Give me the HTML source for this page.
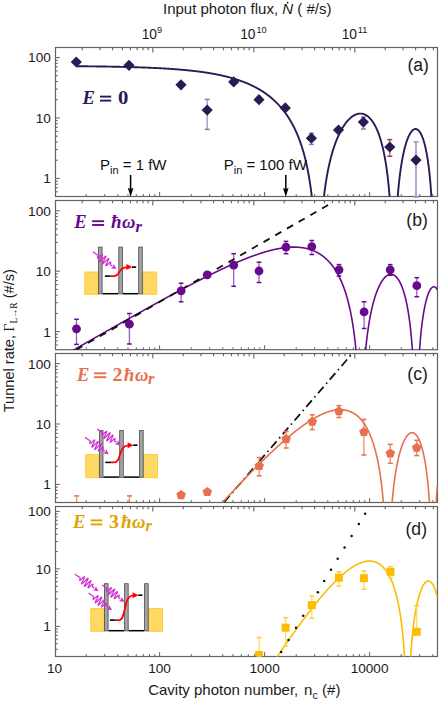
<!DOCTYPE html>
<html><head><meta charset="utf-8"><style>
html,body{margin:0;padding:0;background:#fff;width:443px;height:706px;overflow:hidden}
svg{display:block;font-family:"Liberation Sans",sans-serif}
</style></head><body>
<svg width="443" height="706" viewBox="0 0 443 706">
<defs><clipPath id="clipa"><rect x="55.5" y="47.5" width="382.0" height="149.0"/></clipPath><clipPath id="clipb"><rect x="55.5" y="200.5" width="382.0" height="149.2"/></clipPath><clipPath id="clipc"><rect x="55.5" y="353.5" width="382.0" height="149.0"/></clipPath><clipPath id="clipd"><rect x="55.5" y="506.5" width="382.0" height="150.0"/></clipPath></defs>
<rect x="55.5" y="47.5" width="382.0" height="149.0" fill="none" stroke="#626262" stroke-width="1.2"/>
<line x1="55.5" y1="191.81" x2="57.9" y2="191.81" stroke="#626262" stroke-width="1"/>
<line x1="55.5" y1="187.76" x2="57.9" y2="187.76" stroke="#626262" stroke-width="1"/>
<line x1="55.5" y1="184.26" x2="57.9" y2="184.26" stroke="#626262" stroke-width="1"/>
<line x1="55.5" y1="181.17" x2="57.9" y2="181.17" stroke="#626262" stroke-width="1"/>
<line x1="55.5" y1="178.40" x2="59.9" y2="178.40" stroke="#626262" stroke-width="1"/>
<line x1="55.5" y1="160.20" x2="57.9" y2="160.20" stroke="#626262" stroke-width="1"/>
<line x1="55.5" y1="149.56" x2="57.9" y2="149.56" stroke="#626262" stroke-width="1"/>
<line x1="55.5" y1="142.01" x2="57.9" y2="142.01" stroke="#626262" stroke-width="1"/>
<line x1="55.5" y1="136.15" x2="57.9" y2="136.15" stroke="#626262" stroke-width="1"/>
<line x1="55.5" y1="131.36" x2="57.9" y2="131.36" stroke="#626262" stroke-width="1"/>
<line x1="55.5" y1="127.31" x2="57.9" y2="127.31" stroke="#626262" stroke-width="1"/>
<line x1="55.5" y1="123.81" x2="57.9" y2="123.81" stroke="#626262" stroke-width="1"/>
<line x1="55.5" y1="120.72" x2="57.9" y2="120.72" stroke="#626262" stroke-width="1"/>
<line x1="55.5" y1="117.95" x2="59.9" y2="117.95" stroke="#626262" stroke-width="1"/>
<line x1="55.5" y1="99.75" x2="57.9" y2="99.75" stroke="#626262" stroke-width="1"/>
<line x1="55.5" y1="89.11" x2="57.9" y2="89.11" stroke="#626262" stroke-width="1"/>
<line x1="55.5" y1="81.56" x2="57.9" y2="81.56" stroke="#626262" stroke-width="1"/>
<line x1="55.5" y1="75.70" x2="57.9" y2="75.70" stroke="#626262" stroke-width="1"/>
<line x1="55.5" y1="70.91" x2="57.9" y2="70.91" stroke="#626262" stroke-width="1"/>
<line x1="55.5" y1="66.86" x2="57.9" y2="66.86" stroke="#626262" stroke-width="1"/>
<line x1="55.5" y1="63.36" x2="57.9" y2="63.36" stroke="#626262" stroke-width="1"/>
<line x1="55.5" y1="60.27" x2="57.9" y2="60.27" stroke="#626262" stroke-width="1"/>
<line x1="55.5" y1="57.50" x2="59.9" y2="57.50" stroke="#626262" stroke-width="1"/>
<line x1="86.21" y1="196.5" x2="86.21" y2="194.1" stroke="#626262" stroke-width="1"/>
<line x1="104.70" y1="196.5" x2="104.70" y2="194.1" stroke="#626262" stroke-width="1"/>
<line x1="117.82" y1="196.5" x2="117.82" y2="194.1" stroke="#626262" stroke-width="1"/>
<line x1="127.99" y1="196.5" x2="127.99" y2="194.1" stroke="#626262" stroke-width="1"/>
<line x1="136.31" y1="196.5" x2="136.31" y2="194.1" stroke="#626262" stroke-width="1"/>
<line x1="143.34" y1="196.5" x2="143.34" y2="194.1" stroke="#626262" stroke-width="1"/>
<line x1="149.42" y1="196.5" x2="149.42" y2="194.1" stroke="#626262" stroke-width="1"/>
<line x1="154.80" y1="196.5" x2="154.80" y2="194.1" stroke="#626262" stroke-width="1"/>
<line x1="159.60" y1="196.5" x2="159.60" y2="192.1" stroke="#626262" stroke-width="1"/>
<line x1="191.21" y1="196.5" x2="191.21" y2="194.1" stroke="#626262" stroke-width="1"/>
<line x1="209.70" y1="196.5" x2="209.70" y2="194.1" stroke="#626262" stroke-width="1"/>
<line x1="222.82" y1="196.5" x2="222.82" y2="194.1" stroke="#626262" stroke-width="1"/>
<line x1="232.99" y1="196.5" x2="232.99" y2="194.1" stroke="#626262" stroke-width="1"/>
<line x1="241.31" y1="196.5" x2="241.31" y2="194.1" stroke="#626262" stroke-width="1"/>
<line x1="248.34" y1="196.5" x2="248.34" y2="194.1" stroke="#626262" stroke-width="1"/>
<line x1="254.42" y1="196.5" x2="254.42" y2="194.1" stroke="#626262" stroke-width="1"/>
<line x1="259.80" y1="196.5" x2="259.80" y2="194.1" stroke="#626262" stroke-width="1"/>
<line x1="264.60" y1="196.5" x2="264.60" y2="192.1" stroke="#626262" stroke-width="1"/>
<line x1="296.21" y1="196.5" x2="296.21" y2="194.1" stroke="#626262" stroke-width="1"/>
<line x1="314.70" y1="196.5" x2="314.70" y2="194.1" stroke="#626262" stroke-width="1"/>
<line x1="327.82" y1="196.5" x2="327.82" y2="194.1" stroke="#626262" stroke-width="1"/>
<line x1="337.99" y1="196.5" x2="337.99" y2="194.1" stroke="#626262" stroke-width="1"/>
<line x1="346.31" y1="196.5" x2="346.31" y2="194.1" stroke="#626262" stroke-width="1"/>
<line x1="353.34" y1="196.5" x2="353.34" y2="194.1" stroke="#626262" stroke-width="1"/>
<line x1="359.42" y1="196.5" x2="359.42" y2="194.1" stroke="#626262" stroke-width="1"/>
<line x1="364.80" y1="196.5" x2="364.80" y2="194.1" stroke="#626262" stroke-width="1"/>
<line x1="369.60" y1="196.5" x2="369.60" y2="192.1" stroke="#626262" stroke-width="1"/>
<line x1="401.21" y1="196.5" x2="401.21" y2="194.1" stroke="#626262" stroke-width="1"/>
<line x1="419.70" y1="196.5" x2="419.70" y2="194.1" stroke="#626262" stroke-width="1"/>
<line x1="432.82" y1="196.5" x2="432.82" y2="194.1" stroke="#626262" stroke-width="1"/>
<line x1="82.20" y1="47.5" x2="82.20" y2="50.2" stroke="#626262" stroke-width="1.1"/>
<line x1="99.99" y1="47.5" x2="99.99" y2="50.2" stroke="#626262" stroke-width="1.1"/>
<line x1="112.61" y1="47.5" x2="112.61" y2="50.2" stroke="#626262" stroke-width="1.1"/>
<line x1="122.40" y1="47.5" x2="122.40" y2="50.2" stroke="#626262" stroke-width="1.1"/>
<line x1="130.39" y1="47.5" x2="130.39" y2="50.2" stroke="#626262" stroke-width="1.1"/>
<line x1="137.15" y1="47.5" x2="137.15" y2="50.2" stroke="#626262" stroke-width="1.1"/>
<line x1="143.01" y1="47.5" x2="143.01" y2="50.2" stroke="#626262" stroke-width="1.1"/>
<line x1="148.18" y1="47.5" x2="148.18" y2="50.2" stroke="#626262" stroke-width="1.1"/>
<line x1="152.80" y1="47.5" x2="152.80" y2="52.5" stroke="#626262" stroke-width="1.1"/>
<line x1="183.20" y1="47.5" x2="183.20" y2="50.2" stroke="#626262" stroke-width="1.1"/>
<line x1="200.99" y1="47.5" x2="200.99" y2="50.2" stroke="#626262" stroke-width="1.1"/>
<line x1="213.61" y1="47.5" x2="213.61" y2="50.2" stroke="#626262" stroke-width="1.1"/>
<line x1="223.40" y1="47.5" x2="223.40" y2="50.2" stroke="#626262" stroke-width="1.1"/>
<line x1="231.39" y1="47.5" x2="231.39" y2="50.2" stroke="#626262" stroke-width="1.1"/>
<line x1="238.15" y1="47.5" x2="238.15" y2="50.2" stroke="#626262" stroke-width="1.1"/>
<line x1="244.01" y1="47.5" x2="244.01" y2="50.2" stroke="#626262" stroke-width="1.1"/>
<line x1="249.18" y1="47.5" x2="249.18" y2="50.2" stroke="#626262" stroke-width="1.1"/>
<line x1="253.80" y1="47.5" x2="253.80" y2="52.5" stroke="#626262" stroke-width="1.1"/>
<line x1="284.20" y1="47.5" x2="284.20" y2="50.2" stroke="#626262" stroke-width="1.1"/>
<line x1="301.99" y1="47.5" x2="301.99" y2="50.2" stroke="#626262" stroke-width="1.1"/>
<line x1="314.61" y1="47.5" x2="314.61" y2="50.2" stroke="#626262" stroke-width="1.1"/>
<line x1="324.40" y1="47.5" x2="324.40" y2="50.2" stroke="#626262" stroke-width="1.1"/>
<line x1="332.39" y1="47.5" x2="332.39" y2="50.2" stroke="#626262" stroke-width="1.1"/>
<line x1="339.15" y1="47.5" x2="339.15" y2="50.2" stroke="#626262" stroke-width="1.1"/>
<line x1="345.01" y1="47.5" x2="345.01" y2="50.2" stroke="#626262" stroke-width="1.1"/>
<line x1="350.18" y1="47.5" x2="350.18" y2="50.2" stroke="#626262" stroke-width="1.1"/>
<line x1="354.80" y1="47.5" x2="354.80" y2="52.5" stroke="#626262" stroke-width="1.1"/>
<line x1="385.20" y1="47.5" x2="385.20" y2="50.2" stroke="#626262" stroke-width="1.1"/>
<line x1="402.99" y1="47.5" x2="402.99" y2="50.2" stroke="#626262" stroke-width="1.1"/>
<line x1="415.61" y1="47.5" x2="415.61" y2="50.2" stroke="#626262" stroke-width="1.1"/>
<line x1="425.40" y1="47.5" x2="425.40" y2="50.2" stroke="#626262" stroke-width="1.1"/>
<line x1="433.39" y1="47.5" x2="433.39" y2="50.2" stroke="#626262" stroke-width="1.1"/>
<rect x="55.5" y="200.5" width="382.0" height="149.2" fill="none" stroke="#626262" stroke-width="1.2"/>
<line x1="55.5" y1="345.00" x2="57.9" y2="345.00" stroke="#626262" stroke-width="1"/>
<line x1="55.5" y1="340.96" x2="57.9" y2="340.96" stroke="#626262" stroke-width="1"/>
<line x1="55.5" y1="337.45" x2="57.9" y2="337.45" stroke="#626262" stroke-width="1"/>
<line x1="55.5" y1="334.36" x2="57.9" y2="334.36" stroke="#626262" stroke-width="1"/>
<line x1="55.5" y1="331.60" x2="59.9" y2="331.60" stroke="#626262" stroke-width="1"/>
<line x1="55.5" y1="313.42" x2="57.9" y2="313.42" stroke="#626262" stroke-width="1"/>
<line x1="55.5" y1="302.78" x2="57.9" y2="302.78" stroke="#626262" stroke-width="1"/>
<line x1="55.5" y1="295.24" x2="57.9" y2="295.24" stroke="#626262" stroke-width="1"/>
<line x1="55.5" y1="289.38" x2="57.9" y2="289.38" stroke="#626262" stroke-width="1"/>
<line x1="55.5" y1="284.60" x2="57.9" y2="284.60" stroke="#626262" stroke-width="1"/>
<line x1="55.5" y1="280.56" x2="57.9" y2="280.56" stroke="#626262" stroke-width="1"/>
<line x1="55.5" y1="277.05" x2="57.9" y2="277.05" stroke="#626262" stroke-width="1"/>
<line x1="55.5" y1="273.96" x2="57.9" y2="273.96" stroke="#626262" stroke-width="1"/>
<line x1="55.5" y1="271.20" x2="59.9" y2="271.20" stroke="#626262" stroke-width="1"/>
<line x1="55.5" y1="253.02" x2="57.9" y2="253.02" stroke="#626262" stroke-width="1"/>
<line x1="55.5" y1="242.38" x2="57.9" y2="242.38" stroke="#626262" stroke-width="1"/>
<line x1="55.5" y1="234.84" x2="57.9" y2="234.84" stroke="#626262" stroke-width="1"/>
<line x1="55.5" y1="228.98" x2="57.9" y2="228.98" stroke="#626262" stroke-width="1"/>
<line x1="55.5" y1="224.20" x2="57.9" y2="224.20" stroke="#626262" stroke-width="1"/>
<line x1="55.5" y1="220.16" x2="57.9" y2="220.16" stroke="#626262" stroke-width="1"/>
<line x1="55.5" y1="216.65" x2="57.9" y2="216.65" stroke="#626262" stroke-width="1"/>
<line x1="55.5" y1="213.56" x2="57.9" y2="213.56" stroke="#626262" stroke-width="1"/>
<line x1="55.5" y1="210.80" x2="59.9" y2="210.80" stroke="#626262" stroke-width="1"/>
<line x1="86.21" y1="349.7" x2="86.21" y2="347.3" stroke="#626262" stroke-width="1"/>
<line x1="104.70" y1="349.7" x2="104.70" y2="347.3" stroke="#626262" stroke-width="1"/>
<line x1="117.82" y1="349.7" x2="117.82" y2="347.3" stroke="#626262" stroke-width="1"/>
<line x1="127.99" y1="349.7" x2="127.99" y2="347.3" stroke="#626262" stroke-width="1"/>
<line x1="136.31" y1="349.7" x2="136.31" y2="347.3" stroke="#626262" stroke-width="1"/>
<line x1="143.34" y1="349.7" x2="143.34" y2="347.3" stroke="#626262" stroke-width="1"/>
<line x1="149.42" y1="349.7" x2="149.42" y2="347.3" stroke="#626262" stroke-width="1"/>
<line x1="154.80" y1="349.7" x2="154.80" y2="347.3" stroke="#626262" stroke-width="1"/>
<line x1="159.60" y1="349.7" x2="159.60" y2="345.3" stroke="#626262" stroke-width="1"/>
<line x1="191.21" y1="349.7" x2="191.21" y2="347.3" stroke="#626262" stroke-width="1"/>
<line x1="209.70" y1="349.7" x2="209.70" y2="347.3" stroke="#626262" stroke-width="1"/>
<line x1="222.82" y1="349.7" x2="222.82" y2="347.3" stroke="#626262" stroke-width="1"/>
<line x1="232.99" y1="349.7" x2="232.99" y2="347.3" stroke="#626262" stroke-width="1"/>
<line x1="241.31" y1="349.7" x2="241.31" y2="347.3" stroke="#626262" stroke-width="1"/>
<line x1="248.34" y1="349.7" x2="248.34" y2="347.3" stroke="#626262" stroke-width="1"/>
<line x1="254.42" y1="349.7" x2="254.42" y2="347.3" stroke="#626262" stroke-width="1"/>
<line x1="259.80" y1="349.7" x2="259.80" y2="347.3" stroke="#626262" stroke-width="1"/>
<line x1="264.60" y1="349.7" x2="264.60" y2="345.3" stroke="#626262" stroke-width="1"/>
<line x1="296.21" y1="349.7" x2="296.21" y2="347.3" stroke="#626262" stroke-width="1"/>
<line x1="314.70" y1="349.7" x2="314.70" y2="347.3" stroke="#626262" stroke-width="1"/>
<line x1="327.82" y1="349.7" x2="327.82" y2="347.3" stroke="#626262" stroke-width="1"/>
<line x1="337.99" y1="349.7" x2="337.99" y2="347.3" stroke="#626262" stroke-width="1"/>
<line x1="346.31" y1="349.7" x2="346.31" y2="347.3" stroke="#626262" stroke-width="1"/>
<line x1="353.34" y1="349.7" x2="353.34" y2="347.3" stroke="#626262" stroke-width="1"/>
<line x1="359.42" y1="349.7" x2="359.42" y2="347.3" stroke="#626262" stroke-width="1"/>
<line x1="364.80" y1="349.7" x2="364.80" y2="347.3" stroke="#626262" stroke-width="1"/>
<line x1="369.60" y1="349.7" x2="369.60" y2="345.3" stroke="#626262" stroke-width="1"/>
<line x1="401.21" y1="349.7" x2="401.21" y2="347.3" stroke="#626262" stroke-width="1"/>
<line x1="419.70" y1="349.7" x2="419.70" y2="347.3" stroke="#626262" stroke-width="1"/>
<line x1="432.82" y1="349.7" x2="432.82" y2="347.3" stroke="#626262" stroke-width="1"/>
<line x1="82.20" y1="200.5" x2="82.20" y2="203.2" stroke="#626262" stroke-width="1.1"/>
<line x1="99.99" y1="200.5" x2="99.99" y2="203.2" stroke="#626262" stroke-width="1.1"/>
<line x1="112.61" y1="200.5" x2="112.61" y2="203.2" stroke="#626262" stroke-width="1.1"/>
<line x1="122.40" y1="200.5" x2="122.40" y2="203.2" stroke="#626262" stroke-width="1.1"/>
<line x1="130.39" y1="200.5" x2="130.39" y2="203.2" stroke="#626262" stroke-width="1.1"/>
<line x1="137.15" y1="200.5" x2="137.15" y2="203.2" stroke="#626262" stroke-width="1.1"/>
<line x1="143.01" y1="200.5" x2="143.01" y2="203.2" stroke="#626262" stroke-width="1.1"/>
<line x1="148.18" y1="200.5" x2="148.18" y2="203.2" stroke="#626262" stroke-width="1.1"/>
<line x1="152.80" y1="200.5" x2="152.80" y2="205.5" stroke="#626262" stroke-width="1.1"/>
<line x1="183.20" y1="200.5" x2="183.20" y2="203.2" stroke="#626262" stroke-width="1.1"/>
<line x1="200.99" y1="200.5" x2="200.99" y2="203.2" stroke="#626262" stroke-width="1.1"/>
<line x1="213.61" y1="200.5" x2="213.61" y2="203.2" stroke="#626262" stroke-width="1.1"/>
<line x1="223.40" y1="200.5" x2="223.40" y2="203.2" stroke="#626262" stroke-width="1.1"/>
<line x1="231.39" y1="200.5" x2="231.39" y2="203.2" stroke="#626262" stroke-width="1.1"/>
<line x1="238.15" y1="200.5" x2="238.15" y2="203.2" stroke="#626262" stroke-width="1.1"/>
<line x1="244.01" y1="200.5" x2="244.01" y2="203.2" stroke="#626262" stroke-width="1.1"/>
<line x1="249.18" y1="200.5" x2="249.18" y2="203.2" stroke="#626262" stroke-width="1.1"/>
<line x1="253.80" y1="200.5" x2="253.80" y2="205.5" stroke="#626262" stroke-width="1.1"/>
<line x1="284.20" y1="200.5" x2="284.20" y2="203.2" stroke="#626262" stroke-width="1.1"/>
<line x1="301.99" y1="200.5" x2="301.99" y2="203.2" stroke="#626262" stroke-width="1.1"/>
<line x1="314.61" y1="200.5" x2="314.61" y2="203.2" stroke="#626262" stroke-width="1.1"/>
<line x1="324.40" y1="200.5" x2="324.40" y2="203.2" stroke="#626262" stroke-width="1.1"/>
<line x1="332.39" y1="200.5" x2="332.39" y2="203.2" stroke="#626262" stroke-width="1.1"/>
<line x1="339.15" y1="200.5" x2="339.15" y2="203.2" stroke="#626262" stroke-width="1.1"/>
<line x1="345.01" y1="200.5" x2="345.01" y2="203.2" stroke="#626262" stroke-width="1.1"/>
<line x1="350.18" y1="200.5" x2="350.18" y2="203.2" stroke="#626262" stroke-width="1.1"/>
<line x1="354.80" y1="200.5" x2="354.80" y2="205.5" stroke="#626262" stroke-width="1.1"/>
<line x1="385.20" y1="200.5" x2="385.20" y2="203.2" stroke="#626262" stroke-width="1.1"/>
<line x1="402.99" y1="200.5" x2="402.99" y2="203.2" stroke="#626262" stroke-width="1.1"/>
<line x1="415.61" y1="200.5" x2="415.61" y2="203.2" stroke="#626262" stroke-width="1.1"/>
<line x1="425.40" y1="200.5" x2="425.40" y2="203.2" stroke="#626262" stroke-width="1.1"/>
<line x1="433.39" y1="200.5" x2="433.39" y2="203.2" stroke="#626262" stroke-width="1.1"/>
<rect x="55.5" y="353.5" width="382.0" height="149.0" fill="none" stroke="#626262" stroke-width="1.2"/>
<line x1="55.5" y1="497.80" x2="57.9" y2="497.80" stroke="#626262" stroke-width="1"/>
<line x1="55.5" y1="493.76" x2="57.9" y2="493.76" stroke="#626262" stroke-width="1"/>
<line x1="55.5" y1="490.25" x2="57.9" y2="490.25" stroke="#626262" stroke-width="1"/>
<line x1="55.5" y1="487.16" x2="57.9" y2="487.16" stroke="#626262" stroke-width="1"/>
<line x1="55.5" y1="484.40" x2="59.9" y2="484.40" stroke="#626262" stroke-width="1"/>
<line x1="55.5" y1="466.22" x2="57.9" y2="466.22" stroke="#626262" stroke-width="1"/>
<line x1="55.5" y1="455.58" x2="57.9" y2="455.58" stroke="#626262" stroke-width="1"/>
<line x1="55.5" y1="448.04" x2="57.9" y2="448.04" stroke="#626262" stroke-width="1"/>
<line x1="55.5" y1="442.18" x2="57.9" y2="442.18" stroke="#626262" stroke-width="1"/>
<line x1="55.5" y1="437.40" x2="57.9" y2="437.40" stroke="#626262" stroke-width="1"/>
<line x1="55.5" y1="433.36" x2="57.9" y2="433.36" stroke="#626262" stroke-width="1"/>
<line x1="55.5" y1="429.85" x2="57.9" y2="429.85" stroke="#626262" stroke-width="1"/>
<line x1="55.5" y1="426.76" x2="57.9" y2="426.76" stroke="#626262" stroke-width="1"/>
<line x1="55.5" y1="424.00" x2="59.9" y2="424.00" stroke="#626262" stroke-width="1"/>
<line x1="55.5" y1="405.82" x2="57.9" y2="405.82" stroke="#626262" stroke-width="1"/>
<line x1="55.5" y1="395.18" x2="57.9" y2="395.18" stroke="#626262" stroke-width="1"/>
<line x1="55.5" y1="387.64" x2="57.9" y2="387.64" stroke="#626262" stroke-width="1"/>
<line x1="55.5" y1="381.78" x2="57.9" y2="381.78" stroke="#626262" stroke-width="1"/>
<line x1="55.5" y1="377.00" x2="57.9" y2="377.00" stroke="#626262" stroke-width="1"/>
<line x1="55.5" y1="372.96" x2="57.9" y2="372.96" stroke="#626262" stroke-width="1"/>
<line x1="55.5" y1="369.45" x2="57.9" y2="369.45" stroke="#626262" stroke-width="1"/>
<line x1="55.5" y1="366.36" x2="57.9" y2="366.36" stroke="#626262" stroke-width="1"/>
<line x1="55.5" y1="363.60" x2="59.9" y2="363.60" stroke="#626262" stroke-width="1"/>
<line x1="86.21" y1="502.5" x2="86.21" y2="500.1" stroke="#626262" stroke-width="1"/>
<line x1="104.70" y1="502.5" x2="104.70" y2="500.1" stroke="#626262" stroke-width="1"/>
<line x1="117.82" y1="502.5" x2="117.82" y2="500.1" stroke="#626262" stroke-width="1"/>
<line x1="127.99" y1="502.5" x2="127.99" y2="500.1" stroke="#626262" stroke-width="1"/>
<line x1="136.31" y1="502.5" x2="136.31" y2="500.1" stroke="#626262" stroke-width="1"/>
<line x1="143.34" y1="502.5" x2="143.34" y2="500.1" stroke="#626262" stroke-width="1"/>
<line x1="149.42" y1="502.5" x2="149.42" y2="500.1" stroke="#626262" stroke-width="1"/>
<line x1="154.80" y1="502.5" x2="154.80" y2="500.1" stroke="#626262" stroke-width="1"/>
<line x1="159.60" y1="502.5" x2="159.60" y2="498.1" stroke="#626262" stroke-width="1"/>
<line x1="191.21" y1="502.5" x2="191.21" y2="500.1" stroke="#626262" stroke-width="1"/>
<line x1="209.70" y1="502.5" x2="209.70" y2="500.1" stroke="#626262" stroke-width="1"/>
<line x1="222.82" y1="502.5" x2="222.82" y2="500.1" stroke="#626262" stroke-width="1"/>
<line x1="232.99" y1="502.5" x2="232.99" y2="500.1" stroke="#626262" stroke-width="1"/>
<line x1="241.31" y1="502.5" x2="241.31" y2="500.1" stroke="#626262" stroke-width="1"/>
<line x1="248.34" y1="502.5" x2="248.34" y2="500.1" stroke="#626262" stroke-width="1"/>
<line x1="254.42" y1="502.5" x2="254.42" y2="500.1" stroke="#626262" stroke-width="1"/>
<line x1="259.80" y1="502.5" x2="259.80" y2="500.1" stroke="#626262" stroke-width="1"/>
<line x1="264.60" y1="502.5" x2="264.60" y2="498.1" stroke="#626262" stroke-width="1"/>
<line x1="296.21" y1="502.5" x2="296.21" y2="500.1" stroke="#626262" stroke-width="1"/>
<line x1="314.70" y1="502.5" x2="314.70" y2="500.1" stroke="#626262" stroke-width="1"/>
<line x1="327.82" y1="502.5" x2="327.82" y2="500.1" stroke="#626262" stroke-width="1"/>
<line x1="337.99" y1="502.5" x2="337.99" y2="500.1" stroke="#626262" stroke-width="1"/>
<line x1="346.31" y1="502.5" x2="346.31" y2="500.1" stroke="#626262" stroke-width="1"/>
<line x1="353.34" y1="502.5" x2="353.34" y2="500.1" stroke="#626262" stroke-width="1"/>
<line x1="359.42" y1="502.5" x2="359.42" y2="500.1" stroke="#626262" stroke-width="1"/>
<line x1="364.80" y1="502.5" x2="364.80" y2="500.1" stroke="#626262" stroke-width="1"/>
<line x1="369.60" y1="502.5" x2="369.60" y2="498.1" stroke="#626262" stroke-width="1"/>
<line x1="401.21" y1="502.5" x2="401.21" y2="500.1" stroke="#626262" stroke-width="1"/>
<line x1="419.70" y1="502.5" x2="419.70" y2="500.1" stroke="#626262" stroke-width="1"/>
<line x1="432.82" y1="502.5" x2="432.82" y2="500.1" stroke="#626262" stroke-width="1"/>
<line x1="82.20" y1="353.5" x2="82.20" y2="356.2" stroke="#626262" stroke-width="1.1"/>
<line x1="99.99" y1="353.5" x2="99.99" y2="356.2" stroke="#626262" stroke-width="1.1"/>
<line x1="112.61" y1="353.5" x2="112.61" y2="356.2" stroke="#626262" stroke-width="1.1"/>
<line x1="122.40" y1="353.5" x2="122.40" y2="356.2" stroke="#626262" stroke-width="1.1"/>
<line x1="130.39" y1="353.5" x2="130.39" y2="356.2" stroke="#626262" stroke-width="1.1"/>
<line x1="137.15" y1="353.5" x2="137.15" y2="356.2" stroke="#626262" stroke-width="1.1"/>
<line x1="143.01" y1="353.5" x2="143.01" y2="356.2" stroke="#626262" stroke-width="1.1"/>
<line x1="148.18" y1="353.5" x2="148.18" y2="356.2" stroke="#626262" stroke-width="1.1"/>
<line x1="152.80" y1="353.5" x2="152.80" y2="358.5" stroke="#626262" stroke-width="1.1"/>
<line x1="183.20" y1="353.5" x2="183.20" y2="356.2" stroke="#626262" stroke-width="1.1"/>
<line x1="200.99" y1="353.5" x2="200.99" y2="356.2" stroke="#626262" stroke-width="1.1"/>
<line x1="213.61" y1="353.5" x2="213.61" y2="356.2" stroke="#626262" stroke-width="1.1"/>
<line x1="223.40" y1="353.5" x2="223.40" y2="356.2" stroke="#626262" stroke-width="1.1"/>
<line x1="231.39" y1="353.5" x2="231.39" y2="356.2" stroke="#626262" stroke-width="1.1"/>
<line x1="238.15" y1="353.5" x2="238.15" y2="356.2" stroke="#626262" stroke-width="1.1"/>
<line x1="244.01" y1="353.5" x2="244.01" y2="356.2" stroke="#626262" stroke-width="1.1"/>
<line x1="249.18" y1="353.5" x2="249.18" y2="356.2" stroke="#626262" stroke-width="1.1"/>
<line x1="253.80" y1="353.5" x2="253.80" y2="358.5" stroke="#626262" stroke-width="1.1"/>
<line x1="284.20" y1="353.5" x2="284.20" y2="356.2" stroke="#626262" stroke-width="1.1"/>
<line x1="301.99" y1="353.5" x2="301.99" y2="356.2" stroke="#626262" stroke-width="1.1"/>
<line x1="314.61" y1="353.5" x2="314.61" y2="356.2" stroke="#626262" stroke-width="1.1"/>
<line x1="324.40" y1="353.5" x2="324.40" y2="356.2" stroke="#626262" stroke-width="1.1"/>
<line x1="332.39" y1="353.5" x2="332.39" y2="356.2" stroke="#626262" stroke-width="1.1"/>
<line x1="339.15" y1="353.5" x2="339.15" y2="356.2" stroke="#626262" stroke-width="1.1"/>
<line x1="345.01" y1="353.5" x2="345.01" y2="356.2" stroke="#626262" stroke-width="1.1"/>
<line x1="350.18" y1="353.5" x2="350.18" y2="356.2" stroke="#626262" stroke-width="1.1"/>
<line x1="354.80" y1="353.5" x2="354.80" y2="358.5" stroke="#626262" stroke-width="1.1"/>
<line x1="385.20" y1="353.5" x2="385.20" y2="356.2" stroke="#626262" stroke-width="1.1"/>
<line x1="402.99" y1="353.5" x2="402.99" y2="356.2" stroke="#626262" stroke-width="1.1"/>
<line x1="415.61" y1="353.5" x2="415.61" y2="356.2" stroke="#626262" stroke-width="1.1"/>
<line x1="425.40" y1="353.5" x2="425.40" y2="356.2" stroke="#626262" stroke-width="1.1"/>
<line x1="433.39" y1="353.5" x2="433.39" y2="356.2" stroke="#626262" stroke-width="1.1"/>
<rect x="55.5" y="506.5" width="382.0" height="150.0" fill="none" stroke="#626262" stroke-width="1.2"/>
<line x1="55.5" y1="649.28" x2="57.9" y2="649.28" stroke="#626262" stroke-width="1"/>
<line x1="55.5" y1="643.71" x2="57.9" y2="643.71" stroke="#626262" stroke-width="1"/>
<line x1="55.5" y1="639.16" x2="57.9" y2="639.16" stroke="#626262" stroke-width="1"/>
<line x1="55.5" y1="635.31" x2="57.9" y2="635.31" stroke="#626262" stroke-width="1"/>
<line x1="55.5" y1="631.97" x2="57.9" y2="631.97" stroke="#626262" stroke-width="1"/>
<line x1="55.5" y1="629.03" x2="57.9" y2="629.03" stroke="#626262" stroke-width="1"/>
<line x1="55.5" y1="626.40" x2="59.9" y2="626.40" stroke="#626262" stroke-width="1"/>
<line x1="55.5" y1="609.09" x2="57.9" y2="609.09" stroke="#626262" stroke-width="1"/>
<line x1="55.5" y1="598.97" x2="57.9" y2="598.97" stroke="#626262" stroke-width="1"/>
<line x1="55.5" y1="591.78" x2="57.9" y2="591.78" stroke="#626262" stroke-width="1"/>
<line x1="55.5" y1="586.21" x2="57.9" y2="586.21" stroke="#626262" stroke-width="1"/>
<line x1="55.5" y1="581.66" x2="57.9" y2="581.66" stroke="#626262" stroke-width="1"/>
<line x1="55.5" y1="577.81" x2="57.9" y2="577.81" stroke="#626262" stroke-width="1"/>
<line x1="55.5" y1="574.47" x2="57.9" y2="574.47" stroke="#626262" stroke-width="1"/>
<line x1="55.5" y1="571.53" x2="57.9" y2="571.53" stroke="#626262" stroke-width="1"/>
<line x1="55.5" y1="568.90" x2="59.9" y2="568.90" stroke="#626262" stroke-width="1"/>
<line x1="55.5" y1="551.59" x2="57.9" y2="551.59" stroke="#626262" stroke-width="1"/>
<line x1="55.5" y1="541.47" x2="57.9" y2="541.47" stroke="#626262" stroke-width="1"/>
<line x1="55.5" y1="534.28" x2="57.9" y2="534.28" stroke="#626262" stroke-width="1"/>
<line x1="55.5" y1="528.71" x2="57.9" y2="528.71" stroke="#626262" stroke-width="1"/>
<line x1="55.5" y1="524.16" x2="57.9" y2="524.16" stroke="#626262" stroke-width="1"/>
<line x1="55.5" y1="520.31" x2="57.9" y2="520.31" stroke="#626262" stroke-width="1"/>
<line x1="55.5" y1="516.97" x2="57.9" y2="516.97" stroke="#626262" stroke-width="1"/>
<line x1="55.5" y1="514.03" x2="57.9" y2="514.03" stroke="#626262" stroke-width="1"/>
<line x1="55.5" y1="511.40" x2="59.9" y2="511.40" stroke="#626262" stroke-width="1"/>
<line x1="86.21" y1="656.5" x2="86.21" y2="654.1" stroke="#626262" stroke-width="1"/>
<line x1="104.70" y1="656.5" x2="104.70" y2="654.1" stroke="#626262" stroke-width="1"/>
<line x1="117.82" y1="656.5" x2="117.82" y2="654.1" stroke="#626262" stroke-width="1"/>
<line x1="127.99" y1="656.5" x2="127.99" y2="654.1" stroke="#626262" stroke-width="1"/>
<line x1="136.31" y1="656.5" x2="136.31" y2="654.1" stroke="#626262" stroke-width="1"/>
<line x1="143.34" y1="656.5" x2="143.34" y2="654.1" stroke="#626262" stroke-width="1"/>
<line x1="149.42" y1="656.5" x2="149.42" y2="654.1" stroke="#626262" stroke-width="1"/>
<line x1="154.80" y1="656.5" x2="154.80" y2="654.1" stroke="#626262" stroke-width="1"/>
<line x1="159.60" y1="656.5" x2="159.60" y2="652.1" stroke="#626262" stroke-width="1"/>
<line x1="191.21" y1="656.5" x2="191.21" y2="654.1" stroke="#626262" stroke-width="1"/>
<line x1="209.70" y1="656.5" x2="209.70" y2="654.1" stroke="#626262" stroke-width="1"/>
<line x1="222.82" y1="656.5" x2="222.82" y2="654.1" stroke="#626262" stroke-width="1"/>
<line x1="232.99" y1="656.5" x2="232.99" y2="654.1" stroke="#626262" stroke-width="1"/>
<line x1="241.31" y1="656.5" x2="241.31" y2="654.1" stroke="#626262" stroke-width="1"/>
<line x1="248.34" y1="656.5" x2="248.34" y2="654.1" stroke="#626262" stroke-width="1"/>
<line x1="254.42" y1="656.5" x2="254.42" y2="654.1" stroke="#626262" stroke-width="1"/>
<line x1="259.80" y1="656.5" x2="259.80" y2="654.1" stroke="#626262" stroke-width="1"/>
<line x1="264.60" y1="656.5" x2="264.60" y2="652.1" stroke="#626262" stroke-width="1"/>
<line x1="296.21" y1="656.5" x2="296.21" y2="654.1" stroke="#626262" stroke-width="1"/>
<line x1="314.70" y1="656.5" x2="314.70" y2="654.1" stroke="#626262" stroke-width="1"/>
<line x1="327.82" y1="656.5" x2="327.82" y2="654.1" stroke="#626262" stroke-width="1"/>
<line x1="337.99" y1="656.5" x2="337.99" y2="654.1" stroke="#626262" stroke-width="1"/>
<line x1="346.31" y1="656.5" x2="346.31" y2="654.1" stroke="#626262" stroke-width="1"/>
<line x1="353.34" y1="656.5" x2="353.34" y2="654.1" stroke="#626262" stroke-width="1"/>
<line x1="359.42" y1="656.5" x2="359.42" y2="654.1" stroke="#626262" stroke-width="1"/>
<line x1="364.80" y1="656.5" x2="364.80" y2="654.1" stroke="#626262" stroke-width="1"/>
<line x1="369.60" y1="656.5" x2="369.60" y2="652.1" stroke="#626262" stroke-width="1"/>
<line x1="401.21" y1="656.5" x2="401.21" y2="654.1" stroke="#626262" stroke-width="1"/>
<line x1="419.70" y1="656.5" x2="419.70" y2="654.1" stroke="#626262" stroke-width="1"/>
<line x1="432.82" y1="656.5" x2="432.82" y2="654.1" stroke="#626262" stroke-width="1"/>
<line x1="82.20" y1="506.5" x2="82.20" y2="509.2" stroke="#626262" stroke-width="1.1"/>
<line x1="99.99" y1="506.5" x2="99.99" y2="509.2" stroke="#626262" stroke-width="1.1"/>
<line x1="112.61" y1="506.5" x2="112.61" y2="509.2" stroke="#626262" stroke-width="1.1"/>
<line x1="122.40" y1="506.5" x2="122.40" y2="509.2" stroke="#626262" stroke-width="1.1"/>
<line x1="130.39" y1="506.5" x2="130.39" y2="509.2" stroke="#626262" stroke-width="1.1"/>
<line x1="137.15" y1="506.5" x2="137.15" y2="509.2" stroke="#626262" stroke-width="1.1"/>
<line x1="143.01" y1="506.5" x2="143.01" y2="509.2" stroke="#626262" stroke-width="1.1"/>
<line x1="148.18" y1="506.5" x2="148.18" y2="509.2" stroke="#626262" stroke-width="1.1"/>
<line x1="152.80" y1="506.5" x2="152.80" y2="511.5" stroke="#626262" stroke-width="1.1"/>
<line x1="183.20" y1="506.5" x2="183.20" y2="509.2" stroke="#626262" stroke-width="1.1"/>
<line x1="200.99" y1="506.5" x2="200.99" y2="509.2" stroke="#626262" stroke-width="1.1"/>
<line x1="213.61" y1="506.5" x2="213.61" y2="509.2" stroke="#626262" stroke-width="1.1"/>
<line x1="223.40" y1="506.5" x2="223.40" y2="509.2" stroke="#626262" stroke-width="1.1"/>
<line x1="231.39" y1="506.5" x2="231.39" y2="509.2" stroke="#626262" stroke-width="1.1"/>
<line x1="238.15" y1="506.5" x2="238.15" y2="509.2" stroke="#626262" stroke-width="1.1"/>
<line x1="244.01" y1="506.5" x2="244.01" y2="509.2" stroke="#626262" stroke-width="1.1"/>
<line x1="249.18" y1="506.5" x2="249.18" y2="509.2" stroke="#626262" stroke-width="1.1"/>
<line x1="253.80" y1="506.5" x2="253.80" y2="511.5" stroke="#626262" stroke-width="1.1"/>
<line x1="284.20" y1="506.5" x2="284.20" y2="509.2" stroke="#626262" stroke-width="1.1"/>
<line x1="301.99" y1="506.5" x2="301.99" y2="509.2" stroke="#626262" stroke-width="1.1"/>
<line x1="314.61" y1="506.5" x2="314.61" y2="509.2" stroke="#626262" stroke-width="1.1"/>
<line x1="324.40" y1="506.5" x2="324.40" y2="509.2" stroke="#626262" stroke-width="1.1"/>
<line x1="332.39" y1="506.5" x2="332.39" y2="509.2" stroke="#626262" stroke-width="1.1"/>
<line x1="339.15" y1="506.5" x2="339.15" y2="509.2" stroke="#626262" stroke-width="1.1"/>
<line x1="345.01" y1="506.5" x2="345.01" y2="509.2" stroke="#626262" stroke-width="1.1"/>
<line x1="350.18" y1="506.5" x2="350.18" y2="509.2" stroke="#626262" stroke-width="1.1"/>
<line x1="354.80" y1="506.5" x2="354.80" y2="511.5" stroke="#626262" stroke-width="1.1"/>
<line x1="385.20" y1="506.5" x2="385.20" y2="509.2" stroke="#626262" stroke-width="1.1"/>
<line x1="402.99" y1="506.5" x2="402.99" y2="509.2" stroke="#626262" stroke-width="1.1"/>
<line x1="415.61" y1="506.5" x2="415.61" y2="509.2" stroke="#626262" stroke-width="1.1"/>
<line x1="425.40" y1="506.5" x2="425.40" y2="509.2" stroke="#626262" stroke-width="1.1"/>
<line x1="433.39" y1="506.5" x2="433.39" y2="509.2" stroke="#626262" stroke-width="1.1"/>
<text x="163" y="14.4" font-size="15" fill="#1a1a1a">Input photon flux, <tspan font-style="italic">N</tspan> ( #/s)</text>
<circle cx="287.6" cy="2.6" r="0.9" fill="#1a1a1a"/>
<text transform="translate(141.7,38.6) scale(0.933,1)" font-size="14.8" fill="#1a1a1a">10</text>
<text x="157.1" y="32.7" font-size="9.2" fill="#1a1a1a">9</text>
<text transform="translate(240.2,38.6) scale(0.933,1)" font-size="14.8" fill="#1a1a1a">10</text>
<text x="256.40000000000003" y="32.7" font-size="9.2" fill="#1a1a1a">10</text>
<text transform="translate(341.70000000000005,38.6) scale(0.933,1)" font-size="14.8" fill="#1a1a1a">10</text>
<text x="357.8" y="32.7" font-size="9.2" fill="#1a1a1a">11</text>
<text x="50.8" y="62.40" font-size="13.6" fill="#1a1a1a" text-anchor="end">100</text>
<text x="50.8" y="122.85" font-size="13.6" fill="#1a1a1a" text-anchor="end">10</text>
<text x="50.8" y="183.30" font-size="13.6" fill="#1a1a1a" text-anchor="end">1</text>
<text x="50.8" y="215.70" font-size="13.6" fill="#1a1a1a" text-anchor="end">100</text>
<text x="50.8" y="276.10" font-size="13.6" fill="#1a1a1a" text-anchor="end">10</text>
<text x="50.8" y="336.50" font-size="13.6" fill="#1a1a1a" text-anchor="end">1</text>
<text x="50.8" y="368.50" font-size="13.6" fill="#1a1a1a" text-anchor="end">100</text>
<text x="50.8" y="428.90" font-size="13.6" fill="#1a1a1a" text-anchor="end">10</text>
<text x="50.8" y="489.30" font-size="13.6" fill="#1a1a1a" text-anchor="end">1</text>
<text x="50.8" y="516.30" font-size="13.6" fill="#1a1a1a" text-anchor="end">100</text>
<text x="50.8" y="573.80" font-size="13.6" fill="#1a1a1a" text-anchor="end">10</text>
<text x="50.8" y="631.30" font-size="13.6" fill="#1a1a1a" text-anchor="end">1</text>
<text x="54.60" y="672.9" font-size="13.6" fill="#1a1a1a" text-anchor="middle">10</text>
<text x="159.60" y="672.9" font-size="13.6" fill="#1a1a1a" text-anchor="middle">100</text>
<text x="264.60" y="672.9" font-size="13.6" fill="#1a1a1a" text-anchor="middle">1000</text>
<text x="369.60" y="672.9" font-size="13.6" fill="#1a1a1a" text-anchor="middle">10000</text>
<text x="148.2" y="695.2" font-size="15" fill="#1a1a1a">Cavity photon number,<tspan dx="1.6"> n</tspan><tspan font-size="10.5" dy="4.2">c</tspan><tspan dy="-4.2" dx="0.3"> (#)</tspan></text>
<text transform="translate(13.8,412.3) rotate(-90)" x="0" y="0" font-size="14.6" fill="#1a1a1a">Tunnel rate, <tspan font-family="Liberation Serif" font-size="13.6" dx="-0.5">&#915;</tspan><tspan font-family="Liberation Serif" font-size="9.5" dy="3.2">L<tspan font-size="9">&#8594;</tspan>R</tspan><tspan dy="-3.2" dx="0"> (#/s)</tspan></text>
<text x="428.9" y="70.8" font-size="17.6" fill="#1a1a1a" text-anchor="end">(a)</text>
<text x="427.79999999999995" y="226.2" font-size="17.6" fill="#1a1a1a" text-anchor="end">(b)</text>
<text x="427.79999999999995" y="380.2" font-size="17.6" fill="#1a1a1a" text-anchor="end">(c)</text>
<text x="427.0" y="534.9" font-size="17.6" fill="#1a1a1a" text-anchor="end">(d)</text>
<path d="M76.20,66.21 L76.43,66.22 L76.65,66.22 L76.88,66.22 L77.10,66.22 L77.33,66.22 L77.56,66.23 L77.78,66.23 L78.01,66.23 L78.23,66.23 L78.46,66.23 L78.69,66.24 L78.91,66.24 L79.14,66.24 L79.36,66.24 L79.59,66.24 L79.82,66.25 L80.04,66.25 L80.27,66.25 L80.49,66.25 L80.72,66.25 L80.95,66.26 L81.17,66.26 L81.40,66.26 L81.62,66.26 L81.85,66.26 L82.07,66.27 L82.30,66.27 L82.53,66.27 L82.75,66.27 L82.98,66.27 L83.20,66.28 L83.43,66.28 L83.66,66.28 L83.88,66.28 L84.11,66.29 L84.33,66.29 L84.56,66.29 L84.79,66.29 L85.01,66.29 L85.24,66.30 L85.46,66.30 L85.69,66.30 L85.92,66.30 L86.14,66.31 L86.37,66.31 L86.59,66.31 L86.82,66.31 L87.05,66.32 L87.27,66.32 L87.50,66.32 L87.72,66.32 L87.95,66.33 L88.18,66.33 L88.40,66.33 L88.63,66.33 L88.85,66.34 L89.08,66.34 L89.31,66.34 L89.53,66.34 L89.76,66.35 L89.98,66.35 L90.21,66.35 L90.44,66.35 L90.66,66.36 L90.89,66.36 L91.11,66.36 L91.34,66.36 L91.56,66.37 L91.79,66.37 L92.02,66.37 L92.24,66.37 L92.47,66.38 L92.69,66.38 L92.92,66.38 L93.15,66.39 L93.37,66.39 L93.60,66.39 L93.82,66.39 L94.05,66.40 L94.28,66.40 L94.50,66.40 L94.73,66.40 L94.95,66.41 L95.18,66.41 L95.41,66.41 L95.63,66.42 L95.86,66.42 L96.08,66.42 L96.31,66.42 L96.54,66.43 L96.76,66.43 L96.99,66.43 L97.21,66.44 L97.44,66.44 L97.67,66.44 L97.89,66.45 L98.12,66.45 L98.34,66.45 L98.57,66.45 L98.80,66.46 L99.02,66.46 L99.25,66.46 L99.47,66.47 L99.70,66.47 L99.93,66.47 L100.15,66.48 L100.38,66.48 L100.60,66.48 L100.83,66.49 L101.05,66.49 L101.28,66.49 L101.51,66.50 L101.73,66.50 L101.96,66.50 L102.18,66.51 L102.41,66.51 L102.64,66.51 L102.86,66.52 L103.09,66.52 L103.31,66.52 L103.54,66.53 L103.77,66.53 L103.99,66.53 L104.22,66.54 L104.44,66.54 L104.67,66.54 L104.90,66.55 L105.12,66.55 L105.35,66.55 L105.57,66.56 L105.80,66.56 L106.03,66.57 L106.25,66.57 L106.48,66.57 L106.70,66.58 L106.93,66.58 L107.16,66.58 L107.38,66.59 L107.61,66.59 L107.83,66.60 L108.06,66.60 L108.29,66.60 L108.51,66.61 L108.74,66.61 L108.96,66.61 L109.19,66.62 L109.42,66.62 L109.64,66.63 L109.87,66.63 L110.09,66.63 L110.32,66.64 L110.54,66.64 L110.77,66.65 L111.00,66.65 L111.22,66.65 L111.45,66.66 L111.67,66.66 L111.90,66.67 L112.13,66.67 L112.35,66.67 L112.58,66.68 L112.80,66.68 L113.03,66.69 L113.26,66.69 L113.48,66.70 L113.71,66.70 L113.93,66.70 L114.16,66.71 L114.39,66.71 L114.61,66.72 L114.84,66.72 L115.06,66.73 L115.29,66.73 L115.52,66.74 L115.74,66.74 L115.97,66.74 L116.19,66.75 L116.42,66.75 L116.65,66.76 L116.87,66.76 L117.10,66.77 L117.32,66.77 L117.55,66.78 L117.78,66.78 L118.00,66.79 L118.23,66.79 L118.45,66.80 L118.68,66.80 L118.91,66.81 L119.13,66.81 L119.36,66.82 L119.58,66.82 L119.81,66.82 L120.04,66.83 L120.26,66.83 L120.49,66.84 L120.71,66.84 L120.94,66.85 L121.16,66.85 L121.39,66.86 L121.62,66.87 L121.84,66.87 L122.07,66.88 L122.29,66.88 L122.52,66.89 L122.75,66.89 L122.97,66.90 L123.20,66.90 L123.42,66.91 L123.65,66.91 L123.88,66.92 L124.10,66.92 L124.33,66.93 L124.55,66.93 L124.78,66.94 L125.01,66.95 L125.23,66.95 L125.46,66.96 L125.68,66.96 L125.91,66.97 L126.14,66.97 L126.36,66.98 L126.59,66.98 L126.81,66.99 L127.04,67.00 L127.27,67.00 L127.49,67.01 L127.72,67.01 L127.94,67.02 L128.17,67.03 L128.40,67.03 L128.62,67.04 L128.85,67.04 L129.07,67.05 L129.30,67.06 L129.53,67.06 L129.75,67.07 L129.98,67.07 L130.20,67.08 L130.43,67.09 L130.65,67.09 L130.88,67.10 L131.11,67.11 L131.33,67.11 L131.56,67.12 L131.78,67.12 L132.01,67.13 L132.24,67.14 L132.46,67.14 L132.69,67.15 L132.91,67.16 L133.14,67.16 L133.37,67.17 L133.59,67.18 L133.82,67.18 L134.04,67.19 L134.27,67.20 L134.50,67.20 L134.72,67.21 L134.95,67.22 L135.17,67.22 L135.40,67.23 L135.63,67.24 L135.85,67.25 L136.08,67.25 L136.30,67.26 L136.53,67.27 L136.76,67.27 L136.98,67.28 L137.21,67.29 L137.43,67.30 L137.66,67.30 L137.89,67.31 L138.11,67.32 L138.34,67.33 L138.56,67.33 L138.79,67.34 L139.02,67.35 L139.24,67.36 L139.47,67.36 L139.69,67.37 L139.92,67.38 L140.14,67.39 L140.37,67.39 L140.60,67.40 L140.82,67.41 L141.05,67.42 L141.27,67.43 L141.50,67.43 L141.73,67.44 L141.95,67.45 L142.18,67.46 L142.40,67.47 L142.63,67.47 L142.86,67.48 L143.08,67.49 L143.31,67.50 L143.53,67.51 L143.76,67.51 L143.99,67.52 L144.21,67.53 L144.44,67.54 L144.66,67.55 L144.89,67.56 L145.12,67.57 L145.34,67.57 L145.57,67.58 L145.79,67.59 L146.02,67.60 L146.25,67.61 L146.47,67.62 L146.70,67.63 L146.92,67.64 L147.15,67.65 L147.38,67.65 L147.60,67.66 L147.83,67.67 L148.05,67.68 L148.28,67.69 L148.51,67.70 L148.73,67.71 L148.96,67.72 L149.18,67.73 L149.41,67.74 L149.63,67.75 L149.86,67.76 L150.09,67.77 L150.31,67.78 L150.54,67.79 L150.76,67.80 L150.99,67.81 L151.22,67.82 L151.44,67.83 L151.67,67.84 L151.89,67.85 L152.12,67.86 L152.35,67.87 L152.57,67.88 L152.80,67.89 L153.02,67.90 L153.25,67.91 L153.48,67.92 L153.70,67.93 L153.93,67.94 L154.15,67.95 L154.38,67.96 L154.61,67.97 L154.83,67.98 L155.06,67.99 L155.28,68.00 L155.51,68.01 L155.74,68.03 L155.96,68.04 L156.19,68.05 L156.41,68.06 L156.64,68.07 L156.87,68.08 L157.09,68.09 L157.32,68.10 L157.54,68.11 L157.77,68.13 L158.00,68.14 L158.22,68.15 L158.45,68.16 L158.67,68.17 L158.90,68.18 L159.13,68.20 L159.35,68.21 L159.58,68.22 L159.80,68.23 L160.03,68.24 L160.25,68.26 L160.48,68.27 L160.71,68.28 L160.93,68.29 L161.16,68.31 L161.38,68.32 L161.61,68.33 L161.84,68.34 L162.06,68.36 L162.29,68.37 L162.51,68.38 L162.74,68.39 L162.97,68.41 L163.19,68.42 L163.42,68.43 L163.64,68.45 L163.87,68.46 L164.10,68.47 L164.32,68.48 L164.55,68.50 L164.77,68.51 L165.00,68.53 L165.23,68.54 L165.45,68.55 L165.68,68.57 L165.90,68.58 L166.13,68.59 L166.36,68.61 L166.58,68.62 L166.81,68.64 L167.03,68.65 L167.26,68.66 L167.49,68.68 L167.71,68.69 L167.94,68.71 L168.16,68.72 L168.39,68.74 L168.62,68.75 L168.84,68.76 L169.07,68.78 L169.29,68.79 L169.52,68.81 L169.74,68.82 L169.97,68.84 L170.20,68.85 L170.42,68.87 L170.65,68.89 L170.87,68.90 L171.10,68.92 L171.33,68.93 L171.55,68.95 L171.78,68.96 L172.00,68.98 L172.23,68.99 L172.46,69.01 L172.68,69.03 L172.91,69.04 L173.13,69.06 L173.36,69.08 L173.59,69.09 L173.81,69.11 L174.04,69.12 L174.26,69.14 L174.49,69.16 L174.72,69.17 L174.94,69.19 L175.17,69.21 L175.39,69.23 L175.62,69.24 L175.85,69.26 L176.07,69.28 L176.30,69.29 L176.52,69.31 L176.75,69.33 L176.98,69.35 L177.20,69.36 L177.43,69.38 L177.65,69.40 L177.88,69.42 L178.11,69.44 L178.33,69.45 L178.56,69.47 L178.78,69.49 L179.01,69.51 L179.23,69.53 L179.46,69.55 L179.69,69.57 L179.91,69.59 L180.14,69.60 L180.36,69.62 L180.59,69.64 L180.82,69.66 L181.04,69.68 L181.27,69.70 L181.49,69.72 L181.72,69.74 L181.95,69.76 L182.17,69.78 L182.40,69.80 L182.62,69.82 L182.85,69.84 L183.08,69.86 L183.30,69.88 L183.53,69.90 L183.75,69.92 L183.98,69.94 L184.21,69.96 L184.43,69.98 L184.66,70.00 L184.88,70.03 L185.11,70.05 L185.34,70.07 L185.56,70.09 L185.79,70.11 L186.01,70.13 L186.24,70.16 L186.47,70.18 L186.69,70.20 L186.92,70.22 L187.14,70.24 L187.37,70.27 L187.60,70.29 L187.82,70.31 L188.05,70.33 L188.27,70.36 L188.50,70.38 L188.72,70.40 L188.95,70.43 L189.18,70.45 L189.40,70.47 L189.63,70.50 L189.85,70.52 L190.08,70.54 L190.31,70.57 L190.53,70.59 L190.76,70.62 L190.98,70.64 L191.21,70.66 L191.44,70.69 L191.66,70.71 L191.89,70.74 L192.11,70.76 L192.34,70.79 L192.57,70.81 L192.79,70.84 L193.02,70.86 L193.24,70.89 L193.47,70.92 L193.70,70.94 L193.92,70.97 L194.15,70.99 L194.37,71.02 L194.60,71.05 L194.83,71.07 L195.05,71.10 L195.28,71.13 L195.50,71.15 L195.73,71.18 L195.96,71.21 L196.18,71.24 L196.41,71.26 L196.63,71.29 L196.86,71.32 L197.09,71.35 L197.31,71.38 L197.54,71.40 L197.76,71.43 L197.99,71.46 L198.22,71.49 L198.44,71.52 L198.67,71.55 L198.89,71.58 L199.12,71.61 L199.34,71.63 L199.57,71.66 L199.80,71.69 L200.02,71.72 L200.25,71.75 L200.47,71.78 L200.70,71.82 L200.93,71.85 L201.15,71.88 L201.38,71.91 L201.60,71.94 L201.83,71.97 L202.06,72.00 L202.28,72.03 L202.51,72.06 L202.73,72.10 L202.96,72.13 L203.19,72.16 L203.41,72.19 L203.64,72.23 L203.86,72.26 L204.09,72.29 L204.32,72.32 L204.54,72.36 L204.77,72.39 L204.99,72.43 L205.22,72.46 L205.45,72.49 L205.67,72.53 L205.90,72.56 L206.12,72.60 L206.35,72.63 L206.58,72.67 L206.80,72.70 L207.03,72.74 L207.25,72.77 L207.48,72.81 L207.71,72.84 L207.93,72.88 L208.16,72.92 L208.38,72.95 L208.61,72.99 L208.83,73.03 L209.06,73.06 L209.29,73.10 L209.51,73.14 L209.74,73.17 L209.96,73.21 L210.19,73.25 L210.42,73.29 L210.64,73.33 L210.87,73.37 L211.09,73.40 L211.32,73.44 L211.55,73.48 L211.77,73.52 L212.00,73.56 L212.22,73.60 L212.45,73.64 L212.68,73.68 L212.90,73.72 L213.13,73.76 L213.35,73.80 L213.58,73.85 L213.81,73.89 L214.03,73.93 L214.26,73.97 L214.48,74.01 L214.71,74.06 L214.94,74.10 L215.16,74.14 L215.39,74.18 L215.61,74.23 L215.84,74.27 L216.07,74.31 L216.29,74.36 L216.52,74.40 L216.74,74.45 L216.97,74.49 L217.20,74.54 L217.42,74.58 L217.65,74.63 L217.87,74.67 L218.10,74.72 L218.32,74.76 L218.55,74.81 L218.78,74.86 L219.00,74.90 L219.23,74.95 L219.45,75.00 L219.68,75.05 L219.91,75.09 L220.13,75.14 L220.36,75.19 L220.58,75.24 L220.81,75.29 L221.04,75.34 L221.26,75.39 L221.49,75.44 L221.71,75.49 L221.94,75.54 L222.17,75.59 L222.39,75.64 L222.62,75.69 L222.84,75.74 L223.07,75.79 L223.30,75.85 L223.52,75.90 L223.75,75.95 L223.97,76.00 L224.20,76.06 L224.43,76.11 L224.65,76.16 L224.88,76.22 L225.10,76.27 L225.33,76.33 L225.56,76.38 L225.78,76.44 L226.01,76.49 L226.23,76.55 L226.46,76.60 L226.69,76.66 L226.91,76.72 L227.14,76.77 L227.36,76.83 L227.59,76.89 L227.81,76.95 L228.04,77.01 L228.27,77.07 L228.49,77.12 L228.72,77.18 L228.94,77.24 L229.17,77.30 L229.40,77.36 L229.62,77.42 L229.85,77.49 L230.07,77.55 L230.30,77.61 L230.53,77.67 L230.75,77.73 L230.98,77.80 L231.20,77.86 L231.43,77.92 L231.66,77.99 L231.88,78.05 L232.11,78.12 L232.33,78.18 L232.56,78.25 L232.79,78.31 L233.01,78.38 L233.24,78.44 L233.46,78.51 L233.69,78.58 L233.92,78.65 L234.14,78.71 L234.37,78.78 L234.59,78.85 L234.82,78.92 L235.05,78.99 L235.27,79.06 L235.50,79.13 L235.72,79.20 L235.95,79.27 L236.18,79.34 L236.40,79.41 L236.63,79.49 L236.85,79.56 L237.08,79.63 L237.31,79.71 L237.53,79.78 L237.76,79.85 L237.98,79.93 L238.21,80.00 L238.43,80.08 L238.66,80.16 L238.89,80.23 L239.11,80.31 L239.34,80.39 L239.56,80.47 L239.79,80.54 L240.02,80.62 L240.24,80.70 L240.47,80.78 L240.69,80.86 L240.92,80.94 L241.15,81.02 L241.37,81.10 L241.60,81.19 L241.82,81.27 L242.05,81.35 L242.28,81.44 L242.50,81.52 L242.73,81.60 L242.95,81.69 L243.18,81.78 L243.41,81.86 L243.63,81.95 L243.86,82.03 L244.08,82.12 L244.31,82.21 L244.54,82.30 L244.76,82.39 L244.99,82.48 L245.21,82.57 L245.44,82.66 L245.67,82.75 L245.89,82.84 L246.12,82.93 L246.34,83.03 L246.57,83.12 L246.80,83.21 L247.02,83.31 L247.25,83.40 L247.47,83.50 L247.70,83.60 L247.92,83.69 L248.15,83.79 L248.38,83.89 L248.60,83.99 L248.83,84.09 L249.05,84.19 L249.28,84.29 L249.51,84.39 L249.73,84.49 L249.96,84.59 L250.18,84.69 L250.41,84.80 L250.64,84.90 L250.86,85.01 L251.09,85.11 L251.31,85.22 L251.54,85.32 L251.77,85.43 L251.99,85.54 L252.22,85.65 L252.44,85.76 L252.67,85.87 L252.90,85.98 L253.12,86.09 L253.35,86.20 L253.57,86.31 L253.80,86.43 L254.03,86.54 L254.25,86.66 L254.48,86.77 L254.70,86.89 L254.93,87.00 L255.16,87.12 L255.38,87.24 L255.61,87.36 L255.83,87.48 L256.06,87.60 L256.29,87.72 L256.51,87.84 L256.74,87.97 L256.96,88.09 L257.19,88.22 L257.41,88.34 L257.64,88.47 L257.87,88.59 L258.09,88.72 L258.32,88.85 L258.54,88.98 L258.77,89.11 L259.00,89.24 L259.22,89.37 L259.45,89.51 L259.67,89.64 L259.90,89.77 L260.13,89.91 L260.35,90.04 L260.58,90.18 L260.80,90.32 L261.03,90.46 L261.26,90.60 L261.48,90.74 L261.71,90.88 L261.93,91.02 L262.16,91.17 L262.39,91.31 L262.61,91.46 L262.84,91.60 L263.06,91.75 L263.29,91.90 L263.52,92.05 L263.74,92.20 L263.97,92.35 L264.19,92.50 L264.42,92.65 L264.65,92.81 L264.87,92.96 L265.10,93.12 L265.32,93.28 L265.55,93.44 L265.78,93.60 L266.00,93.76 L266.23,93.92 L266.45,94.08 L266.68,94.25 L266.90,94.41 L267.13,94.58 L267.36,94.74 L267.58,94.91 L267.81,95.08 L268.03,95.25 L268.26,95.43 L268.49,95.60 L268.71,95.77 L268.94,95.95 L269.16,96.13 L269.39,96.30 L269.62,96.48 L269.84,96.66 L270.07,96.85 L270.29,97.03 L270.52,97.21 L270.75,97.40 L270.97,97.59 L271.20,97.77 L271.42,97.96 L271.65,98.16 L271.88,98.35 L272.10,98.54 L272.33,98.74 L272.55,98.93 L272.78,99.13 L273.01,99.33 L273.23,99.53 L273.46,99.74 L273.68,99.94 L273.91,100.15 L274.14,100.35 L274.36,100.56 L274.59,100.77 L274.81,100.98 L275.04,101.20 L275.27,101.41 L275.49,101.63 L275.72,101.85 L275.94,102.07 L276.17,102.29 L276.39,102.51 L276.62,102.74 L276.85,102.96 L277.07,103.19 L277.30,103.42 L277.52,103.65 L277.75,103.89 L277.98,104.12 L278.20,104.36 L278.43,104.60 L278.65,104.84 L278.88,105.08 L279.11,105.33 L279.33,105.58 L279.56,105.82 L279.78,106.08 L280.01,106.33 L280.24,106.58 L280.46,106.84 L280.69,107.10 L280.91,107.36 L281.14,107.62 L281.37,107.89 L281.59,108.16 L281.82,108.43 L282.04,108.70 L282.27,108.97 L282.50,109.25 L282.72,109.53 L282.95,109.81 L283.17,110.10 L283.40,110.38 L283.63,110.67 L283.85,110.96 L284.08,111.25 L284.30,111.55 L284.53,111.85 L284.76,112.15 L284.98,112.46 L285.21,112.76 L285.43,113.07 L285.66,113.38 L285.89,113.70 L286.11,114.02 L286.34,114.34 L286.56,114.66 L286.79,114.99 L287.01,115.32 L287.24,115.65 L287.47,115.99 L287.69,116.32 L287.92,116.67 L288.14,117.01 L288.37,117.36 L288.60,117.71 L288.82,118.07 L289.05,118.43 L289.27,118.79 L289.50,119.15 L289.73,119.52 L289.95,119.90 L290.18,120.27 L290.40,120.65 L290.63,121.04 L290.86,121.42 L291.08,121.82 L291.31,122.21 L291.53,122.61 L291.76,123.01 L291.99,123.42 L292.21,123.84 L292.44,124.25 L292.66,124.67 L292.89,125.10 L293.12,125.53 L293.34,125.96 L293.57,126.40 L293.79,126.85 L294.02,127.30 L294.25,127.75 L294.47,128.21 L294.70,128.67 L294.92,129.14 L295.15,129.62 L295.38,130.10 L295.60,130.59 L295.83,131.08 L296.05,131.58 L296.28,132.08 L296.50,132.59 L296.73,133.11 L296.96,133.63 L297.18,134.16 L297.41,134.69 L297.63,135.23 L297.86,135.78 L298.09,136.34 L298.31,136.90 L298.54,137.47 L298.76,138.05 L298.99,138.63 L299.22,139.23 L299.44,139.83 L299.67,140.44 L299.89,141.06 L300.12,141.68 L300.35,142.32 L300.57,142.96 L300.80,143.62 L301.02,144.28 L301.25,144.95 L301.48,145.64 L301.70,146.33 L301.93,147.03 L302.15,147.75 L302.38,148.48 L302.61,149.21 L302.83,149.96 L303.06,150.72 L303.28,151.50 L303.51,152.29 L303.74,153.09 L303.96,153.90 L304.19,154.73 L304.41,155.57 L304.64,156.43 L304.87,157.31 L305.09,158.20 L305.32,159.10 L305.54,160.03 L305.77,160.97 L305.99,161.93 L306.22,162.91 L306.45,163.92 L306.67,164.94 L306.90,165.98 L307.12,167.05 L307.35,168.14 L307.58,169.25 L307.80,170.39 L308.03,171.56 L308.25,172.76 L308.48,173.98 L308.71,175.24 L308.93,176.52 L309.16,177.85 L309.38,179.20 L309.61,180.60 L309.84,182.03 L310.06,183.51 L310.29,185.03 L310.51,186.60 L310.74,188.22 L310.97,189.89 L311.19,191.62 L311.42,193.40 L311.64,195.26 L311.87,197.18 L312.10,199.18 L312.32,201.25 L312.55,203.42 L312.77,205.68 L313.00,208.04 L313.23,210.52 L313.45,213.12 L313.68,215.86 L313.90,218.75 L314.13,221.81 L314.36,225.06 L314.58,228.53 L314.81,232.25 L315.03,236.25 L315.26,236.50 L315.48,236.50 L315.71,236.50 L315.94,236.50 L316.16,236.50 L316.39,236.50 L316.61,236.50 L316.84,236.50 L317.07,236.50 L317.29,236.50 L317.52,236.50 L317.74,236.50 L317.97,236.50 L318.20,236.50 L318.42,236.50 L318.65,236.50 L318.87,236.50 L319.10,236.50 L319.33,236.50 L319.55,236.50 L319.78,236.50 L320.00,236.50 L320.23,236.50 L320.46,236.50 L320.68,236.50 L320.91,233.05 L321.13,229.28 L321.36,225.76 L321.59,222.47 L321.81,219.37 L322.04,216.45 L322.26,213.68 L322.49,211.05 L322.72,208.56 L322.94,206.17 L323.17,203.89 L323.39,201.71 L323.62,199.62 L323.85,197.61 L324.07,195.68 L324.30,193.81 L324.52,192.02 L324.75,190.28 L324.98,188.60 L325.20,186.98 L325.43,185.41 L325.65,183.88 L325.88,182.40 L326.10,180.96 L326.33,179.57 L326.56,178.21 L326.78,176.89 L327.01,175.60 L327.23,174.35 L327.46,173.12 L327.69,171.93 L327.91,170.77 L328.14,169.63 L328.36,168.52 L328.59,167.44 L328.82,166.38 L329.04,165.34 L329.27,164.32 L329.49,163.33 L329.72,162.36 L329.95,161.41 L330.17,160.47 L330.40,159.56 L330.62,158.66 L330.85,157.78 L331.08,156.92 L331.30,156.08 L331.53,155.25 L331.75,154.43 L331.98,153.63 L332.21,152.85 L332.43,152.08 L332.66,151.32 L332.88,150.58 L333.11,149.85 L333.34,149.13 L333.56,148.42 L333.79,147.73 L334.01,147.05 L334.24,146.37 L334.47,145.71 L334.69,145.07 L334.92,144.43 L335.14,143.80 L335.37,143.18 L335.59,142.57 L335.82,141.97 L336.05,141.39 L336.27,140.81 L336.50,140.24 L336.72,139.67 L336.95,139.12 L337.18,138.58 L337.40,138.04 L337.63,137.51 L337.85,136.99 L338.08,136.48 L338.31,135.98 L338.53,135.48 L338.76,134.99 L338.98,134.51 L339.21,134.04 L339.44,133.57 L339.66,133.11 L339.89,132.66 L340.11,132.21 L340.34,131.77 L340.57,131.34 L340.79,130.92 L341.02,130.50 L341.24,130.08 L341.47,129.68 L341.70,129.28 L341.92,128.88 L342.15,128.49 L342.37,128.11 L342.60,127.74 L342.83,127.37 L343.05,127.00 L343.28,126.64 L343.50,126.29 L343.73,125.94 L343.96,125.60 L344.18,125.26 L344.41,124.93 L344.63,124.61 L344.86,124.29 L345.08,123.97 L345.31,123.66 L345.54,123.36 L345.76,123.06 L345.99,122.76 L346.21,122.47 L346.44,122.19 L346.67,121.91 L346.89,121.64 L347.12,121.37 L347.34,121.10 L347.57,120.84 L347.80,120.59 L348.02,120.34 L348.25,120.09 L348.47,119.85 L348.70,119.62 L348.93,119.39 L349.15,119.16 L349.38,118.94 L349.60,118.72 L349.83,118.51 L350.06,118.30 L350.28,118.10 L350.51,117.90 L350.73,117.70 L350.96,117.51 L351.19,117.33 L351.41,117.15 L351.64,116.97 L351.86,116.80 L352.09,116.63 L352.32,116.47 L352.54,116.31 L352.77,116.16 L352.99,116.01 L353.22,115.86 L353.45,115.72 L353.67,115.59 L353.90,115.46 L354.12,115.33 L354.35,115.21 L354.57,115.09 L354.80,114.97 L355.03,114.87 L355.25,114.76 L355.48,114.66 L355.70,114.56 L355.93,114.47 L356.16,114.38 L356.38,114.30 L356.61,114.22 L356.83,114.15 L357.06,114.08 L357.29,114.01 L357.51,113.95 L357.74,113.90 L357.96,113.85 L358.19,113.80 L358.42,113.76 L358.64,113.72 L358.87,113.69 L359.09,113.66 L359.32,113.63 L359.55,113.62 L359.77,113.60 L360.00,113.59 L360.22,113.59 L360.45,113.58 L360.68,113.59 L360.90,113.60 L361.13,113.61 L361.35,113.63 L361.58,113.65 L361.81,113.68 L362.03,113.71 L362.26,113.75 L362.48,113.80 L362.71,113.84 L362.94,113.90 L363.16,113.95 L363.39,114.02 L363.61,114.09 L363.84,114.16 L364.07,114.24 L364.29,114.32 L364.52,114.41 L364.74,114.51 L364.97,114.61 L365.19,114.71 L365.42,114.82 L365.65,114.94 L365.87,115.06 L366.10,115.19 L366.32,115.32 L366.55,115.46 L366.78,115.61 L367.00,115.76 L367.23,115.91 L367.45,116.08 L367.68,116.25 L367.91,116.42 L368.13,116.60 L368.36,116.79 L368.58,116.98 L368.81,117.18 L369.04,117.39 L369.26,117.60 L369.49,117.82 L369.71,118.05 L369.94,118.28 L370.17,118.52 L370.39,118.77 L370.62,119.02 L370.84,119.29 L371.07,119.55 L371.30,119.83 L371.52,120.11 L371.75,120.41 L371.97,120.70 L372.20,121.01 L372.43,121.33 L372.65,121.65 L372.88,121.98 L373.10,122.32 L373.33,122.67 L373.56,123.02 L373.78,123.39 L374.01,123.76 L374.23,124.15 L374.46,124.54 L374.68,124.94 L374.91,125.36 L375.14,125.78 L375.36,126.21 L375.59,126.65 L375.81,127.10 L376.04,127.57 L376.27,128.04 L376.49,128.53 L376.72,129.02 L376.94,129.53 L377.17,130.05 L377.40,130.58 L377.62,131.13 L377.85,131.68 L378.07,132.25 L378.30,132.84 L378.53,133.43 L378.75,134.04 L378.98,134.67 L379.20,135.31 L379.43,135.96 L379.66,136.63 L379.88,137.32 L380.11,138.02 L380.33,138.74 L380.56,139.48 L380.79,140.24 L381.01,141.01 L381.24,141.80 L381.46,142.62 L381.69,143.45 L381.92,144.30 L382.14,145.18 L382.37,146.08 L382.59,147.00 L382.82,147.95 L383.05,148.92 L383.27,149.92 L383.50,150.94 L383.72,152.00 L383.95,153.08 L384.17,154.20 L384.40,155.34 L384.63,156.52 L384.85,157.74 L385.08,158.99 L385.30,160.29 L385.53,161.62 L385.76,163.00 L385.98,164.42 L386.21,165.89 L386.43,167.41 L386.66,168.98 L386.89,170.62 L387.11,172.31 L387.34,174.07 L387.56,175.90 L387.79,177.80 L388.02,179.78 L388.24,181.85 L388.47,184.02 L388.69,186.29 L388.92,188.67 L389.15,191.17 L389.37,193.80 L389.60,196.59 L389.82,199.54 L390.05,202.67 L390.28,206.02 L390.50,209.60 L390.73,213.45 L390.95,217.62 L391.18,222.16 L391.41,227.14 L391.63,232.65 L391.86,236.50 L392.08,236.50 L392.31,236.50 L392.54,236.50 L392.76,236.50 L392.99,236.50 L393.21,236.50 L393.44,236.50 L393.66,236.50 L393.89,236.50 L394.12,236.50 L394.34,236.50 L394.57,236.50 L394.79,236.50 L395.02,236.50 L395.25,236.50 L395.47,236.50 L395.70,232.48 L395.92,226.99 L396.15,222.03 L396.38,217.51 L396.60,213.35 L396.83,209.51 L397.05,205.94 L397.28,202.61 L397.51,199.49 L397.73,196.55 L397.96,193.78 L398.18,191.16 L398.41,188.67 L398.64,186.31 L398.86,184.05 L399.09,181.91 L399.31,179.85 L399.54,177.89 L399.77,176.00 L399.99,174.20 L400.22,172.46 L400.44,170.79 L400.67,169.18 L400.90,167.63 L401.12,166.14 L401.35,164.70 L401.57,163.31 L401.80,161.97 L402.03,160.67 L402.25,159.41 L402.48,158.20 L402.70,157.02 L402.93,155.88 L403.16,154.78 L403.38,153.71 L403.61,152.68 L403.83,151.68 L404.06,150.70 L404.28,149.76 L404.51,148.85 L404.74,147.96 L404.96,147.11 L405.19,146.27 L405.41,145.47 L405.64,144.68 L405.87,143.93 L406.09,143.19 L406.32,142.48 L406.54,141.79 L406.77,141.12 L407.00,140.48 L407.22,139.85 L407.45,139.25 L407.67,138.66 L407.90,138.10 L408.13,137.55 L408.35,137.02 L408.58,136.52 L408.80,136.03 L409.03,135.55 L409.26,135.10 L409.48,134.66 L409.71,134.24 L409.93,133.84 L410.16,133.46 L410.39,133.09 L410.61,132.74 L410.84,132.40 L411.06,132.09 L411.29,131.78 L411.52,131.50 L411.74,131.23 L411.97,130.97 L412.19,130.73 L412.42,130.51 L412.65,130.30 L412.87,130.11 L413.10,129.94 L413.32,129.78 L413.55,129.63 L413.77,129.50 L414.00,129.39 L414.23,129.29 L414.45,129.21 L414.68,129.14 L414.90,129.09 L415.13,129.05 L415.36,129.03 L415.58,129.03 L415.81,129.04 L416.03,129.07 L416.26,129.11 L416.49,129.17 L416.71,129.25 L416.94,129.34 L417.16,129.45 L417.39,129.58 L417.62,129.72 L417.84,129.88 L418.07,130.06 L418.29,130.25 L418.52,130.47 L418.75,130.70 L418.97,130.94 L419.20,131.21 L419.42,131.50 L419.65,131.80 L419.88,132.12 L420.10,132.47 L420.33,132.83 L420.55,133.21 L420.78,133.62 L421.01,134.04 L421.23,134.49 L421.46,134.96 L421.68,135.45 L421.91,135.96 L422.14,136.50 L422.36,137.06 L422.59,137.65 L422.81,138.26 L423.04,138.89 L423.26,139.56 L423.49,140.25 L423.72,140.97 L423.94,141.72 L424.17,142.50 L424.39,143.31 L424.62,144.15 L424.85,145.03 L425.07,145.94 L425.30,146.89 L425.52,147.87 L425.75,148.90 L425.98,149.96 L426.20,151.07 L426.43,152.22 L426.65,153.42 L426.88,154.66 L427.11,155.96 L427.33,157.31 L427.56,158.72 L427.78,160.19 L428.01,161.72 L428.24,163.32 L428.46,164.99 L428.69,166.74 L428.91,168.57 L429.14,170.48 L429.37,172.50 L429.59,174.61 L429.82,176.84 L430.04,179.19 L430.27,181.67 L430.50,184.29 L430.72,187.08 L430.95,190.05 L431.17,193.22 L431.40,196.62 L431.63,200.27 L431.85,204.23 L432.08,208.53 L432.30,213.24 L432.53,218.44 L432.75,224.24 L432.98,230.78 L433.21,236.50 L433.43,236.50 L433.66,236.50 L433.88,236.50 L434.11,236.50 L434.34,236.50 L434.56,236.50 L434.79,236.50 L435.01,236.50 L435.24,236.50 L435.47,236.50 L435.69,236.50 L435.92,236.50 L436.14,236.50 L436.37,230.19 L436.60,223.72 L436.82,217.99 L437.05,212.84 L437.27,208.17 L437.50,203.91" fill="none" stroke="#2c1a55" stroke-width="1.9" clip-path="url(#clipa)"/>
<line x1="207.2" y1="99.4" x2="207.2" y2="129.4" stroke="#8a7ca8" stroke-width="1.3" stroke-opacity="0.8"/>
<line x1="204.7" y1="99.4" x2="209.7" y2="99.4" stroke="#8a7ca8" stroke-width="1.5"/>
<line x1="204.7" y1="129.4" x2="209.7" y2="129.4" stroke="#8a7ca8" stroke-width="1.5"/>
<line x1="311.4" y1="133.3" x2="311.4" y2="144.4" stroke="#8a7ca8" stroke-width="1.3" stroke-opacity="0.8"/>
<line x1="308.9" y1="133.3" x2="313.9" y2="133.3" stroke="#8a7ca8" stroke-width="1.5"/>
<line x1="308.9" y1="144.4" x2="313.9" y2="144.4" stroke="#8a7ca8" stroke-width="1.5"/>
<line x1="363.4" y1="117.0" x2="363.4" y2="129.0" stroke="#8a7ca8" stroke-width="1.3" stroke-opacity="0.8"/>
<line x1="360.9" y1="117.0" x2="365.9" y2="117.0" stroke="#8a7ca8" stroke-width="1.5"/>
<line x1="360.9" y1="129.0" x2="365.9" y2="129.0" stroke="#8a7ca8" stroke-width="1.5"/>
<line x1="389.8" y1="139.6" x2="389.8" y2="156.3" stroke="#a33a3a" stroke-width="1.3" stroke-opacity="0.8"/>
<line x1="387.3" y1="139.6" x2="392.3" y2="139.6" stroke="#a33a3a" stroke-width="1.5"/>
<line x1="387.3" y1="156.3" x2="392.3" y2="156.3" stroke="#a33a3a" stroke-width="1.5"/>
<line x1="416.0" y1="141.9" x2="416.0" y2="197.0" stroke="#ad8cc2" stroke-width="1.6" stroke-opacity="1.0"/>
<line x1="413.5" y1="141.9" x2="418.5" y2="141.9" stroke="#ad8cc2" stroke-width="1.5"/>
<line x1="413.5" y1="197.0" x2="418.5" y2="197.0" stroke="#ad8cc2" stroke-width="1.5"/>
<path d="M76.3,56.4 L81.89999999999999,62.0 L76.3,67.6 L70.7,62.0 Z" fill="#2c1a55"/>
<path d="M129.0,59.699999999999996 L134.6,65.3 L129.0,70.89999999999999 L123.4,65.3 Z" fill="#2c1a55"/>
<path d="M181.0,79.2 L186.6,84.8 L181.0,90.39999999999999 L175.4,84.8 Z" fill="#2c1a55"/>
<path d="M207.2,104.5 L212.79999999999998,110.1 L207.2,115.69999999999999 L201.6,110.1 Z" fill="#2c1a55"/>
<path d="M233.7,76.30000000000001 L239.29999999999998,81.9 L233.7,87.5 L228.1,81.9 Z" fill="#2c1a55"/>
<path d="M259.0,94.10000000000001 L264.6,99.7 L259.0,105.3 L253.4,99.7 Z" fill="#2c1a55"/>
<path d="M285.3,102.30000000000001 L290.90000000000003,107.9 L285.3,113.5 L279.7,107.9 Z" fill="#2c1a55"/>
<path d="M311.4,132.6 L317.0,138.2 L311.4,143.79999999999998 L305.79999999999995,138.2 Z" fill="#2c1a55"/>
<path d="M338.5,124.4 L344.1,130.0 L338.5,135.6 L332.9,130.0 Z" fill="#2c1a55"/>
<path d="M363.4,116.5 L369.0,122.1 L363.4,127.69999999999999 L357.79999999999995,122.1 Z" fill="#2c1a55"/>
<path d="M389.8,141.4 L395.40000000000003,147.0 L389.8,152.6 L384.2,147.0 Z" fill="#2c1a55"/>
<path d="M416.0,154.5 L421.6,160.1 L416.0,165.7 L410.4,160.1 Z" fill="#2c1a55"/>
<path d="M55.50,360.33 L55.74,360.19 L55.98,360.05 L56.22,359.92 L56.46,359.78 L56.69,359.64 L56.93,359.51 L57.17,359.37 L57.41,359.23 L57.65,359.10 L57.89,358.96 L58.13,358.82 L58.37,358.69 L58.61,358.55 L58.84,358.41 L59.08,358.27 L59.32,358.14 L59.56,358.00 L59.80,357.86 L60.04,357.73 L60.28,357.59 L60.52,357.45 L60.76,357.32 L60.99,357.18 L61.23,357.04 L61.47,356.91 L61.71,356.77 L61.95,356.63 L62.19,356.50 L62.43,356.36 L62.67,356.22 L62.91,356.09 L63.14,355.95 L63.38,355.81 L63.62,355.68 L63.86,355.54 L64.10,355.40 L64.34,355.27 L64.58,355.13 L64.82,354.99 L65.06,354.86 L65.29,354.72 L65.53,354.58 L65.77,354.45 L66.01,354.31 L66.25,354.17 L66.49,354.04 L66.73,353.90 L66.97,353.76 L67.21,353.63 L67.44,353.49 L67.68,353.35 L67.92,353.22 L68.16,353.08 L68.40,352.94 L68.64,352.81 L68.88,352.67 L69.12,352.53 L69.36,352.40 L69.60,352.26 L69.83,352.13 L70.07,351.99 L70.31,351.85 L70.55,351.72 L70.79,351.58 L71.03,351.44 L71.27,351.31 L71.51,351.17 L71.75,351.03 L71.98,350.90 L72.22,350.76 L72.46,350.62 L72.70,350.49 L72.94,350.35 L73.18,350.21 L73.42,350.08 L73.66,349.94 L73.90,349.80 L74.13,349.67 L74.37,349.53 L74.61,349.39 L74.85,349.26 L75.09,349.12 L75.33,348.99 L75.57,348.85 L75.81,348.71 L76.05,348.58 L76.28,348.44 L76.52,348.30 L76.76,348.17 L77.00,348.03 L77.24,347.89 L77.48,347.76 L77.72,347.62 L77.96,347.48 L78.20,347.35 L78.43,347.21 L78.67,347.08 L78.91,346.94 L79.15,346.80 L79.39,346.67 L79.63,346.53 L79.87,346.39 L80.11,346.26 L80.35,346.12 L80.58,345.98 L80.82,345.85 L81.06,345.71 L81.30,345.58 L81.54,345.44 L81.78,345.30 L82.02,345.17 L82.26,345.03 L82.50,344.89 L82.73,344.76 L82.97,344.62 L83.21,344.49 L83.45,344.35 L83.69,344.21 L83.93,344.08 L84.17,343.94 L84.41,343.80 L84.65,343.67 L84.88,343.53 L85.12,343.40 L85.36,343.26 L85.60,343.12 L85.84,342.99 L86.08,342.85 L86.32,342.71 L86.56,342.58 L86.80,342.44 L87.03,342.31 L87.27,342.17 L87.51,342.03 L87.75,341.90 L87.99,341.76 L88.23,341.62 L88.47,341.49 L88.71,341.35 L88.95,341.22 L89.18,341.08 L89.42,340.94 L89.66,340.81 L89.90,340.67 L90.14,340.54 L90.38,340.40 L90.62,340.26 L90.86,340.13 L91.10,339.99 L91.33,339.86 L91.57,339.72 L91.81,339.58 L92.05,339.45 L92.29,339.31 L92.53,339.18 L92.77,339.04 L93.01,338.90 L93.25,338.77 L93.48,338.63 L93.72,338.50 L93.96,338.36 L94.20,338.22 L94.44,338.09 L94.68,337.95 L94.92,337.82 L95.16,337.68 L95.40,337.54 L95.64,337.41 L95.87,337.27 L96.11,337.14 L96.35,337.00 L96.59,336.86 L96.83,336.73 L97.07,336.59 L97.31,336.46 L97.55,336.32 L97.79,336.18 L98.02,336.05 L98.26,335.91 L98.50,335.78 L98.74,335.64 L98.98,335.51 L99.22,335.37 L99.46,335.23 L99.70,335.10 L99.94,334.96 L100.17,334.83 L100.41,334.69 L100.65,334.56 L100.89,334.42 L101.13,334.28 L101.37,334.15 L101.61,334.01 L101.85,333.88 L102.09,333.74 L102.32,333.61 L102.56,333.47 L102.80,333.33 L103.04,333.20 L103.28,333.06 L103.52,332.93 L103.76,332.79 L104.00,332.66 L104.24,332.52 L104.47,332.38 L104.71,332.25 L104.95,332.11 L105.19,331.98 L105.43,331.84 L105.67,331.71 L105.91,331.57 L106.15,331.44 L106.39,331.30 L106.62,331.16 L106.86,331.03 L107.10,330.89 L107.34,330.76 L107.58,330.62 L107.82,330.49 L108.06,330.35 L108.30,330.22 L108.54,330.08 L108.77,329.95 L109.01,329.81 L109.25,329.67 L109.49,329.54 L109.73,329.40 L109.97,329.27 L110.21,329.13 L110.45,329.00 L110.69,328.86 L110.92,328.73 L111.16,328.59 L111.40,328.46 L111.64,328.32 L111.88,328.19 L112.12,328.05 L112.36,327.92 L112.60,327.78 L112.84,327.64 L113.07,327.51 L113.31,327.37 L113.55,327.24 L113.79,327.10 L114.03,326.97 L114.27,326.83 L114.51,326.70 L114.75,326.56 L114.99,326.43 L115.22,326.29 L115.46,326.16 L115.70,326.02 L115.94,325.89 L116.18,325.75 L116.42,325.62 L116.66,325.48 L116.90,325.35 L117.14,325.21 L117.37,325.08 L117.61,324.94 L117.85,324.81 L118.09,324.67 L118.33,324.54 L118.57,324.40 L118.81,324.27 L119.05,324.13 L119.29,324.00 L119.53,323.86 L119.76,323.73 L120.00,323.59 L120.24,323.46 L120.48,323.32 L120.72,323.19 L120.96,323.05 L121.20,322.92 L121.44,322.78 L121.68,322.65 L121.91,322.52 L122.15,322.38 L122.39,322.25 L122.63,322.11 L122.87,321.98 L123.11,321.84 L123.35,321.71 L123.59,321.57 L123.83,321.44 L124.06,321.30 L124.30,321.17 L124.54,321.03 L124.78,320.90 L125.02,320.77 L125.26,320.63 L125.50,320.50 L125.74,320.36 L125.98,320.23 L126.21,320.09 L126.45,319.96 L126.69,319.82 L126.93,319.69 L127.17,319.55 L127.41,319.42 L127.65,319.29 L127.89,319.15 L128.13,319.02 L128.36,318.88 L128.60,318.75 L128.84,318.61 L129.08,318.48 L129.32,318.35 L129.56,318.21 L129.80,318.08 L130.04,317.94 L130.28,317.81 L130.51,317.67 L130.75,317.54 L130.99,317.41 L131.23,317.27 L131.47,317.14 L131.71,317.00 L131.95,316.87 L132.19,316.74 L132.43,316.60 L132.66,316.47 L132.90,316.33 L133.14,316.20 L133.38,316.07 L133.62,315.93 L133.86,315.80 L134.10,315.66 L134.34,315.53 L134.58,315.40 L134.81,315.26 L135.05,315.13 L135.29,314.99 L135.53,314.86 L135.77,314.73 L136.01,314.59 L136.25,314.46 L136.49,314.33 L136.73,314.19 L136.96,314.06 L137.20,313.92 L137.44,313.79 L137.68,313.66 L137.92,313.52 L138.16,313.39 L138.40,313.26 L138.64,313.12 L138.88,312.99 L139.11,312.86 L139.35,312.72 L139.59,312.59 L139.83,312.46 L140.07,312.32 L140.31,312.19 L140.55,312.06 L140.79,311.92 L141.03,311.79 L141.26,311.66 L141.50,311.52 L141.74,311.39 L141.98,311.26 L142.22,311.12 L142.46,310.99 L142.70,310.86 L142.94,310.72 L143.18,310.59 L143.41,310.46 L143.65,310.32 L143.89,310.19 L144.13,310.06 L144.37,309.92 L144.61,309.79 L144.85,309.66 L145.09,309.53 L145.33,309.39 L145.57,309.26 L145.80,309.13 L146.04,308.99 L146.28,308.86 L146.52,308.73 L146.76,308.60 L147.00,308.46 L147.24,308.33 L147.48,308.20 L147.72,308.06 L147.95,307.93 L148.19,307.80 L148.43,307.67 L148.67,307.53 L148.91,307.40 L149.15,307.27 L149.39,307.14 L149.63,307.00 L149.87,306.87 L150.10,306.74 L150.34,306.61 L150.58,306.47 L150.82,306.34 L151.06,306.21 L151.30,306.08 L151.54,305.94 L151.78,305.81 L152.02,305.68 L152.25,305.55 L152.49,305.42 L152.73,305.28 L152.97,305.15 L153.21,305.02 L153.45,304.89 L153.69,304.76 L153.93,304.62 L154.17,304.49 L154.40,304.36 L154.64,304.23 L154.88,304.10 L155.12,303.96 L155.36,303.83 L155.60,303.70 L155.84,303.57 L156.08,303.44 L156.32,303.30 L156.55,303.17 L156.79,303.04 L157.03,302.91 L157.27,302.78 L157.51,302.65 L157.75,302.52 L157.99,302.38 L158.23,302.25 L158.47,302.12 L158.70,301.99 L158.94,301.86 L159.18,301.73 L159.42,301.60 L159.66,301.46 L159.90,301.33 L160.14,301.20 L160.38,301.07 L160.62,300.94 L160.85,300.81 L161.09,300.68 L161.33,300.55 L161.57,300.42 L161.81,300.28 L162.05,300.15 L162.29,300.02 L162.53,299.89 L162.77,299.76 L163.00,299.63 L163.24,299.50 L163.48,299.37 L163.72,299.24 L163.96,299.11 L164.20,298.98 L164.44,298.85 L164.68,298.72 L164.92,298.58 L165.15,298.45 L165.39,298.32 L165.63,298.19 L165.87,298.06 L166.11,297.93 L166.35,297.80 L166.59,297.67 L166.83,297.54 L167.07,297.41 L167.30,297.28 L167.54,297.15 L167.78,297.02 L168.02,296.89 L168.26,296.76 L168.50,296.63 L168.74,296.50 L168.98,296.37 L169.22,296.24 L169.45,296.11 L169.69,295.98 L169.93,295.85 L170.17,295.72 L170.41,295.59 L170.65,295.46 L170.89,295.33 L171.13,295.21 L171.37,295.08 L171.61,294.95 L171.84,294.82 L172.08,294.69 L172.32,294.56 L172.56,294.43 L172.80,294.30 L173.04,294.17 L173.28,294.04 L173.52,293.91 L173.76,293.78 L173.99,293.65 L174.23,293.53 L174.47,293.40 L174.71,293.27 L174.95,293.14 L175.19,293.01 L175.43,292.88 L175.67,292.75 L175.91,292.62 L176.14,292.50 L176.38,292.37 L176.62,292.24 L176.86,292.11 L177.10,291.98 L177.34,291.85 L177.58,291.73 L177.82,291.60 L178.06,291.47 L178.29,291.34 L178.53,291.21 L178.77,291.08 L179.01,290.96 L179.25,290.83 L179.49,290.70 L179.73,290.57 L179.97,290.45 L180.21,290.32 L180.44,290.19 L180.68,290.06 L180.92,289.93 L181.16,289.81 L181.40,289.68 L181.64,289.55 L181.88,289.43 L182.12,289.30 L182.36,289.17 L182.59,289.04 L182.83,288.92 L183.07,288.79 L183.31,288.66 L183.55,288.54 L183.79,288.41 L184.03,288.28 L184.27,288.15 L184.51,288.03 L184.74,287.90 L184.98,287.77 L185.22,287.65 L185.46,287.52 L185.70,287.40 L185.94,287.27 L186.18,287.14 L186.42,287.02 L186.66,286.89 L186.89,286.76 L187.13,286.64 L187.37,286.51 L187.61,286.39 L187.85,286.26 L188.09,286.13 L188.33,286.01 L188.57,285.88 L188.81,285.76 L189.04,285.63 L189.28,285.51 L189.52,285.38 L189.76,285.25 L190.00,285.13 L190.24,285.00 L190.48,284.88 L190.72,284.75 L190.96,284.63 L191.19,284.50 L191.43,284.38 L191.67,284.25 L191.91,284.13 L192.15,284.00 L192.39,283.88 L192.63,283.75 L192.87,283.63 L193.11,283.51 L193.34,283.38 L193.58,283.26 L193.82,283.13 L194.06,283.01 L194.30,282.88 L194.54,282.76 L194.78,282.64 L195.02,282.51 L195.26,282.39 L195.49,282.26 L195.73,282.14 L195.97,282.02 L196.21,281.89 L196.45,281.77 L196.69,281.65 L196.93,281.52 L197.17,281.40 L197.41,281.28 L197.65,281.15 L197.88,281.03 L198.12,280.91 L198.36,280.78 L198.60,280.66 L198.84,280.54 L199.08,280.42 L199.32,280.29 L199.56,280.17 L199.80,280.05 L200.03,279.93 L200.27,279.80 L200.51,279.68 L200.75,279.56 L200.99,279.44 L201.23,279.32 L201.47,279.19 L201.71,279.07 L201.95,278.95 L202.18,278.83 L202.42,278.71 L202.66,278.59 L202.90,278.46 L203.14,278.34 L203.38,278.22 L203.62,278.10 L203.86,277.98 L204.10,277.86 L204.33,277.74 L204.57,277.62 L204.81,277.50 L205.05,277.38 L205.29,277.26 L205.53,277.14 L205.77,277.02 L206.01,276.90 L206.25,276.78 L206.48,276.66 L206.72,276.54 L206.96,276.42 L207.20,276.30 L207.44,276.18 L207.68,276.06 L207.92,275.94 L208.16,275.82 L208.40,275.70 L208.63,275.58 L208.87,275.46 L209.11,275.34 L209.35,275.22 L209.59,275.10 L209.83,274.99 L210.07,274.87 L210.31,274.75 L210.55,274.63 L210.78,274.51 L211.02,274.39 L211.26,274.28 L211.50,274.16 L211.74,274.04 L211.98,273.92 L212.22,273.80 L212.46,273.69 L212.70,273.57 L212.93,273.45 L213.17,273.34 L213.41,273.22 L213.65,273.10 L213.89,272.98 L214.13,272.87 L214.37,272.75 L214.61,272.63 L214.85,272.52 L215.08,272.40 L215.32,272.29 L215.56,272.17 L215.80,272.05 L216.04,271.94 L216.28,271.82 L216.52,271.71 L216.76,271.59 L217.00,271.48 L217.23,271.36 L217.47,271.25 L217.71,271.13 L217.95,271.02 L218.19,270.90 L218.43,270.79 L218.67,270.67 L218.91,270.56 L219.15,270.44 L219.38,270.33 L219.62,270.21 L219.86,270.10 L220.10,269.99 L220.34,269.87 L220.58,269.76 L220.82,269.65 L221.06,269.53 L221.30,269.42 L221.54,269.31 L221.77,269.19 L222.01,269.08 L222.25,268.97 L222.49,268.86 L222.73,268.74 L222.97,268.63 L223.21,268.52 L223.45,268.41 L223.69,268.30 L223.92,268.18 L224.16,268.07 L224.40,267.96 L224.64,267.85 L224.88,267.74 L225.12,267.63 L225.36,267.52 L225.60,267.41 L225.84,267.30 L226.07,267.19 L226.31,267.08 L226.55,266.97 L226.79,266.86 L227.03,266.75 L227.27,266.64 L227.51,266.53 L227.75,266.42 L227.99,266.31 L228.22,266.20 L228.46,266.09 L228.70,265.98 L228.94,265.87 L229.18,265.77 L229.42,265.66 L229.66,265.55 L229.90,265.44 L230.14,265.33 L230.37,265.23 L230.61,265.12 L230.85,265.01 L231.09,264.90 L231.33,264.80 L231.57,264.69 L231.81,264.58 L232.05,264.48 L232.29,264.37 L232.52,264.27 L232.76,264.16 L233.00,264.05 L233.24,263.95 L233.48,263.84 L233.72,263.74 L233.96,263.63 L234.20,263.53 L234.44,263.42 L234.67,263.32 L234.91,263.22 L235.15,263.11 L235.39,263.01 L235.63,262.90 L235.87,262.80 L236.11,262.70 L236.35,262.59 L236.59,262.49 L236.82,262.39 L237.06,262.28 L237.30,262.18 L237.54,262.08 L237.78,261.98 L238.02,261.88 L238.26,261.77 L238.50,261.67 L238.74,261.57 L238.97,261.47 L239.21,261.37 L239.45,261.27 L239.69,261.17 L239.93,261.07 L240.17,260.97 L240.41,260.87 L240.65,260.77 L240.89,260.67 L241.12,260.57 L241.36,260.47 L241.60,260.37 L241.84,260.27 L242.08,260.18 L242.32,260.08 L242.56,259.98 L242.80,259.88 L243.04,259.78 L243.27,259.69 L243.51,259.59 L243.75,259.49 L243.99,259.40 L244.23,259.30 L244.47,259.20 L244.71,259.11 L244.95,259.01 L245.19,258.92 L245.42,258.82 L245.66,258.73 L245.90,258.63 L246.14,258.54 L246.38,258.44 L246.62,258.35 L246.86,258.25 L247.10,258.16 L247.34,258.07 L247.58,257.97 L247.81,257.88 L248.05,257.79 L248.29,257.70 L248.53,257.60 L248.77,257.51 L249.01,257.42 L249.25,257.33 L249.49,257.24 L249.73,257.15 L249.96,257.06 L250.20,256.97 L250.44,256.88 L250.68,256.79 L250.92,256.70 L251.16,256.61 L251.40,256.52 L251.64,256.43 L251.88,256.34 L252.11,256.25 L252.35,256.17 L252.59,256.08 L252.83,255.99 L253.07,255.90 L253.31,255.82 L253.55,255.73 L253.79,255.65 L254.03,255.56 L254.26,255.47 L254.50,255.39 L254.74,255.30 L254.98,255.22 L255.22,255.13 L255.46,255.05 L255.70,254.97 L255.94,254.88 L256.18,254.80 L256.41,254.72 L256.65,254.63 L256.89,254.55 L257.13,254.47 L257.37,254.39 L257.61,254.31 L257.85,254.22 L258.09,254.14 L258.33,254.06 L258.56,253.98 L258.80,253.90 L259.04,253.82 L259.28,253.75 L259.52,253.67 L259.76,253.59 L260.00,253.51 L260.24,253.43 L260.48,253.35 L260.71,253.28 L260.95,253.20 L261.19,253.12 L261.43,253.05 L261.67,252.97 L261.91,252.90 L262.15,252.82 L262.39,252.75 L262.63,252.67 L262.86,252.60 L263.10,252.53 L263.34,252.45 L263.58,252.38 L263.82,252.31 L264.06,252.23 L264.30,252.16 L264.54,252.09 L264.78,252.02 L265.01,251.95 L265.25,251.88 L265.49,251.81 L265.73,251.74 L265.97,251.67 L266.21,251.60 L266.45,251.53 L266.69,251.47 L266.93,251.40 L267.16,251.33 L267.40,251.26 L267.64,251.20 L267.88,251.13 L268.12,251.07 L268.36,251.00 L268.60,250.94 L268.84,250.87 L269.08,250.81 L269.31,250.75 L269.55,250.68 L269.79,250.62 L270.03,250.56 L270.27,250.50 L270.51,250.43 L270.75,250.37 L270.99,250.31 L271.23,250.25 L271.46,250.19 L271.70,250.13 L271.94,250.08 L272.18,250.02 L272.42,249.96 L272.66,249.90 L272.90,249.85 L273.14,249.79 L273.38,249.73 L273.62,249.68 L273.85,249.62 L274.09,249.57 L274.33,249.52 L274.57,249.46 L274.81,249.41 L275.05,249.36 L275.29,249.31 L275.53,249.25 L275.77,249.20 L276.00,249.15 L276.24,249.10 L276.48,249.05 L276.72,249.01 L276.96,248.96 L277.20,248.91 L277.44,248.86 L277.68,248.82 L277.92,248.77 L278.15,248.72 L278.39,248.68 L278.63,248.63 L278.87,248.59 L279.11,248.55 L279.35,248.50 L279.59,248.46 L279.83,248.42 L280.07,248.38 L280.30,248.34 L280.54,248.30 L280.78,248.26 L281.02,248.22 L281.26,248.18 L281.50,248.14 L281.74,248.11 L281.98,248.07 L282.22,248.03 L282.45,248.00 L282.69,247.96 L282.93,247.93 L283.17,247.90 L283.41,247.86 L283.65,247.83 L283.89,247.80 L284.13,247.77 L284.37,247.74 L284.60,247.71 L284.84,247.68 L285.08,247.65 L285.32,247.62 L285.56,247.60 L285.80,247.57 L286.04,247.54 L286.28,247.52 L286.52,247.50 L286.75,247.47 L286.99,247.45 L287.23,247.43 L287.47,247.40 L287.71,247.38 L287.95,247.36 L288.19,247.34 L288.43,247.33 L288.67,247.31 L288.90,247.29 L289.14,247.27 L289.38,247.26 L289.62,247.24 L289.86,247.23 L290.10,247.22 L290.34,247.20 L290.58,247.19 L290.82,247.18 L291.05,247.17 L291.29,247.16 L291.53,247.15 L291.77,247.14 L292.01,247.14 L292.25,247.13 L292.49,247.12 L292.73,247.12 L292.97,247.12 L293.20,247.11 L293.44,247.11 L293.68,247.11 L293.92,247.11 L294.16,247.11 L294.40,247.11 L294.64,247.11 L294.88,247.11 L295.12,247.12 L295.35,247.12 L295.59,247.13 L295.83,247.13 L296.07,247.14 L296.31,247.15 L296.55,247.16 L296.79,247.17 L297.03,247.18 L297.27,247.19 L297.51,247.21 L297.74,247.22 L297.98,247.24 L298.22,247.25 L298.46,247.27 L298.70,247.29 L298.94,247.31 L299.18,247.33 L299.42,247.35 L299.66,247.37 L299.89,247.39 L300.13,247.42 L300.37,247.44 L300.61,247.47 L300.85,247.49 L301.09,247.52 L301.33,247.55 L301.57,247.58 L301.81,247.61 L302.04,247.65 L302.28,247.68 L302.52,247.71 L302.76,247.75 L303.00,247.79 L303.24,247.83 L303.48,247.87 L303.72,247.91 L303.96,247.95 L304.19,247.99 L304.43,248.04 L304.67,248.08 L304.91,248.13 L305.15,248.18 L305.39,248.23 L305.63,248.28 L305.87,248.33 L306.11,248.38 L306.34,248.43 L306.58,248.49 L306.82,248.55 L307.06,248.61 L307.30,248.67 L307.54,248.73 L307.78,248.79 L308.02,248.85 L308.26,248.92 L308.49,248.98 L308.73,249.05 L308.97,249.12 L309.21,249.19 L309.45,249.26 L309.69,249.34 L309.93,249.41 L310.17,249.49 L310.41,249.57 L310.64,249.65 L310.88,249.73 L311.12,249.81 L311.36,249.89 L311.60,249.98 L311.84,250.07 L312.08,250.16 L312.32,250.25 L312.56,250.34 L312.79,250.43 L313.03,250.53 L313.27,250.62 L313.51,250.72 L313.75,250.82 L313.99,250.93 L314.23,251.03 L314.47,251.13 L314.71,251.24 L314.94,251.35 L315.18,251.46 L315.42,251.58 L315.66,251.69 L315.90,251.81 L316.14,251.92 L316.38,252.05 L316.62,252.17 L316.86,252.29 L317.09,252.42 L317.33,252.55 L317.57,252.68 L317.81,252.81 L318.05,252.94 L318.29,253.08 L318.53,253.22 L318.77,253.36 L319.01,253.50 L319.24,253.64 L319.48,253.79 L319.72,253.94 L319.96,254.09 L320.20,254.24 L320.44,254.40 L320.68,254.56 L320.92,254.72 L321.16,254.88 L321.39,255.05 L321.63,255.21 L321.87,255.38 L322.11,255.56 L322.35,255.73 L322.59,255.91 L322.83,256.09 L323.07,256.27 L323.31,256.46 L323.55,256.64 L323.78,256.83 L324.02,257.03 L324.26,257.22 L324.50,257.42 L324.74,257.62 L324.98,257.83 L325.22,258.03 L325.46,258.24 L325.70,258.45 L325.93,258.67 L326.17,258.89 L326.41,259.11 L326.65,259.34 L326.89,259.56 L327.13,259.79 L327.37,260.03 L327.61,260.27 L327.85,260.51 L328.08,260.75 L328.32,261.00 L328.56,261.25 L328.80,261.50 L329.04,261.76 L329.28,262.02 L329.52,262.29 L329.76,262.56 L330.00,262.83 L330.23,263.11 L330.47,263.39 L330.71,263.67 L330.95,263.96 L331.19,264.25 L331.43,264.54 L331.67,264.84 L331.91,265.15 L332.15,265.46 L332.38,265.77 L332.62,266.09 L332.86,266.41 L333.10,266.73 L333.34,267.06 L333.58,267.40 L333.82,267.74 L334.06,268.08 L334.30,268.43 L334.53,268.79 L334.77,269.15 L335.01,269.51 L335.25,269.88 L335.49,270.26 L335.73,270.64 L335.97,271.02 L336.21,271.41 L336.45,271.81 L336.68,272.22 L336.92,272.62 L337.16,273.04 L337.40,273.46 L337.64,273.89 L337.88,274.32 L338.12,274.76 L338.36,275.21 L338.60,275.66 L338.83,276.12 L339.07,276.59 L339.31,277.06 L339.55,277.55 L339.79,278.04 L340.03,278.53 L340.27,279.04 L340.51,279.55 L340.75,280.07 L340.98,280.60 L341.22,281.14 L341.46,281.68 L341.70,282.24 L341.94,282.80 L342.18,283.38 L342.42,283.96 L342.66,284.55 L342.90,285.15 L343.13,285.77 L343.37,286.39 L343.61,287.03 L343.85,287.67 L344.09,288.33 L344.33,289.00 L344.57,289.68 L344.81,290.37 L345.05,291.07 L345.28,291.79 L345.52,292.52 L345.76,293.27 L346.00,294.03 L346.24,294.80 L346.48,295.59 L346.72,296.40 L346.96,297.22 L347.20,298.06 L347.43,298.92 L347.67,299.79 L347.91,300.68 L348.15,301.59 L348.39,302.52 L348.63,303.47 L348.87,304.45 L349.11,305.44 L349.35,306.46 L349.59,307.50 L349.82,308.57 L350.06,309.66 L350.30,310.78 L350.54,311.93 L350.78,313.10 L351.02,314.31 L351.26,315.55 L351.50,316.83 L351.74,318.14 L351.97,319.49 L352.21,320.88 L352.45,322.31 L352.69,323.78 L352.93,325.30 L353.17,326.87 L353.41,328.50 L353.65,330.18 L353.89,331.92 L354.12,333.72 L354.36,335.59 L354.60,337.54 L354.84,339.57 L355.08,341.68 L355.32,343.88 L355.56,346.19 L355.80,348.60 L356.04,351.14 L356.27,353.81 L356.51,356.63 L356.75,359.62 L356.99,362.78 L357.23,366.16 L357.47,369.78 L357.71,373.66 L357.95,377.87 L358.19,382.44 L358.42,387.46 L358.66,389.70 L358.90,389.70 L359.14,389.70 L359.38,389.70 L359.62,389.70 L359.86,389.70 L360.10,389.70 L360.34,389.70 L360.57,389.70 L360.81,389.70 L361.05,389.70 L361.29,389.70 L361.53,389.70 L361.77,389.70 L362.01,389.70 L362.25,389.70 L362.49,389.70 L362.72,389.70 L362.96,389.70 L363.20,386.74 L363.44,381.79 L363.68,377.27 L363.92,373.12 L364.16,369.27 L364.40,365.70 L364.64,362.35 L364.87,359.21 L365.11,356.26 L365.35,353.47 L365.59,350.82 L365.83,348.31 L366.07,345.91 L366.31,343.63 L366.55,341.44 L366.79,339.35 L367.02,337.35 L367.26,335.42 L367.50,333.57 L367.74,331.79 L367.98,330.07 L368.22,328.41 L368.46,326.81 L368.70,325.26 L368.94,323.76 L369.17,322.31 L369.41,320.90 L369.65,319.54 L369.89,318.21 L370.13,316.93 L370.37,315.68 L370.61,314.47 L370.85,313.29 L371.09,312.14 L371.32,311.02 L371.56,309.93 L371.80,308.88 L372.04,307.84 L372.28,306.84 L372.52,305.86 L372.76,304.90 L373.00,303.97 L373.24,303.06 L373.47,302.17 L373.71,301.30 L373.95,300.46 L374.19,299.63 L374.43,298.82 L374.67,298.04 L374.91,297.27 L375.15,296.51 L375.39,295.78 L375.63,295.06 L375.86,294.36 L376.10,293.68 L376.34,293.01 L376.58,292.36 L376.82,291.72 L377.06,291.09 L377.30,290.49 L377.54,289.89 L377.78,289.31 L378.01,288.74 L378.25,288.19 L378.49,287.65 L378.73,287.12 L378.97,286.60 L379.21,286.10 L379.45,285.61 L379.69,285.13 L379.93,284.66 L380.16,284.21 L380.40,283.76 L380.64,283.33 L380.88,282.91 L381.12,282.50 L381.36,282.10 L381.60,281.71 L381.84,281.34 L382.08,280.97 L382.31,280.62 L382.55,280.27 L382.79,279.94 L383.03,279.61 L383.27,279.30 L383.51,278.99 L383.75,278.70 L383.99,278.41 L384.23,278.14 L384.46,277.87 L384.70,277.62 L384.94,277.37 L385.18,277.14 L385.42,276.91 L385.66,276.70 L385.90,276.49 L386.14,276.29 L386.38,276.11 L386.61,275.93 L386.85,275.76 L387.09,275.60 L387.33,275.45 L387.57,275.31 L387.81,275.18 L388.05,275.06 L388.29,274.95 L388.53,274.85 L388.76,274.76 L389.00,274.67 L389.24,274.60 L389.48,274.54 L389.72,274.48 L389.96,274.44 L390.20,274.40 L390.44,274.38 L390.68,274.36 L390.91,274.36 L391.15,274.36 L391.39,274.38 L391.63,274.40 L391.87,274.44 L392.11,274.48 L392.35,274.54 L392.59,274.60 L392.83,274.68 L393.06,274.76 L393.30,274.86 L393.54,274.97 L393.78,275.09 L394.02,275.21 L394.26,275.35 L394.50,275.50 L394.74,275.67 L394.98,275.84 L395.21,276.02 L395.45,276.22 L395.69,276.43 L395.93,276.65 L396.17,276.88 L396.41,277.12 L396.65,277.38 L396.89,277.65 L397.13,277.93 L397.36,278.22 L397.60,278.53 L397.84,278.85 L398.08,279.19 L398.32,279.54 L398.56,279.90 L398.80,280.28 L399.04,280.67 L399.28,281.07 L399.52,281.50 L399.75,281.93 L399.99,282.39 L400.23,282.85 L400.47,283.34 L400.71,283.84 L400.95,284.36 L401.19,284.90 L401.43,285.46 L401.67,286.03 L401.90,286.62 L402.14,287.24 L402.38,287.87 L402.62,288.52 L402.86,289.20 L403.10,289.90 L403.34,290.62 L403.58,291.36 L403.82,292.13 L404.05,292.92 L404.29,293.74 L404.53,294.58 L404.77,295.45 L405.01,296.35 L405.25,297.28 L405.49,298.24 L405.73,299.23 L405.97,300.26 L406.20,301.32 L406.44,302.41 L406.68,303.55 L406.92,304.72 L407.16,305.93 L407.40,307.19 L407.64,308.49 L407.88,309.84 L408.12,311.25 L408.35,312.70 L408.59,314.21 L408.83,315.78 L409.07,317.42 L409.31,319.12 L409.55,320.90 L409.79,322.75 L410.03,324.69 L410.27,326.72 L410.50,328.84 L410.74,331.07 L410.98,333.42 L411.22,335.89 L411.46,338.50 L411.70,341.27 L411.94,344.20 L412.18,347.33 L412.42,350.67 L412.65,354.25 L412.89,358.12 L413.13,362.31 L413.37,366.88 L413.61,371.90 L413.85,377.48 L414.09,383.74 L414.33,389.70 L414.57,389.70 L414.80,389.70 L415.04,389.70 L415.28,389.70 L415.52,389.70 L415.76,389.70 L416.00,389.70 L416.24,389.70 L416.48,389.70 L416.72,389.70 L416.95,389.70 L417.19,389.70 L417.43,389.70 L417.67,388.30 L417.91,381.50 L418.15,375.50 L418.39,370.13 L418.63,365.27 L418.87,360.85 L419.10,356.78 L419.34,353.03 L419.58,349.54 L419.82,346.29 L420.06,343.25 L420.30,340.39 L420.54,337.69 L420.78,335.15 L421.02,332.74 L421.25,330.46 L421.49,328.29 L421.73,326.23 L421.97,324.26 L422.21,322.39 L422.45,320.59 L422.69,318.88 L422.93,317.24 L423.17,315.67 L423.40,314.16 L423.64,312.72 L423.88,311.34 L424.12,310.01 L424.36,308.73 L424.60,307.51 L424.84,306.33 L425.08,305.20 L425.32,304.12 L425.56,303.07 L425.79,302.07 L426.03,301.11 L426.27,300.19 L426.51,299.30 L426.75,298.46 L426.99,297.64 L427.23,296.86 L427.47,296.12 L427.71,295.41 L427.94,294.72 L428.18,294.07 L428.42,293.46 L428.66,292.87 L428.90,292.31 L429.14,291.77 L429.38,291.27 L429.62,290.80 L429.86,290.35 L430.09,289.93 L430.33,289.54 L430.57,289.17 L430.81,288.83 L431.05,288.51 L431.29,288.23 L431.53,287.96 L431.77,287.73 L432.01,287.52 L432.24,287.33 L432.48,287.17 L432.72,287.04 L432.96,286.93 L433.20,286.85 L433.44,286.79 L433.68,286.76 L433.92,286.75 L434.16,286.77 L434.39,286.82 L434.63,286.89 L434.87,286.99 L435.11,287.12 L435.35,287.27 L435.59,287.45 L435.83,287.66 L436.07,287.89 L436.31,288.16 L436.54,288.45 L436.78,288.77 L437.02,289.12 L437.26,289.50 L437.50,289.92" fill="none" stroke="#680a8c" stroke-width="1.6" clip-path="url(#clipb)"/>
<line x1="76.3" y1="349.8" x2="329.0" y2="204.44" stroke="#111" stroke-width="1.8" stroke-dasharray="7,6.5" clip-path="url(#clipb)"/>
<line x1="76.5" y1="319.3" x2="76.5" y2="344.4" stroke="#680a8c" stroke-width="1.3" stroke-opacity="0.65"/>
<line x1="74.15" y1="319.3" x2="78.85" y2="319.3" stroke="#680a8c" stroke-width="1.5"/>
<line x1="74.15" y1="344.4" x2="78.85" y2="344.4" stroke="#680a8c" stroke-width="1.5"/>
<line x1="129.4" y1="313.5" x2="129.4" y2="344.0" stroke="#680a8c" stroke-width="1.3" stroke-opacity="0.65"/>
<line x1="127.05000000000001" y1="313.5" x2="131.75" y2="313.5" stroke="#680a8c" stroke-width="1.5"/>
<line x1="127.05000000000001" y1="344.0" x2="131.75" y2="344.0" stroke="#680a8c" stroke-width="1.5"/>
<line x1="181.1" y1="283.2" x2="181.1" y2="301.8" stroke="#680a8c" stroke-width="1.3" stroke-opacity="0.65"/>
<line x1="178.75" y1="283.2" x2="183.45" y2="283.2" stroke="#680a8c" stroke-width="1.5"/>
<line x1="178.75" y1="301.8" x2="183.45" y2="301.8" stroke="#680a8c" stroke-width="1.5"/>
<line x1="233.7" y1="253.7" x2="233.7" y2="286.3" stroke="#680a8c" stroke-width="1.3" stroke-opacity="0.65"/>
<line x1="231.35" y1="253.7" x2="236.04999999999998" y2="253.7" stroke="#680a8c" stroke-width="1.5"/>
<line x1="231.35" y1="286.3" x2="236.04999999999998" y2="286.3" stroke="#680a8c" stroke-width="1.5"/>
<line x1="259.0" y1="262.2" x2="259.0" y2="282.5" stroke="#680a8c" stroke-width="1.3" stroke-opacity="0.65"/>
<line x1="256.65" y1="262.2" x2="261.35" y2="262.2" stroke="#680a8c" stroke-width="1.5"/>
<line x1="256.65" y1="282.5" x2="261.35" y2="282.5" stroke="#680a8c" stroke-width="1.5"/>
<line x1="286.0" y1="241.4" x2="286.0" y2="253.7" stroke="#680a8c" stroke-width="1.3" stroke-opacity="0.65"/>
<line x1="283.65" y1="241.4" x2="288.35" y2="241.4" stroke="#680a8c" stroke-width="1.5"/>
<line x1="283.65" y1="253.7" x2="288.35" y2="253.7" stroke="#680a8c" stroke-width="1.5"/>
<line x1="311.8" y1="240.5" x2="311.8" y2="254.5" stroke="#680a8c" stroke-width="1.3" stroke-opacity="0.65"/>
<line x1="309.45" y1="240.5" x2="314.15000000000003" y2="240.5" stroke="#680a8c" stroke-width="1.5"/>
<line x1="309.45" y1="254.5" x2="314.15000000000003" y2="254.5" stroke="#680a8c" stroke-width="1.5"/>
<line x1="339.0" y1="264.6" x2="339.0" y2="276.0" stroke="#680a8c" stroke-width="1.3" stroke-opacity="0.65"/>
<line x1="336.65" y1="264.6" x2="341.35" y2="264.6" stroke="#680a8c" stroke-width="1.5"/>
<line x1="336.65" y1="276.0" x2="341.35" y2="276.0" stroke="#680a8c" stroke-width="1.5"/>
<line x1="364.1" y1="301.8" x2="364.1" y2="328.5" stroke="#680a8c" stroke-width="1.3" stroke-opacity="0.65"/>
<line x1="361.75" y1="301.8" x2="366.45000000000005" y2="301.8" stroke="#680a8c" stroke-width="1.5"/>
<line x1="361.75" y1="328.5" x2="366.45000000000005" y2="328.5" stroke="#680a8c" stroke-width="1.5"/>
<line x1="390.2" y1="264.6" x2="390.2" y2="275.3" stroke="#680a8c" stroke-width="1.3" stroke-opacity="0.65"/>
<line x1="387.84999999999997" y1="264.6" x2="392.55" y2="264.6" stroke="#680a8c" stroke-width="1.5"/>
<line x1="387.84999999999997" y1="275.3" x2="392.55" y2="275.3" stroke="#680a8c" stroke-width="1.5"/>
<line x1="416.8" y1="277.7" x2="416.8" y2="296.7" stroke="#680a8c" stroke-width="1.3" stroke-opacity="0.65"/>
<line x1="414.45" y1="277.7" x2="419.15000000000003" y2="277.7" stroke="#680a8c" stroke-width="1.5"/>
<line x1="414.45" y1="296.7" x2="419.15000000000003" y2="296.7" stroke="#680a8c" stroke-width="1.5"/>
<circle cx="76.5" cy="328.8" r="4.4" fill="#680a8c"/>
<circle cx="129.4" cy="324.2" r="4.4" fill="#680a8c"/>
<circle cx="181.1" cy="290.9" r="4.4" fill="#680a8c"/>
<circle cx="207.2" cy="274.8" r="4.4" fill="#680a8c"/>
<circle cx="233.7" cy="265.2" r="4.4" fill="#680a8c"/>
<circle cx="259.0" cy="271.0" r="4.4" fill="#680a8c"/>
<circle cx="286.0" cy="247.2" r="4.4" fill="#680a8c"/>
<circle cx="311.8" cy="246.7" r="4.4" fill="#680a8c"/>
<circle cx="339.0" cy="269.8" r="4.4" fill="#680a8c"/>
<circle cx="364.1" cy="311.9" r="4.4" fill="#680a8c"/>
<circle cx="390.2" cy="269.8" r="4.4" fill="#680a8c"/>
<circle cx="416.8" cy="285.7" r="4.4" fill="#680a8c"/>
<line x1="224.0" y1="502.3" x2="351.2" y2="354.75" stroke="#111" stroke-width="1.8" stroke-dasharray="8.5,4,1.5,4" clip-path="url(#clipc)"/>
<path d="M55.50,542.50 L55.74,542.50 L55.98,542.50 L56.22,542.50 L56.46,542.50 L56.69,542.50 L56.93,542.50 L57.17,542.50 L57.41,542.50 L57.65,542.50 L57.89,542.50 L58.13,542.50 L58.37,542.50 L58.61,542.50 L58.84,542.50 L59.08,542.50 L59.32,542.50 L59.56,542.50 L59.80,542.50 L60.04,542.50 L60.28,542.50 L60.52,542.50 L60.76,542.50 L60.99,542.50 L61.23,542.50 L61.47,542.50 L61.71,542.50 L61.95,542.50 L62.19,542.50 L62.43,542.50 L62.67,542.50 L62.91,542.50 L63.14,542.50 L63.38,542.50 L63.62,542.50 L63.86,542.50 L64.10,542.50 L64.34,542.50 L64.58,542.50 L64.82,542.50 L65.06,542.50 L65.29,542.50 L65.53,542.50 L65.77,542.50 L66.01,542.50 L66.25,542.50 L66.49,542.50 L66.73,542.50 L66.97,542.50 L67.21,542.50 L67.44,542.50 L67.68,542.50 L67.92,542.50 L68.16,542.50 L68.40,542.50 L68.64,542.50 L68.88,542.50 L69.12,542.50 L69.36,542.50 L69.60,542.50 L69.83,542.50 L70.07,542.50 L70.31,542.50 L70.55,542.50 L70.79,542.50 L71.03,542.50 L71.27,542.50 L71.51,542.50 L71.75,542.50 L71.98,542.50 L72.22,542.50 L72.46,542.50 L72.70,542.50 L72.94,542.50 L73.18,542.50 L73.42,542.50 L73.66,542.50 L73.90,542.50 L74.13,542.50 L74.37,542.50 L74.61,542.50 L74.85,542.50 L75.09,542.50 L75.33,542.50 L75.57,542.50 L75.81,542.50 L76.05,542.50 L76.28,542.50 L76.52,542.50 L76.76,542.50 L77.00,542.50 L77.24,542.50 L77.48,542.50 L77.72,542.50 L77.96,542.50 L78.20,542.50 L78.43,542.50 L78.67,542.50 L78.91,542.50 L79.15,542.50 L79.39,542.50 L79.63,542.50 L79.87,542.50 L80.11,542.50 L80.35,542.50 L80.58,542.50 L80.82,542.50 L81.06,542.50 L81.30,542.50 L81.54,542.50 L81.78,542.50 L82.02,542.50 L82.26,542.50 L82.50,542.50 L82.73,542.50 L82.97,542.50 L83.21,542.50 L83.45,542.50 L83.69,542.50 L83.93,542.50 L84.17,542.50 L84.41,542.50 L84.65,542.50 L84.88,542.50 L85.12,542.50 L85.36,542.50 L85.60,542.50 L85.84,542.50 L86.08,542.50 L86.32,542.50 L86.56,542.50 L86.80,542.50 L87.03,542.50 L87.27,542.50 L87.51,542.50 L87.75,542.50 L87.99,542.50 L88.23,542.50 L88.47,542.50 L88.71,542.50 L88.95,542.50 L89.18,542.50 L89.42,542.50 L89.66,542.50 L89.90,542.50 L90.14,542.50 L90.38,542.50 L90.62,542.50 L90.86,542.50 L91.10,542.50 L91.33,542.50 L91.57,542.50 L91.81,542.50 L92.05,542.50 L92.29,542.50 L92.53,542.50 L92.77,542.50 L93.01,542.50 L93.25,542.50 L93.48,542.50 L93.72,542.50 L93.96,542.50 L94.20,542.50 L94.44,542.50 L94.68,542.50 L94.92,542.50 L95.16,542.50 L95.40,542.50 L95.64,542.50 L95.87,542.50 L96.11,542.50 L96.35,542.50 L96.59,542.50 L96.83,542.50 L97.07,542.50 L97.31,542.50 L97.55,542.50 L97.79,542.50 L98.02,542.50 L98.26,542.50 L98.50,542.50 L98.74,542.50 L98.98,542.50 L99.22,542.50 L99.46,542.50 L99.70,542.50 L99.94,542.50 L100.17,542.50 L100.41,542.50 L100.65,542.50 L100.89,542.50 L101.13,542.50 L101.37,542.50 L101.61,542.50 L101.85,542.50 L102.09,542.50 L102.32,542.50 L102.56,542.50 L102.80,542.50 L103.04,542.50 L103.28,542.50 L103.52,542.50 L103.76,542.50 L104.00,542.50 L104.24,542.50 L104.47,542.50 L104.71,542.50 L104.95,542.50 L105.19,542.50 L105.43,542.50 L105.67,542.50 L105.91,542.50 L106.15,542.50 L106.39,542.50 L106.62,542.50 L106.86,542.50 L107.10,542.50 L107.34,542.50 L107.58,542.50 L107.82,542.50 L108.06,542.50 L108.30,542.50 L108.54,542.50 L108.77,542.50 L109.01,542.50 L109.25,542.50 L109.49,542.50 L109.73,542.50 L109.97,542.50 L110.21,542.50 L110.45,542.50 L110.69,542.50 L110.92,542.50 L111.16,542.50 L111.40,542.50 L111.64,542.50 L111.88,542.50 L112.12,542.50 L112.36,542.50 L112.60,542.50 L112.84,542.50 L113.07,542.50 L113.31,542.50 L113.55,542.50 L113.79,542.50 L114.03,542.50 L114.27,542.50 L114.51,542.50 L114.75,542.50 L114.99,542.50 L115.22,542.50 L115.46,542.50 L115.70,542.50 L115.94,542.50 L116.18,542.50 L116.42,542.50 L116.66,542.50 L116.90,542.50 L117.14,542.50 L117.37,542.50 L117.61,542.50 L117.85,542.50 L118.09,542.50 L118.33,542.50 L118.57,542.50 L118.81,542.50 L119.05,542.50 L119.29,542.50 L119.53,542.50 L119.76,542.50 L120.00,542.50 L120.24,542.50 L120.48,542.50 L120.72,542.50 L120.96,542.50 L121.20,542.50 L121.44,542.50 L121.68,542.50 L121.91,542.50 L122.15,542.50 L122.39,542.50 L122.63,542.50 L122.87,542.50 L123.11,542.50 L123.35,542.50 L123.59,542.50 L123.83,542.50 L124.06,542.50 L124.30,542.50 L124.54,542.50 L124.78,542.50 L125.02,542.50 L125.26,542.50 L125.50,542.50 L125.74,542.50 L125.98,542.50 L126.21,542.50 L126.45,542.50 L126.69,542.50 L126.93,542.50 L127.17,542.50 L127.41,542.50 L127.65,542.50 L127.89,542.50 L128.13,542.50 L128.36,542.50 L128.60,542.50 L128.84,542.50 L129.08,542.50 L129.32,542.50 L129.56,542.50 L129.80,542.50 L130.04,542.50 L130.28,542.50 L130.51,542.50 L130.75,542.50 L130.99,542.50 L131.23,542.50 L131.47,542.50 L131.71,542.50 L131.95,542.50 L132.19,542.50 L132.43,542.50 L132.66,542.50 L132.90,542.50 L133.14,542.50 L133.38,542.50 L133.62,542.50 L133.86,542.50 L134.10,542.50 L134.34,542.50 L134.58,542.50 L134.81,542.50 L135.05,542.50 L135.29,542.50 L135.53,542.50 L135.77,542.50 L136.01,542.50 L136.25,542.50 L136.49,542.50 L136.73,542.50 L136.96,542.50 L137.20,542.50 L137.44,542.50 L137.68,542.50 L137.92,542.50 L138.16,542.50 L138.40,542.50 L138.64,542.50 L138.88,542.50 L139.11,542.50 L139.35,542.50 L139.59,542.50 L139.83,542.50 L140.07,542.50 L140.31,542.50 L140.55,542.50 L140.79,542.50 L141.03,542.50 L141.26,542.50 L141.50,542.50 L141.74,542.50 L141.98,542.50 L142.22,542.50 L142.46,542.50 L142.70,542.50 L142.94,542.50 L143.18,542.50 L143.41,542.50 L143.65,542.50 L143.89,542.50 L144.13,542.50 L144.37,542.50 L144.61,542.50 L144.85,542.50 L145.09,542.50 L145.33,542.50 L145.57,542.50 L145.80,542.50 L146.04,542.50 L146.28,542.50 L146.52,542.50 L146.76,542.50 L147.00,542.50 L147.24,542.50 L147.48,542.50 L147.72,542.50 L147.95,542.50 L148.19,542.50 L148.43,542.50 L148.67,542.50 L148.91,542.50 L149.15,542.50 L149.39,542.50 L149.63,542.50 L149.87,542.50 L150.10,542.50 L150.34,542.50 L150.58,542.50 L150.82,542.50 L151.06,542.50 L151.30,542.50 L151.54,542.50 L151.78,542.50 L152.02,542.50 L152.25,542.50 L152.49,542.50 L152.73,542.50 L152.97,542.50 L153.21,542.50 L153.45,542.50 L153.69,542.50 L153.93,542.50 L154.17,542.50 L154.40,542.50 L154.64,542.50 L154.88,542.50 L155.12,542.50 L155.36,542.50 L155.60,542.50 L155.84,542.50 L156.08,542.50 L156.32,542.50 L156.55,542.50 L156.79,542.50 L157.03,542.50 L157.27,542.50 L157.51,542.50 L157.75,542.50 L157.99,542.50 L158.23,542.50 L158.47,542.50 L158.70,542.50 L158.94,542.50 L159.18,542.50 L159.42,542.50 L159.66,542.50 L159.90,542.50 L160.14,542.50 L160.38,542.50 L160.62,542.50 L160.85,542.50 L161.09,542.50 L161.33,542.50 L161.57,542.50 L161.81,542.50 L162.05,542.50 L162.29,542.50 L162.53,542.50 L162.77,542.50 L163.00,542.50 L163.24,542.50 L163.48,542.50 L163.72,542.50 L163.96,542.50 L164.20,542.50 L164.44,542.50 L164.68,542.50 L164.92,542.50 L165.15,542.50 L165.39,542.50 L165.63,542.50 L165.87,542.50 L166.11,542.50 L166.35,542.50 L166.59,542.50 L166.83,542.50 L167.07,542.50 L167.30,542.50 L167.54,542.50 L167.78,542.50 L168.02,542.50 L168.26,542.50 L168.50,542.50 L168.74,542.50 L168.98,542.50 L169.22,542.50 L169.45,542.50 L169.69,542.50 L169.93,542.50 L170.17,542.50 L170.41,542.50 L170.65,542.50 L170.89,542.50 L171.13,542.50 L171.37,542.50 L171.61,542.50 L171.84,542.50 L172.08,542.50 L172.32,542.50 L172.56,542.50 L172.80,542.50 L173.04,542.50 L173.28,542.50 L173.52,542.50 L173.76,542.50 L173.99,542.50 L174.23,542.50 L174.47,542.50 L174.71,542.50 L174.95,542.50 L175.19,542.50 L175.43,542.50 L175.67,542.50 L175.91,542.50 L176.14,542.50 L176.38,542.50 L176.62,542.50 L176.86,542.50 L177.10,542.50 L177.34,542.50 L177.58,542.50 L177.82,542.50 L178.06,542.50 L178.29,542.50 L178.53,542.50 L178.77,542.50 L179.01,542.50 L179.25,542.50 L179.49,542.50 L179.73,542.50 L179.97,542.50 L180.21,542.50 L180.44,542.50 L180.68,542.50 L180.92,542.50 L181.16,542.50 L181.40,542.50 L181.64,542.50 L181.88,542.50 L182.12,542.50 L182.36,542.50 L182.59,542.50 L182.83,542.50 L183.07,542.50 L183.31,542.50 L183.55,542.50 L183.79,542.50 L184.03,542.50 L184.27,542.50 L184.51,542.50 L184.74,542.50 L184.98,542.50 L185.22,542.50 L185.46,542.50 L185.70,542.50 L185.94,542.50 L186.18,542.50 L186.42,542.27 L186.66,542.00 L186.89,541.73 L187.13,541.47 L187.37,541.20 L187.61,540.93 L187.85,540.67 L188.09,540.40 L188.33,540.13 L188.57,539.86 L188.81,539.60 L189.04,539.33 L189.28,539.06 L189.52,538.80 L189.76,538.53 L190.00,538.26 L190.24,538.00 L190.48,537.73 L190.72,537.46 L190.96,537.19 L191.19,536.93 L191.43,536.66 L191.67,536.39 L191.91,536.13 L192.15,535.86 L192.39,535.60 L192.63,535.33 L192.87,535.06 L193.11,534.80 L193.34,534.53 L193.58,534.26 L193.82,534.00 L194.06,533.73 L194.30,533.47 L194.54,533.20 L194.78,532.93 L195.02,532.67 L195.26,532.40 L195.49,532.14 L195.73,531.87 L195.97,531.60 L196.21,531.34 L196.45,531.07 L196.69,530.81 L196.93,530.54 L197.17,530.28 L197.41,530.01 L197.65,529.74 L197.88,529.48 L198.12,529.21 L198.36,528.95 L198.60,528.68 L198.84,528.42 L199.08,528.15 L199.32,527.89 L199.56,527.62 L199.80,527.36 L200.03,527.09 L200.27,526.83 L200.51,526.56 L200.75,526.30 L200.99,526.03 L201.23,525.77 L201.47,525.50 L201.71,525.24 L201.95,524.98 L202.18,524.71 L202.42,524.45 L202.66,524.18 L202.90,523.92 L203.14,523.65 L203.38,523.39 L203.62,523.13 L203.86,522.86 L204.10,522.60 L204.33,522.33 L204.57,522.07 L204.81,521.81 L205.05,521.54 L205.29,521.28 L205.53,521.01 L205.77,520.75 L206.01,520.49 L206.25,520.22 L206.48,519.96 L206.72,519.70 L206.96,519.43 L207.20,519.17 L207.44,518.91 L207.68,518.64 L207.92,518.38 L208.16,518.12 L208.40,517.86 L208.63,517.59 L208.87,517.33 L209.11,517.07 L209.35,516.80 L209.59,516.54 L209.83,516.28 L210.07,516.02 L210.31,515.75 L210.55,515.49 L210.78,515.23 L211.02,514.97 L211.26,514.71 L211.50,514.44 L211.74,514.18 L211.98,513.92 L212.22,513.66 L212.46,513.40 L212.70,513.13 L212.93,512.87 L213.17,512.61 L213.41,512.35 L213.65,512.09 L213.89,511.83 L214.13,511.57 L214.37,511.30 L214.61,511.04 L214.85,510.78 L215.08,510.52 L215.32,510.26 L215.56,510.00 L215.80,509.74 L216.04,509.48 L216.28,509.22 L216.52,508.96 L216.76,508.70 L217.00,508.44 L217.23,508.18 L217.47,507.91 L217.71,507.65 L217.95,507.39 L218.19,507.13 L218.43,506.87 L218.67,506.61 L218.91,506.36 L219.15,506.10 L219.38,505.84 L219.62,505.58 L219.86,505.32 L220.10,505.06 L220.34,504.80 L220.58,504.54 L220.82,504.28 L221.06,504.02 L221.30,503.76 L221.54,503.50 L221.77,503.24 L222.01,502.99 L222.25,502.73 L222.49,502.47 L222.73,502.21 L222.97,501.95 L223.21,501.69 L223.45,501.44 L223.69,501.18 L223.92,500.92 L224.16,500.66 L224.40,500.40 L224.64,500.15 L224.88,499.89 L225.12,499.63 L225.36,499.37 L225.60,499.12 L225.84,498.86 L226.07,498.60 L226.31,498.34 L226.55,498.09 L226.79,497.83 L227.03,497.57 L227.27,497.32 L227.51,497.06 L227.75,496.80 L227.99,496.55 L228.22,496.29 L228.46,496.03 L228.70,495.78 L228.94,495.52 L229.18,495.27 L229.42,495.01 L229.66,494.76 L229.90,494.50 L230.14,494.24 L230.37,493.99 L230.61,493.73 L230.85,493.48 L231.09,493.22 L231.33,492.97 L231.57,492.71 L231.81,492.46 L232.05,492.20 L232.29,491.95 L232.52,491.69 L232.76,491.44 L233.00,491.19 L233.24,490.93 L233.48,490.68 L233.72,490.42 L233.96,490.17 L234.20,489.92 L234.44,489.66 L234.67,489.41 L234.91,489.16 L235.15,488.90 L235.39,488.65 L235.63,488.40 L235.87,488.14 L236.11,487.89 L236.35,487.64 L236.59,487.39 L236.82,487.13 L237.06,486.88 L237.30,486.63 L237.54,486.38 L237.78,486.13 L238.02,485.87 L238.26,485.62 L238.50,485.37 L238.74,485.12 L238.97,484.87 L239.21,484.62 L239.45,484.37 L239.69,484.12 L239.93,483.86 L240.17,483.61 L240.41,483.36 L240.65,483.11 L240.89,482.86 L241.12,482.61 L241.36,482.36 L241.60,482.11 L241.84,481.86 L242.08,481.61 L242.32,481.36 L242.56,481.12 L242.80,480.87 L243.04,480.62 L243.27,480.37 L243.51,480.12 L243.75,479.87 L243.99,479.62 L244.23,479.37 L244.47,479.13 L244.71,478.88 L244.95,478.63 L245.19,478.38 L245.42,478.13 L245.66,477.89 L245.90,477.64 L246.14,477.39 L246.38,477.15 L246.62,476.90 L246.86,476.65 L247.10,476.41 L247.34,476.16 L247.58,475.91 L247.81,475.67 L248.05,475.42 L248.29,475.18 L248.53,474.93 L248.77,474.68 L249.01,474.44 L249.25,474.19 L249.49,473.95 L249.73,473.70 L249.96,473.46 L250.20,473.21 L250.44,472.97 L250.68,472.73 L250.92,472.48 L251.16,472.24 L251.40,471.99 L251.64,471.75 L251.88,471.51 L252.11,471.26 L252.35,471.02 L252.59,470.78 L252.83,470.54 L253.07,470.29 L253.31,470.05 L253.55,469.81 L253.79,469.57 L254.03,469.33 L254.26,469.08 L254.50,468.84 L254.74,468.60 L254.98,468.36 L255.22,468.12 L255.46,467.88 L255.70,467.64 L255.94,467.40 L256.18,467.16 L256.41,466.92 L256.65,466.68 L256.89,466.44 L257.13,466.20 L257.37,465.96 L257.61,465.72 L257.85,465.48 L258.09,465.24 L258.33,465.01 L258.56,464.77 L258.80,464.53 L259.04,464.29 L259.28,464.05 L259.52,463.82 L259.76,463.58 L260.00,463.34 L260.24,463.11 L260.48,462.87 L260.71,462.63 L260.95,462.40 L261.19,462.16 L261.43,461.93 L261.67,461.69 L261.91,461.45 L262.15,461.22 L262.39,460.98 L262.63,460.75 L262.86,460.52 L263.10,460.28 L263.34,460.05 L263.58,459.81 L263.82,459.58 L264.06,459.35 L264.30,459.11 L264.54,458.88 L264.78,458.65 L265.01,458.42 L265.25,458.18 L265.49,457.95 L265.73,457.72 L265.97,457.49 L266.21,457.26 L266.45,457.03 L266.69,456.80 L266.93,456.57 L267.16,456.34 L267.40,456.11 L267.64,455.88 L267.88,455.65 L268.12,455.42 L268.36,455.19 L268.60,454.96 L268.84,454.73 L269.08,454.50 L269.31,454.27 L269.55,454.05 L269.79,453.82 L270.03,453.59 L270.27,453.37 L270.51,453.14 L270.75,452.91 L270.99,452.69 L271.23,452.46 L271.46,452.23 L271.70,452.01 L271.94,451.78 L272.18,451.56 L272.42,451.33 L272.66,451.11 L272.90,450.89 L273.14,450.66 L273.38,450.44 L273.62,450.22 L273.85,449.99 L274.09,449.77 L274.33,449.55 L274.57,449.33 L274.81,449.10 L275.05,448.88 L275.29,448.66 L275.53,448.44 L275.77,448.22 L276.00,448.00 L276.24,447.78 L276.48,447.56 L276.72,447.34 L276.96,447.12 L277.20,446.90 L277.44,446.69 L277.68,446.47 L277.92,446.25 L278.15,446.03 L278.39,445.82 L278.63,445.60 L278.87,445.38 L279.11,445.17 L279.35,444.95 L279.59,444.74 L279.83,444.52 L280.07,444.31 L280.30,444.09 L280.54,443.88 L280.78,443.66 L281.02,443.45 L281.26,443.24 L281.50,443.02 L281.74,442.81 L281.98,442.60 L282.22,442.39 L282.45,442.18 L282.69,441.97 L282.93,441.75 L283.17,441.54 L283.41,441.33 L283.65,441.12 L283.89,440.92 L284.13,440.71 L284.37,440.50 L284.60,440.29 L284.84,440.08 L285.08,439.87 L285.32,439.67 L285.56,439.46 L285.80,439.26 L286.04,439.05 L286.28,438.84 L286.52,438.64 L286.75,438.43 L286.99,438.23 L287.23,438.03 L287.47,437.82 L287.71,437.62 L287.95,437.42 L288.19,437.21 L288.43,437.01 L288.67,436.81 L288.90,436.61 L289.14,436.41 L289.38,436.21 L289.62,436.01 L289.86,435.81 L290.10,435.61 L290.34,435.41 L290.58,435.21 L290.82,435.02 L291.05,434.82 L291.29,434.62 L291.53,434.43 L291.77,434.23 L292.01,434.04 L292.25,433.84 L292.49,433.65 L292.73,433.45 L292.97,433.26 L293.20,433.06 L293.44,432.87 L293.68,432.68 L293.92,432.49 L294.16,432.30 L294.40,432.11 L294.64,431.92 L294.88,431.73 L295.12,431.54 L295.35,431.35 L295.59,431.16 L295.83,430.97 L296.07,430.78 L296.31,430.60 L296.55,430.41 L296.79,430.23 L297.03,430.04 L297.27,429.85 L297.51,429.67 L297.74,429.49 L297.98,429.30 L298.22,429.12 L298.46,428.94 L298.70,428.76 L298.94,428.58 L299.18,428.39 L299.42,428.21 L299.66,428.04 L299.89,427.86 L300.13,427.68 L300.37,427.50 L300.61,427.32 L300.85,427.15 L301.09,426.97 L301.33,426.79 L301.57,426.62 L301.81,426.44 L302.04,426.27 L302.28,426.10 L302.52,425.92 L302.76,425.75 L303.00,425.58 L303.24,425.41 L303.48,425.24 L303.72,425.07 L303.96,424.90 L304.19,424.73 L304.43,424.56 L304.67,424.40 L304.91,424.23 L305.15,424.06 L305.39,423.90 L305.63,423.73 L305.87,423.57 L306.11,423.41 L306.34,423.24 L306.58,423.08 L306.82,422.92 L307.06,422.76 L307.30,422.60 L307.54,422.44 L307.78,422.28 L308.02,422.12 L308.26,421.97 L308.49,421.81 L308.73,421.65 L308.97,421.50 L309.21,421.34 L309.45,421.19 L309.69,421.04 L309.93,420.88 L310.17,420.73 L310.41,420.58 L310.64,420.43 L310.88,420.28 L311.12,420.13 L311.36,419.98 L311.60,419.84 L311.84,419.69 L312.08,419.54 L312.32,419.40 L312.56,419.26 L312.79,419.11 L313.03,418.97 L313.27,418.83 L313.51,418.69 L313.75,418.55 L313.99,418.41 L314.23,418.27 L314.47,418.13 L314.71,417.99 L314.94,417.86 L315.18,417.72 L315.42,417.59 L315.66,417.45 L315.90,417.32 L316.14,417.19 L316.38,417.06 L316.62,416.93 L316.86,416.80 L317.09,416.67 L317.33,416.54 L317.57,416.42 L317.81,416.29 L318.05,416.17 L318.29,416.04 L318.53,415.92 L318.77,415.80 L319.01,415.68 L319.24,415.56 L319.48,415.44 L319.72,415.32 L319.96,415.20 L320.20,415.08 L320.44,414.97 L320.68,414.85 L320.92,414.74 L321.16,414.63 L321.39,414.52 L321.63,414.41 L321.87,414.30 L322.11,414.19 L322.35,414.08 L322.59,413.98 L322.83,413.87 L323.07,413.77 L323.31,413.66 L323.55,413.56 L323.78,413.46 L324.02,413.36 L324.26,413.26 L324.50,413.16 L324.74,413.07 L324.98,412.97 L325.22,412.88 L325.46,412.78 L325.70,412.69 L325.93,412.60 L326.17,412.51 L326.41,412.42 L326.65,412.34 L326.89,412.25 L327.13,412.16 L327.37,412.08 L327.61,412.00 L327.85,411.92 L328.08,411.84 L328.32,411.76 L328.56,411.68 L328.80,411.60 L329.04,411.53 L329.28,411.46 L329.52,411.38 L329.76,411.31 L330.00,411.24 L330.23,411.17 L330.47,411.11 L330.71,411.04 L330.95,410.98 L331.19,410.91 L331.43,410.85 L331.67,410.79 L331.91,410.73 L332.15,410.68 L332.38,410.62 L332.62,410.56 L332.86,410.51 L333.10,410.46 L333.34,410.41 L333.58,410.36 L333.82,410.31 L334.06,410.27 L334.30,410.22 L334.53,410.18 L334.77,410.14 L335.01,410.10 L335.25,410.06 L335.49,410.03 L335.73,409.99 L335.97,409.96 L336.21,409.93 L336.45,409.90 L336.68,409.87 L336.92,409.84 L337.16,409.82 L337.40,409.79 L337.64,409.77 L337.88,409.75 L338.12,409.74 L338.36,409.72 L338.60,409.71 L338.83,409.69 L339.07,409.68 L339.31,409.67 L339.55,409.67 L339.79,409.66 L340.03,409.66 L340.27,409.66 L340.51,409.66 L340.75,409.66 L340.98,409.66 L341.22,409.67 L341.46,409.68 L341.70,409.69 L341.94,409.70 L342.18,409.71 L342.42,409.73 L342.66,409.75 L342.90,409.77 L343.13,409.79 L343.37,409.82 L343.61,409.84 L343.85,409.87 L344.09,409.91 L344.33,409.94 L344.57,409.98 L344.81,410.01 L345.05,410.05 L345.28,410.10 L345.52,410.14 L345.76,410.19 L346.00,410.24 L346.24,410.29 L346.48,410.35 L346.72,410.40 L346.96,410.46 L347.20,410.52 L347.43,410.59 L347.67,410.66 L347.91,410.73 L348.15,410.80 L348.39,410.87 L348.63,410.95 L348.87,411.03 L349.11,411.12 L349.35,411.20 L349.59,411.29 L349.82,411.38 L350.06,411.48 L350.30,411.57 L350.54,411.68 L350.78,411.78 L351.02,411.88 L351.26,411.99 L351.50,412.11 L351.74,412.22 L351.97,412.34 L352.21,412.46 L352.45,412.59 L352.69,412.72 L352.93,412.85 L353.17,412.98 L353.41,413.12 L353.65,413.26 L353.89,413.41 L354.12,413.56 L354.36,413.71 L354.60,413.86 L354.84,414.02 L355.08,414.19 L355.32,414.35 L355.56,414.52 L355.80,414.70 L356.04,414.88 L356.27,415.06 L356.51,415.24 L356.75,415.43 L356.99,415.63 L357.23,415.83 L357.47,416.03 L357.71,416.24 L357.95,416.45 L358.19,416.66 L358.42,416.88 L358.66,417.11 L358.90,417.33 L359.14,417.57 L359.38,417.81 L359.62,418.05 L359.86,418.30 L360.10,418.55 L360.34,418.81 L360.57,419.07 L360.81,419.34 L361.05,419.61 L361.29,419.89 L361.53,420.17 L361.77,420.46 L362.01,420.76 L362.25,421.06 L362.49,421.36 L362.72,421.68 L362.96,421.99 L363.20,422.32 L363.44,422.65 L363.68,422.98 L363.92,423.33 L364.16,423.68 L364.40,424.03 L364.64,424.39 L364.87,424.76 L365.11,425.14 L365.35,425.52 L365.59,425.91 L365.83,426.31 L366.07,426.72 L366.31,427.13 L366.55,427.55 L366.79,427.98 L367.02,428.42 L367.26,428.86 L367.50,429.32 L367.74,429.78 L367.98,430.25 L368.22,430.73 L368.46,431.22 L368.70,431.72 L368.94,432.23 L369.17,432.75 L369.41,433.28 L369.65,433.82 L369.89,434.37 L370.13,434.93 L370.37,435.50 L370.61,436.08 L370.85,436.68 L371.09,437.28 L371.32,437.90 L371.56,438.53 L371.80,439.18 L372.04,439.84 L372.28,440.51 L372.52,441.19 L372.76,441.89 L373.00,442.61 L373.24,443.34 L373.47,444.09 L373.71,444.85 L373.95,445.63 L374.19,446.43 L374.43,447.24 L374.67,448.08 L374.91,448.93 L375.15,449.80 L375.39,450.70 L375.63,451.61 L375.86,452.55 L376.10,453.51 L376.34,454.49 L376.58,455.50 L376.82,456.54 L377.06,457.60 L377.30,458.69 L377.54,459.81 L377.78,460.96 L378.01,462.14 L378.25,463.36 L378.49,464.61 L378.73,465.90 L378.97,467.22 L379.21,468.59 L379.45,470.00 L379.69,471.46 L379.93,472.97 L380.16,474.52 L380.40,476.14 L380.64,477.81 L380.88,479.54 L381.12,481.33 L381.36,483.20 L381.60,485.15 L381.84,487.17 L382.08,489.29 L382.31,491.50 L382.55,493.81 L382.79,496.24 L383.03,498.80 L383.27,501.49 L383.51,504.33 L383.75,507.35 L383.99,510.56 L384.23,513.99 L384.46,517.66 L384.70,521.62 L384.94,525.91 L385.18,530.59 L385.42,535.74 L385.66,541.45 L385.90,542.50 L386.14,542.50 L386.38,542.50 L386.61,542.50 L386.85,542.50 L387.09,542.50 L387.33,542.50 L387.57,542.50 L387.81,542.50 L388.05,542.50 L388.29,542.50 L388.53,542.50 L388.76,542.50 L389.00,542.50 L389.24,542.50 L389.48,542.50 L389.72,542.50 L389.96,537.39 L390.20,532.09 L390.44,527.28 L390.68,522.88 L390.91,518.84 L391.15,515.09 L391.39,511.59 L391.63,508.33 L391.87,505.26 L392.11,502.38 L392.35,499.65 L392.59,497.06 L392.83,494.61 L393.06,492.27 L393.30,490.04 L393.54,487.92 L393.78,485.88 L394.02,483.93 L394.26,482.06 L394.50,480.26 L394.74,478.53 L394.98,476.86 L395.21,475.26 L395.45,473.71 L395.69,472.22 L395.93,470.78 L396.17,469.38 L396.41,468.04 L396.65,466.73 L396.89,465.47 L397.13,464.24 L397.36,463.06 L397.60,461.91 L397.84,460.79 L398.08,459.71 L398.32,458.66 L398.56,457.65 L398.80,456.66 L399.04,455.70 L399.28,454.77 L399.52,453.86 L399.75,452.98 L399.99,452.13 L400.23,451.30 L400.47,450.49 L400.71,449.71 L400.95,448.95 L401.19,448.21 L401.43,447.50 L401.67,446.80 L401.90,446.13 L402.14,445.47 L402.38,444.83 L402.62,444.22 L402.86,443.62 L403.10,443.04 L403.34,442.48 L403.58,441.94 L403.82,441.41 L404.05,440.90 L404.29,440.41 L404.53,439.93 L404.77,439.47 L405.01,439.03 L405.25,438.60 L405.49,438.19 L405.73,437.80 L405.97,437.42 L406.20,437.05 L406.44,436.70 L406.68,436.37 L406.92,436.05 L407.16,435.75 L407.40,435.46 L407.64,435.18 L407.88,434.92 L408.12,434.68 L408.35,434.45 L408.59,434.23 L408.83,434.03 L409.07,433.84 L409.31,433.67 L409.55,433.51 L409.79,433.36 L410.03,433.23 L410.27,433.12 L410.50,433.01 L410.74,432.93 L410.98,432.85 L411.22,432.80 L411.46,432.75 L411.70,432.72 L411.94,432.71 L412.18,432.71 L412.42,432.72 L412.65,432.75 L412.89,432.80 L413.13,432.85 L413.37,432.93 L413.61,433.02 L413.85,433.13 L414.09,433.25 L414.33,433.38 L414.57,433.54 L414.80,433.71 L415.04,433.89 L415.28,434.09 L415.52,434.31 L415.76,434.55 L416.00,434.80 L416.24,435.07 L416.48,435.36 L416.72,435.67 L416.95,435.99 L417.19,436.34 L417.43,436.70 L417.67,437.08 L417.91,437.48 L418.15,437.91 L418.39,438.35 L418.63,438.81 L418.87,439.30 L419.10,439.81 L419.34,440.34 L419.58,440.89 L419.82,441.47 L420.06,442.07 L420.30,442.69 L420.54,443.35 L420.78,444.02 L421.02,444.73 L421.25,445.46 L421.49,446.23 L421.73,447.02 L421.97,447.84 L422.21,448.70 L422.45,449.59 L422.69,450.51 L422.93,451.48 L423.17,452.47 L423.40,453.51 L423.64,454.59 L423.88,455.71 L424.12,456.87 L424.36,458.08 L424.60,459.34 L424.84,460.65 L425.08,462.01 L425.32,463.44 L425.56,464.92 L425.79,466.46 L426.03,468.08 L426.27,469.76 L426.51,471.53 L426.75,473.37 L426.99,475.31 L427.23,477.34 L427.47,479.48 L427.71,481.73 L427.94,484.10 L428.18,486.60 L428.42,489.26 L428.66,492.08 L428.90,495.08 L429.14,498.29 L429.38,501.73 L429.62,505.44 L429.86,509.45 L430.09,513.82 L430.33,518.61 L430.57,523.91 L430.81,529.83 L431.05,536.53 L431.29,542.50 L431.53,542.50 L431.77,542.50 L432.01,542.50 L432.24,542.50 L432.48,542.50 L432.72,542.50 L432.96,542.50 L433.20,542.50 L433.44,542.50 L433.68,542.50 L433.92,542.50 L434.16,542.50 L434.39,540.56 L434.63,533.35 L434.87,527.04 L435.11,521.42 L435.35,516.38 L435.59,511.80 L435.83,507.61 L436.07,503.75 L436.31,500.19 L436.54,496.87 L436.78,493.78 L437.02,490.88 L437.26,488.17 L437.50,485.61" fill="none" stroke="#e8704e" stroke-width="1.6" clip-path="url(#clipc)"/>
<line x1="76.6" y1="495.9" x2="76.6" y2="502" stroke="#e8704e" stroke-width="1.3" stroke-opacity="0.8"/>
<line x1="74.1" y1="495.9" x2="79.1" y2="495.9" stroke="#e8704e" stroke-width="1.5"/>
<line x1="129.5" y1="495.9" x2="129.5" y2="502" stroke="#e8704e" stroke-width="1.3" stroke-opacity="0.8"/>
<line x1="127.0" y1="495.9" x2="132.0" y2="495.9" stroke="#e8704e" stroke-width="1.5"/>
<line x1="259.2" y1="457.5" x2="259.2" y2="475.8" stroke="#e8704e" stroke-width="1.3" stroke-opacity="0.8"/>
<line x1="256.7" y1="457.5" x2="261.7" y2="457.5" stroke="#e8704e" stroke-width="1.5"/>
<line x1="256.7" y1="475.8" x2="261.7" y2="475.8" stroke="#e8704e" stroke-width="1.5"/>
<line x1="286.1" y1="431.5" x2="286.1" y2="448.0" stroke="#e8704e" stroke-width="1.3" stroke-opacity="0.8"/>
<line x1="283.6" y1="431.5" x2="288.6" y2="431.5" stroke="#e8704e" stroke-width="1.5"/>
<line x1="283.6" y1="448.0" x2="288.6" y2="448.0" stroke="#e8704e" stroke-width="1.5"/>
<line x1="312.3" y1="414.8" x2="312.3" y2="429.6" stroke="#e8704e" stroke-width="1.3" stroke-opacity="0.8"/>
<line x1="309.8" y1="414.8" x2="314.8" y2="414.8" stroke="#e8704e" stroke-width="1.5"/>
<line x1="309.8" y1="429.6" x2="314.8" y2="429.6" stroke="#e8704e" stroke-width="1.5"/>
<line x1="338.9" y1="405.6" x2="338.9" y2="417.5" stroke="#e8704e" stroke-width="1.3" stroke-opacity="0.8"/>
<line x1="336.4" y1="405.6" x2="341.4" y2="405.6" stroke="#e8704e" stroke-width="1.5"/>
<line x1="336.4" y1="417.5" x2="341.4" y2="417.5" stroke="#e8704e" stroke-width="1.5"/>
<line x1="363.9" y1="419.4" x2="363.9" y2="455.0" stroke="#e8704e" stroke-width="1.3" stroke-opacity="0.8"/>
<line x1="361.4" y1="419.4" x2="366.4" y2="419.4" stroke="#e8704e" stroke-width="1.5"/>
<line x1="361.4" y1="455.0" x2="366.4" y2="455.0" stroke="#e8704e" stroke-width="1.5"/>
<line x1="390.3" y1="444.4" x2="390.3" y2="463.3" stroke="#e8704e" stroke-width="1.3" stroke-opacity="0.8"/>
<line x1="387.8" y1="444.4" x2="392.8" y2="444.4" stroke="#e8704e" stroke-width="1.5"/>
<line x1="387.8" y1="463.3" x2="392.8" y2="463.3" stroke="#e8704e" stroke-width="1.5"/>
<line x1="416.7" y1="440.3" x2="416.7" y2="455.6" stroke="#e8704e" stroke-width="1.3" stroke-opacity="0.8"/>
<line x1="414.2" y1="440.3" x2="419.2" y2="440.3" stroke="#e8704e" stroke-width="1.5"/>
<line x1="414.2" y1="455.6" x2="419.2" y2="455.6" stroke="#e8704e" stroke-width="1.5"/>
<polygon points="181.10,490.10 185.86,493.55 184.04,499.15 178.16,499.15 176.34,493.55" fill="#e8704e"/>
<polygon points="207.30,487.00 212.06,490.45 210.24,496.05 204.36,496.05 202.54,490.45" fill="#e8704e"/>
<polygon points="259.20,461.00 263.96,464.45 262.14,470.05 256.26,470.05 254.44,464.45" fill="#e8704e"/>
<polygon points="286.10,434.10 290.86,437.55 289.04,443.15 283.16,443.15 281.34,437.55" fill="#e8704e"/>
<polygon points="312.30,416.70 317.06,420.15 315.24,425.75 309.36,425.75 307.54,420.15" fill="#e8704e"/>
<polygon points="338.90,406.20 343.66,409.65 341.84,415.25 335.96,415.25 334.14,409.65" fill="#e8704e"/>
<polygon points="363.90,427.00 368.66,430.45 366.84,436.05 360.96,436.05 359.14,430.45" fill="#e8704e"/>
<polygon points="390.30,448.40 395.06,451.85 393.24,457.45 387.36,457.45 385.54,451.85" fill="#e8704e"/>
<polygon points="416.70,442.80 421.46,446.25 419.64,451.85 413.76,451.85 411.94,446.25" fill="#e8704e"/>
<path d="M55.50,696.50 L55.74,696.50 L55.98,696.50 L56.22,696.50 L56.46,696.50 L56.69,696.50 L56.93,696.50 L57.17,696.50 L57.41,696.50 L57.65,696.50 L57.89,696.50 L58.13,696.50 L58.37,696.50 L58.61,696.50 L58.84,696.50 L59.08,696.50 L59.32,696.50 L59.56,696.50 L59.80,696.50 L60.04,696.50 L60.28,696.50 L60.52,696.50 L60.76,696.50 L60.99,696.50 L61.23,696.50 L61.47,696.50 L61.71,696.50 L61.95,696.50 L62.19,696.50 L62.43,696.50 L62.67,696.50 L62.91,696.50 L63.14,696.50 L63.38,696.50 L63.62,696.50 L63.86,696.50 L64.10,696.50 L64.34,696.50 L64.58,696.50 L64.82,696.50 L65.06,696.50 L65.29,696.50 L65.53,696.50 L65.77,696.50 L66.01,696.50 L66.25,696.50 L66.49,696.50 L66.73,696.50 L66.97,696.50 L67.21,696.50 L67.44,696.50 L67.68,696.50 L67.92,696.50 L68.16,696.50 L68.40,696.50 L68.64,696.50 L68.88,696.50 L69.12,696.50 L69.36,696.50 L69.60,696.50 L69.83,696.50 L70.07,696.50 L70.31,696.50 L70.55,696.50 L70.79,696.50 L71.03,696.50 L71.27,696.50 L71.51,696.50 L71.75,696.50 L71.98,696.50 L72.22,696.50 L72.46,696.50 L72.70,696.50 L72.94,696.50 L73.18,696.50 L73.42,696.50 L73.66,696.50 L73.90,696.50 L74.13,696.50 L74.37,696.50 L74.61,696.50 L74.85,696.50 L75.09,696.50 L75.33,696.50 L75.57,696.50 L75.81,696.50 L76.05,696.50 L76.28,696.50 L76.52,696.50 L76.76,696.50 L77.00,696.50 L77.24,696.50 L77.48,696.50 L77.72,696.50 L77.96,696.50 L78.20,696.50 L78.43,696.50 L78.67,696.50 L78.91,696.50 L79.15,696.50 L79.39,696.50 L79.63,696.50 L79.87,696.50 L80.11,696.50 L80.35,696.50 L80.58,696.50 L80.82,696.50 L81.06,696.50 L81.30,696.50 L81.54,696.50 L81.78,696.50 L82.02,696.50 L82.26,696.50 L82.50,696.50 L82.73,696.50 L82.97,696.50 L83.21,696.50 L83.45,696.50 L83.69,696.50 L83.93,696.50 L84.17,696.50 L84.41,696.50 L84.65,696.50 L84.88,696.50 L85.12,696.50 L85.36,696.50 L85.60,696.50 L85.84,696.50 L86.08,696.50 L86.32,696.50 L86.56,696.50 L86.80,696.50 L87.03,696.50 L87.27,696.50 L87.51,696.50 L87.75,696.50 L87.99,696.50 L88.23,696.50 L88.47,696.50 L88.71,696.50 L88.95,696.50 L89.18,696.50 L89.42,696.50 L89.66,696.50 L89.90,696.50 L90.14,696.50 L90.38,696.50 L90.62,696.50 L90.86,696.50 L91.10,696.50 L91.33,696.50 L91.57,696.50 L91.81,696.50 L92.05,696.50 L92.29,696.50 L92.53,696.50 L92.77,696.50 L93.01,696.50 L93.25,696.50 L93.48,696.50 L93.72,696.50 L93.96,696.50 L94.20,696.50 L94.44,696.50 L94.68,696.50 L94.92,696.50 L95.16,696.50 L95.40,696.50 L95.64,696.50 L95.87,696.50 L96.11,696.50 L96.35,696.50 L96.59,696.50 L96.83,696.50 L97.07,696.50 L97.31,696.50 L97.55,696.50 L97.79,696.50 L98.02,696.50 L98.26,696.50 L98.50,696.50 L98.74,696.50 L98.98,696.50 L99.22,696.50 L99.46,696.50 L99.70,696.50 L99.94,696.50 L100.17,696.50 L100.41,696.50 L100.65,696.50 L100.89,696.50 L101.13,696.50 L101.37,696.50 L101.61,696.50 L101.85,696.50 L102.09,696.50 L102.32,696.50 L102.56,696.50 L102.80,696.50 L103.04,696.50 L103.28,696.50 L103.52,696.50 L103.76,696.50 L104.00,696.50 L104.24,696.50 L104.47,696.50 L104.71,696.50 L104.95,696.50 L105.19,696.50 L105.43,696.50 L105.67,696.50 L105.91,696.50 L106.15,696.50 L106.39,696.50 L106.62,696.50 L106.86,696.50 L107.10,696.50 L107.34,696.50 L107.58,696.50 L107.82,696.50 L108.06,696.50 L108.30,696.50 L108.54,696.50 L108.77,696.50 L109.01,696.50 L109.25,696.50 L109.49,696.50 L109.73,696.50 L109.97,696.50 L110.21,696.50 L110.45,696.50 L110.69,696.50 L110.92,696.50 L111.16,696.50 L111.40,696.50 L111.64,696.50 L111.88,696.50 L112.12,696.50 L112.36,696.50 L112.60,696.50 L112.84,696.50 L113.07,696.50 L113.31,696.50 L113.55,696.50 L113.79,696.50 L114.03,696.50 L114.27,696.50 L114.51,696.50 L114.75,696.50 L114.99,696.50 L115.22,696.50 L115.46,696.50 L115.70,696.50 L115.94,696.50 L116.18,696.50 L116.42,696.50 L116.66,696.50 L116.90,696.50 L117.14,696.50 L117.37,696.50 L117.61,696.50 L117.85,696.50 L118.09,696.50 L118.33,696.50 L118.57,696.50 L118.81,696.50 L119.05,696.50 L119.29,696.50 L119.53,696.50 L119.76,696.50 L120.00,696.50 L120.24,696.50 L120.48,696.50 L120.72,696.50 L120.96,696.50 L121.20,696.50 L121.44,696.50 L121.68,696.50 L121.91,696.50 L122.15,696.50 L122.39,696.50 L122.63,696.50 L122.87,696.50 L123.11,696.50 L123.35,696.50 L123.59,696.50 L123.83,696.50 L124.06,696.50 L124.30,696.50 L124.54,696.50 L124.78,696.50 L125.02,696.50 L125.26,696.50 L125.50,696.50 L125.74,696.50 L125.98,696.50 L126.21,696.50 L126.45,696.50 L126.69,696.50 L126.93,696.50 L127.17,696.50 L127.41,696.50 L127.65,696.50 L127.89,696.50 L128.13,696.50 L128.36,696.50 L128.60,696.50 L128.84,696.50 L129.08,696.50 L129.32,696.50 L129.56,696.50 L129.80,696.50 L130.04,696.50 L130.28,696.50 L130.51,696.50 L130.75,696.50 L130.99,696.50 L131.23,696.50 L131.47,696.50 L131.71,696.50 L131.95,696.50 L132.19,696.50 L132.43,696.50 L132.66,696.50 L132.90,696.50 L133.14,696.50 L133.38,696.50 L133.62,696.50 L133.86,696.50 L134.10,696.50 L134.34,696.50 L134.58,696.50 L134.81,696.50 L135.05,696.50 L135.29,696.50 L135.53,696.50 L135.77,696.50 L136.01,696.50 L136.25,696.50 L136.49,696.50 L136.73,696.50 L136.96,696.50 L137.20,696.50 L137.44,696.50 L137.68,696.50 L137.92,696.50 L138.16,696.50 L138.40,696.50 L138.64,696.50 L138.88,696.50 L139.11,696.50 L139.35,696.50 L139.59,696.50 L139.83,696.50 L140.07,696.50 L140.31,696.50 L140.55,696.50 L140.79,696.50 L141.03,696.50 L141.26,696.50 L141.50,696.50 L141.74,696.50 L141.98,696.50 L142.22,696.50 L142.46,696.50 L142.70,696.50 L142.94,696.50 L143.18,696.50 L143.41,696.50 L143.65,696.50 L143.89,696.50 L144.13,696.50 L144.37,696.50 L144.61,696.50 L144.85,696.50 L145.09,696.50 L145.33,696.50 L145.57,696.50 L145.80,696.50 L146.04,696.50 L146.28,696.50 L146.52,696.50 L146.76,696.50 L147.00,696.50 L147.24,696.50 L147.48,696.50 L147.72,696.50 L147.95,696.50 L148.19,696.50 L148.43,696.50 L148.67,696.50 L148.91,696.50 L149.15,696.50 L149.39,696.50 L149.63,696.50 L149.87,696.50 L150.10,696.50 L150.34,696.50 L150.58,696.50 L150.82,696.50 L151.06,696.50 L151.30,696.50 L151.54,696.50 L151.78,696.50 L152.02,696.50 L152.25,696.50 L152.49,696.50 L152.73,696.50 L152.97,696.50 L153.21,696.50 L153.45,696.50 L153.69,696.50 L153.93,696.50 L154.17,696.50 L154.40,696.50 L154.64,696.50 L154.88,696.50 L155.12,696.50 L155.36,696.50 L155.60,696.50 L155.84,696.50 L156.08,696.50 L156.32,696.50 L156.55,696.50 L156.79,696.50 L157.03,696.50 L157.27,696.50 L157.51,696.50 L157.75,696.50 L157.99,696.50 L158.23,696.50 L158.47,696.50 L158.70,696.50 L158.94,696.50 L159.18,696.50 L159.42,696.50 L159.66,696.50 L159.90,696.50 L160.14,696.50 L160.38,696.50 L160.62,696.50 L160.85,696.50 L161.09,696.50 L161.33,696.50 L161.57,696.50 L161.81,696.50 L162.05,696.50 L162.29,696.50 L162.53,696.50 L162.77,696.50 L163.00,696.50 L163.24,696.50 L163.48,696.50 L163.72,696.50 L163.96,696.50 L164.20,696.50 L164.44,696.50 L164.68,696.50 L164.92,696.50 L165.15,696.50 L165.39,696.50 L165.63,696.50 L165.87,696.50 L166.11,696.50 L166.35,696.50 L166.59,696.50 L166.83,696.50 L167.07,696.50 L167.30,696.50 L167.54,696.50 L167.78,696.50 L168.02,696.50 L168.26,696.50 L168.50,696.50 L168.74,696.50 L168.98,696.50 L169.22,696.50 L169.45,696.50 L169.69,696.50 L169.93,696.50 L170.17,696.50 L170.41,696.50 L170.65,696.50 L170.89,696.50 L171.13,696.50 L171.37,696.50 L171.61,696.50 L171.84,696.50 L172.08,696.50 L172.32,696.50 L172.56,696.50 L172.80,696.50 L173.04,696.50 L173.28,696.50 L173.52,696.50 L173.76,696.50 L173.99,696.50 L174.23,696.50 L174.47,696.50 L174.71,696.50 L174.95,696.50 L175.19,696.50 L175.43,696.50 L175.67,696.50 L175.91,696.50 L176.14,696.50 L176.38,696.50 L176.62,696.50 L176.86,696.50 L177.10,696.50 L177.34,696.50 L177.58,696.50 L177.82,696.50 L178.06,696.50 L178.29,696.50 L178.53,696.50 L178.77,696.50 L179.01,696.50 L179.25,696.50 L179.49,696.50 L179.73,696.50 L179.97,696.50 L180.21,696.50 L180.44,696.50 L180.68,696.50 L180.92,696.50 L181.16,696.50 L181.40,696.50 L181.64,696.50 L181.88,696.50 L182.12,696.50 L182.36,696.50 L182.59,696.50 L182.83,696.50 L183.07,696.50 L183.31,696.50 L183.55,696.50 L183.79,696.50 L184.03,696.50 L184.27,696.50 L184.51,696.50 L184.74,696.50 L184.98,696.50 L185.22,696.50 L185.46,696.50 L185.70,696.50 L185.94,696.50 L186.18,696.50 L186.42,696.50 L186.66,696.50 L186.89,696.50 L187.13,696.50 L187.37,696.50 L187.61,696.50 L187.85,696.50 L188.09,696.50 L188.33,696.50 L188.57,696.50 L188.81,696.50 L189.04,696.50 L189.28,696.50 L189.52,696.50 L189.76,696.50 L190.00,696.50 L190.24,696.50 L190.48,696.50 L190.72,696.50 L190.96,696.50 L191.19,696.50 L191.43,696.50 L191.67,696.50 L191.91,696.50 L192.15,696.50 L192.39,696.50 L192.63,696.50 L192.87,696.50 L193.11,696.50 L193.34,696.50 L193.58,696.50 L193.82,696.50 L194.06,696.50 L194.30,696.50 L194.54,696.50 L194.78,696.50 L195.02,696.50 L195.26,696.50 L195.49,696.50 L195.73,696.50 L195.97,696.50 L196.21,696.50 L196.45,696.50 L196.69,696.50 L196.93,696.50 L197.17,696.50 L197.41,696.50 L197.65,696.50 L197.88,696.50 L198.12,696.50 L198.36,696.50 L198.60,696.50 L198.84,696.50 L199.08,696.50 L199.32,696.50 L199.56,696.50 L199.80,696.50 L200.03,696.50 L200.27,696.50 L200.51,696.50 L200.75,696.50 L200.99,696.50 L201.23,696.50 L201.47,696.50 L201.71,696.50 L201.95,696.50 L202.18,696.50 L202.42,696.50 L202.66,696.50 L202.90,696.50 L203.14,696.50 L203.38,696.50 L203.62,696.50 L203.86,696.50 L204.10,696.50 L204.33,696.50 L204.57,696.50 L204.81,696.50 L205.05,696.50 L205.29,696.50 L205.53,696.50 L205.77,696.50 L206.01,696.50 L206.25,696.50 L206.48,696.50 L206.72,696.50 L206.96,696.50 L207.20,696.50 L207.44,696.50 L207.68,696.50 L207.92,696.50 L208.16,696.50 L208.40,696.50 L208.63,696.50 L208.87,696.50 L209.11,696.50 L209.35,696.50 L209.59,696.50 L209.83,696.50 L210.07,696.50 L210.31,696.50 L210.55,696.50 L210.78,696.50 L211.02,696.50 L211.26,696.50 L211.50,696.50 L211.74,696.50 L211.98,696.50 L212.22,696.50 L212.46,696.50 L212.70,696.50 L212.93,696.50 L213.17,696.50 L213.41,696.50 L213.65,696.50 L213.89,696.50 L214.13,696.50 L214.37,696.50 L214.61,696.50 L214.85,696.50 L215.08,696.50 L215.32,696.50 L215.56,696.50 L215.80,696.50 L216.04,696.50 L216.28,696.50 L216.52,696.50 L216.76,696.50 L217.00,696.50 L217.23,696.50 L217.47,696.50 L217.71,696.50 L217.95,696.50 L218.19,696.50 L218.43,696.50 L218.67,696.50 L218.91,696.50 L219.15,696.50 L219.38,696.50 L219.62,696.50 L219.86,696.50 L220.10,696.50 L220.34,696.50 L220.58,696.50 L220.82,696.50 L221.06,696.50 L221.30,696.50 L221.54,696.50 L221.77,696.50 L222.01,696.50 L222.25,696.50 L222.49,696.50 L222.73,696.50 L222.97,696.50 L223.21,696.50 L223.45,696.50 L223.69,696.50 L223.92,696.50 L224.16,696.50 L224.40,696.50 L224.64,696.50 L224.88,696.50 L225.12,696.50 L225.36,696.50 L225.60,696.50 L225.84,696.50 L226.07,696.50 L226.31,696.50 L226.55,696.50 L226.79,696.50 L227.03,696.50 L227.27,696.50 L227.51,696.50 L227.75,696.50 L227.99,696.50 L228.22,696.50 L228.46,696.50 L228.70,696.50 L228.94,696.50 L229.18,696.50 L229.42,696.50 L229.66,696.50 L229.90,696.50 L230.14,696.50 L230.37,696.50 L230.61,696.50 L230.85,696.50 L231.09,696.50 L231.33,696.50 L231.57,696.50 L231.81,696.50 L232.05,696.50 L232.29,696.50 L232.52,696.50 L232.76,696.50 L233.00,696.50 L233.24,696.50 L233.48,696.50 L233.72,696.50 L233.96,696.50 L234.20,696.50 L234.44,696.50 L234.67,696.50 L234.91,696.50 L235.15,696.50 L235.39,696.50 L235.63,696.50 L235.87,696.50 L236.11,696.50 L236.35,696.50 L236.59,696.50 L236.82,696.50 L237.06,696.50 L237.30,696.50 L237.54,696.50 L237.78,696.50 L238.02,696.50 L238.26,696.50 L238.50,696.50 L238.74,696.50 L238.97,696.50 L239.21,696.50 L239.45,696.50 L239.69,696.50 L239.93,696.50 L240.17,696.50 L240.41,696.50 L240.65,696.50 L240.89,696.50 L241.12,696.50 L241.36,696.50 L241.60,696.50 L241.84,696.50 L242.08,696.50 L242.32,696.50 L242.56,696.50 L242.80,696.50 L243.04,696.50 L243.27,696.50 L243.51,696.50 L243.75,696.50 L243.99,696.50 L244.23,696.50 L244.47,696.50 L244.71,696.50 L244.95,696.50 L245.19,696.50 L245.42,696.50 L245.66,696.50 L245.90,696.50 L246.14,696.50 L246.38,696.50 L246.62,696.50 L246.86,696.50 L247.10,696.50 L247.34,696.50 L247.58,696.50 L247.81,696.50 L248.05,696.50 L248.29,696.50 L248.53,696.50 L248.77,696.50 L249.01,696.50 L249.25,696.50 L249.49,696.50 L249.73,696.50 L249.96,696.50 L250.20,696.50 L250.44,696.50 L250.68,696.50 L250.92,696.50 L251.16,696.27 L251.40,695.90 L251.64,695.53 L251.88,695.16 L252.11,694.79 L252.35,694.42 L252.59,694.05 L252.83,693.68 L253.07,693.31 L253.31,692.94 L253.55,692.57 L253.79,692.20 L254.03,691.83 L254.26,691.46 L254.50,691.09 L254.74,690.72 L254.98,690.35 L255.22,689.99 L255.46,689.62 L255.70,689.25 L255.94,688.88 L256.18,688.51 L256.41,688.14 L256.65,687.78 L256.89,687.41 L257.13,687.04 L257.37,686.67 L257.61,686.31 L257.85,685.94 L258.09,685.57 L258.33,685.21 L258.56,684.84 L258.80,684.47 L259.04,684.11 L259.28,683.74 L259.52,683.37 L259.76,683.01 L260.00,682.64 L260.24,682.28 L260.48,681.91 L260.71,681.55 L260.95,681.18 L261.19,680.82 L261.43,680.45 L261.67,680.09 L261.91,679.72 L262.15,679.36 L262.39,678.99 L262.63,678.63 L262.86,678.26 L263.10,677.90 L263.34,677.54 L263.58,677.17 L263.82,676.81 L264.06,676.45 L264.30,676.08 L264.54,675.72 L264.78,675.36 L265.01,674.99 L265.25,674.63 L265.49,674.27 L265.73,673.91 L265.97,673.54 L266.21,673.18 L266.45,672.82 L266.69,672.46 L266.93,672.10 L267.16,671.74 L267.40,671.38 L267.64,671.01 L267.88,670.65 L268.12,670.29 L268.36,669.93 L268.60,669.57 L268.84,669.21 L269.08,668.85 L269.31,668.49 L269.55,668.13 L269.79,667.77 L270.03,667.42 L270.27,667.06 L270.51,666.70 L270.75,666.34 L270.99,665.98 L271.23,665.62 L271.46,665.26 L271.70,664.91 L271.94,664.55 L272.18,664.19 L272.42,663.83 L272.66,663.48 L272.90,663.12 L273.14,662.76 L273.38,662.41 L273.62,662.05 L273.85,661.69 L274.09,661.34 L274.33,660.98 L274.57,660.63 L274.81,660.27 L275.05,659.92 L275.29,659.56 L275.53,659.21 L275.77,658.85 L276.00,658.50 L276.24,658.14 L276.48,657.79 L276.72,657.44 L276.96,657.08 L277.20,656.73 L277.44,656.38 L277.68,656.02 L277.92,655.67 L278.15,655.32 L278.39,654.97 L278.63,654.61 L278.87,654.26 L279.11,653.91 L279.35,653.56 L279.59,653.21 L279.83,652.86 L280.07,652.51 L280.30,652.16 L280.54,651.81 L280.78,651.46 L281.02,651.11 L281.26,650.76 L281.50,650.41 L281.74,650.06 L281.98,649.71 L282.22,649.36 L282.45,649.01 L282.69,648.67 L282.93,648.32 L283.17,647.97 L283.41,647.62 L283.65,647.28 L283.89,646.93 L284.13,646.58 L284.37,646.24 L284.60,645.89 L284.84,645.54 L285.08,645.20 L285.32,644.85 L285.56,644.51 L285.80,644.16 L286.04,643.82 L286.28,643.47 L286.52,643.13 L286.75,642.79 L286.99,642.44 L287.23,642.10 L287.47,641.76 L287.71,641.41 L287.95,641.07 L288.19,640.73 L288.43,640.39 L288.67,640.05 L288.90,639.70 L289.14,639.36 L289.38,639.02 L289.62,638.68 L289.86,638.34 L290.10,638.00 L290.34,637.66 L290.58,637.32 L290.82,636.98 L291.05,636.64 L291.29,636.31 L291.53,635.97 L291.77,635.63 L292.01,635.29 L292.25,634.96 L292.49,634.62 L292.73,634.28 L292.97,633.95 L293.20,633.61 L293.44,633.27 L293.68,632.94 L293.92,632.60 L294.16,632.27 L294.40,631.93 L294.64,631.60 L294.88,631.27 L295.12,630.93 L295.35,630.60 L295.59,630.27 L295.83,629.93 L296.07,629.60 L296.31,629.27 L296.55,628.94 L296.79,628.61 L297.03,628.28 L297.27,627.95 L297.51,627.62 L297.74,627.29 L297.98,626.96 L298.22,626.63 L298.46,626.30 L298.70,625.97 L298.94,625.64 L299.18,625.31 L299.42,624.99 L299.66,624.66 L299.89,624.33 L300.13,624.01 L300.37,623.68 L300.61,623.35 L300.85,623.03 L301.09,622.70 L301.33,622.38 L301.57,622.06 L301.81,621.73 L302.04,621.41 L302.28,621.09 L302.52,620.76 L302.76,620.44 L303.00,620.12 L303.24,619.80 L303.48,619.48 L303.72,619.16 L303.96,618.84 L304.19,618.52 L304.43,618.20 L304.67,617.88 L304.91,617.56 L305.15,617.24 L305.39,616.92 L305.63,616.61 L305.87,616.29 L306.11,615.97 L306.34,615.66 L306.58,615.34 L306.82,615.03 L307.06,614.71 L307.30,614.40 L307.54,614.08 L307.78,613.77 L308.02,613.46 L308.26,613.15 L308.49,612.83 L308.73,612.52 L308.97,612.21 L309.21,611.90 L309.45,611.59 L309.69,611.28 L309.93,610.97 L310.17,610.66 L310.41,610.35 L310.64,610.05 L310.88,609.74 L311.12,609.43 L311.36,609.12 L311.60,608.82 L311.84,608.51 L312.08,608.21 L312.32,607.90 L312.56,607.60 L312.79,607.30 L313.03,606.99 L313.27,606.69 L313.51,606.39 L313.75,606.09 L313.99,605.79 L314.23,605.48 L314.47,605.18 L314.71,604.89 L314.94,604.59 L315.18,604.29 L315.42,603.99 L315.66,603.69 L315.90,603.40 L316.14,603.10 L316.38,602.80 L316.62,602.51 L316.86,602.21 L317.09,601.92 L317.33,601.63 L317.57,601.33 L317.81,601.04 L318.05,600.75 L318.29,600.46 L318.53,600.17 L318.77,599.88 L319.01,599.59 L319.24,599.30 L319.48,599.01 L319.72,598.72 L319.96,598.44 L320.20,598.15 L320.44,597.86 L320.68,597.58 L320.92,597.29 L321.16,597.01 L321.39,596.73 L321.63,596.44 L321.87,596.16 L322.11,595.88 L322.35,595.60 L322.59,595.32 L322.83,595.04 L323.07,594.76 L323.31,594.48 L323.55,594.21 L323.78,593.93 L324.02,593.65 L324.26,593.38 L324.50,593.10 L324.74,592.83 L324.98,592.55 L325.22,592.28 L325.46,592.01 L325.70,591.74 L325.93,591.47 L326.17,591.20 L326.41,590.93 L326.65,590.66 L326.89,590.39 L327.13,590.12 L327.37,589.86 L327.61,589.59 L327.85,589.33 L328.08,589.06 L328.32,588.80 L328.56,588.54 L328.80,588.27 L329.04,588.01 L329.28,587.75 L329.52,587.49 L329.76,587.23 L330.00,586.97 L330.23,586.72 L330.47,586.46 L330.71,586.21 L330.95,585.95 L331.19,585.70 L331.43,585.44 L331.67,585.19 L331.91,584.94 L332.15,584.69 L332.38,584.44 L332.62,584.19 L332.86,583.94 L333.10,583.69 L333.34,583.45 L333.58,583.20 L333.82,582.96 L334.06,582.71 L334.30,582.47 L334.53,582.23 L334.77,581.99 L335.01,581.75 L335.25,581.51 L335.49,581.27 L335.73,581.03 L335.97,580.79 L336.21,580.56 L336.45,580.32 L336.68,580.09 L336.92,579.86 L337.16,579.62 L337.40,579.39 L337.64,579.16 L337.88,578.93 L338.12,578.70 L338.36,578.48 L338.60,578.25 L338.83,578.03 L339.07,577.80 L339.31,577.58 L339.55,577.36 L339.79,577.14 L340.03,576.92 L340.27,576.70 L340.51,576.48 L340.75,576.26 L340.98,576.05 L341.22,575.83 L341.46,575.62 L341.70,575.41 L341.94,575.20 L342.18,574.99 L342.42,574.78 L342.66,574.57 L342.90,574.36 L343.13,574.16 L343.37,573.95 L343.61,573.75 L343.85,573.55 L344.09,573.34 L344.33,573.14 L344.57,572.95 L344.81,572.75 L345.05,572.55 L345.28,572.36 L345.52,572.16 L345.76,571.97 L346.00,571.78 L346.24,571.59 L346.48,571.40 L346.72,571.21 L346.96,571.03 L347.20,570.84 L347.43,570.66 L347.67,570.48 L347.91,570.29 L348.15,570.11 L348.39,569.94 L348.63,569.76 L348.87,569.58 L349.11,569.41 L349.35,569.24 L349.59,569.07 L349.82,568.90 L350.06,568.73 L350.30,568.56 L350.54,568.39 L350.78,568.23 L351.02,568.07 L351.26,567.91 L351.50,567.75 L351.74,567.59 L351.97,567.43 L352.21,567.27 L352.45,567.12 L352.69,566.97 L352.93,566.82 L353.17,566.67 L353.41,566.52 L353.65,566.38 L353.89,566.23 L354.12,566.09 L354.36,565.95 L354.60,565.81 L354.84,565.67 L355.08,565.53 L355.32,565.40 L355.56,565.27 L355.80,565.14 L356.04,565.01 L356.27,564.88 L356.51,564.75 L356.75,564.63 L356.99,564.51 L357.23,564.39 L357.47,564.27 L357.71,564.15 L357.95,564.04 L358.19,563.92 L358.42,563.81 L358.66,563.70 L358.90,563.60 L359.14,563.49 L359.38,563.39 L359.62,563.29 L359.86,563.19 L360.10,563.09 L360.34,562.99 L360.57,562.90 L360.81,562.81 L361.05,562.72 L361.29,562.63 L361.53,562.55 L361.77,562.47 L362.01,562.39 L362.25,562.31 L362.49,562.23 L362.72,562.16 L362.96,562.08 L363.20,562.02 L363.44,561.95 L363.68,561.88 L363.92,561.82 L364.16,561.76 L364.40,561.70 L364.64,561.65 L364.87,561.59 L365.11,561.54 L365.35,561.49 L365.59,561.45 L365.83,561.40 L366.07,561.36 L366.31,561.33 L366.55,561.29 L366.79,561.26 L367.02,561.23 L367.26,561.20 L367.50,561.17 L367.74,561.15 L367.98,561.13 L368.22,561.12 L368.46,561.10 L368.70,561.09 L368.94,561.08 L369.17,561.08 L369.41,561.07 L369.65,561.07 L369.89,561.08 L370.13,561.08 L370.37,561.09 L370.61,561.11 L370.85,561.12 L371.09,561.14 L371.32,561.16 L371.56,561.19 L371.80,561.22 L372.04,561.25 L372.28,561.28 L372.52,561.32 L372.76,561.36 L373.00,561.41 L373.24,561.46 L373.47,561.51 L373.71,561.57 L373.95,561.63 L374.19,561.69 L374.43,561.76 L374.67,561.83 L374.91,561.90 L375.15,561.98 L375.39,562.06 L375.63,562.15 L375.86,562.24 L376.10,562.33 L376.34,562.43 L376.58,562.53 L376.82,562.64 L377.06,562.75 L377.30,562.87 L377.54,562.99 L377.78,563.11 L378.01,563.24 L378.25,563.37 L378.49,563.51 L378.73,563.65 L378.97,563.80 L379.21,563.95 L379.45,564.11 L379.69,564.27 L379.93,564.44 L380.16,564.61 L380.40,564.79 L380.64,564.97 L380.88,565.16 L381.12,565.35 L381.36,565.55 L381.60,565.75 L381.84,565.96 L382.08,566.18 L382.31,566.40 L382.55,566.63 L382.79,566.86 L383.03,567.10 L383.27,567.34 L383.51,567.60 L383.75,567.85 L383.99,568.12 L384.23,568.39 L384.46,568.67 L384.70,568.95 L384.94,569.25 L385.18,569.55 L385.42,569.85 L385.66,570.17 L385.90,570.49 L386.14,570.82 L386.38,571.16 L386.61,571.50 L386.85,571.86 L387.09,572.22 L387.33,572.59 L387.57,572.97 L387.81,573.35 L388.05,573.75 L388.29,574.16 L388.53,574.57 L388.76,575.00 L389.00,575.43 L389.24,575.88 L389.48,576.33 L389.72,576.80 L389.96,577.28 L390.20,577.76 L390.44,578.26 L390.68,578.77 L390.91,579.30 L391.15,579.83 L391.39,580.38 L391.63,580.94 L391.87,581.51 L392.11,582.10 L392.35,582.70 L392.59,583.31 L392.83,583.94 L393.06,584.59 L393.30,585.25 L393.54,585.93 L393.78,586.62 L394.02,587.33 L394.26,588.06 L394.50,588.80 L394.74,589.57 L394.98,590.35 L395.21,591.16 L395.45,591.98 L395.69,592.83 L395.93,593.70 L396.17,594.59 L396.41,595.51 L396.65,596.45 L396.89,597.42 L397.13,598.41 L397.36,599.43 L397.60,600.49 L397.84,601.57 L398.08,602.69 L398.32,603.84 L398.56,605.02 L398.80,606.25 L399.04,607.51 L399.28,608.82 L399.52,610.16 L399.75,611.56 L399.99,613.00 L400.23,614.50 L400.47,616.05 L400.71,617.66 L400.95,619.33 L401.19,621.07 L401.43,622.88 L401.67,624.77 L401.90,626.74 L402.14,628.80 L402.38,630.97 L402.62,633.24 L402.86,635.62 L403.10,638.14 L403.34,640.80 L403.58,643.62 L403.82,646.62 L404.05,649.83 L404.29,653.26 L404.53,656.96 L404.77,660.96 L405.01,665.32 L405.25,670.12 L405.49,675.43 L405.73,681.39 L405.97,688.17 L406.20,696.03 L406.44,696.50 L406.68,696.50 L406.92,696.50 L407.16,696.50 L407.40,696.50 L407.64,696.50 L407.88,696.50 L408.12,696.50 L408.35,696.50 L408.59,696.50 L408.83,696.50 L409.07,693.56 L409.31,686.06 L409.55,679.55 L409.79,673.80 L410.03,668.66 L410.27,664.00 L410.50,659.76 L410.74,655.86 L410.98,652.25 L411.22,648.90 L411.46,645.76 L411.70,642.83 L411.94,640.07 L412.18,637.46 L412.42,635.00 L412.65,632.67 L412.89,630.45 L413.13,628.33 L413.37,626.32 L413.61,624.39 L413.85,622.55 L414.09,620.79 L414.33,619.10 L414.57,617.48 L414.80,615.92 L415.04,614.42 L415.28,612.98 L415.52,611.59 L415.76,610.25 L416.00,608.96 L416.24,607.72 L416.48,606.52 L416.72,605.36 L416.95,604.24 L417.19,603.16 L417.43,602.12 L417.67,601.11 L417.91,600.14 L418.15,599.20 L418.39,598.29 L418.63,597.41 L418.87,596.56 L419.10,595.74 L419.34,594.94 L419.58,594.18 L419.82,593.44 L420.06,592.73 L420.30,592.04 L420.54,591.37 L420.78,590.73 L421.02,590.12 L421.25,589.52 L421.49,588.95 L421.73,588.40 L421.97,587.87 L422.21,587.37 L422.45,586.88 L422.69,586.42 L422.93,585.98 L423.17,585.55 L423.40,585.15 L423.64,584.77 L423.88,584.40 L424.12,584.06 L424.36,583.73 L424.60,583.42 L424.84,583.14 L425.08,582.87 L425.32,582.62 L425.56,582.39 L425.79,582.17 L426.03,581.98 L426.27,581.80 L426.51,581.65 L426.75,581.51 L426.99,581.39 L427.23,581.29 L427.47,581.20 L427.71,581.14 L427.94,581.09 L428.18,581.06 L428.42,581.06 L428.66,581.07 L428.90,581.10 L429.14,581.14 L429.38,581.21 L429.62,581.30 L429.86,581.41 L430.09,581.53 L430.33,581.68 L430.57,581.85 L430.81,582.04 L431.05,582.25 L431.29,582.48 L431.53,582.73 L431.77,583.00 L432.01,583.30 L432.24,583.62 L432.48,583.96 L432.72,584.33 L432.96,584.71 L433.20,585.13 L433.44,585.57 L433.68,586.03 L433.92,586.52 L434.16,587.04 L434.39,587.58 L434.63,588.16 L434.87,588.76 L435.11,589.39 L435.35,590.05 L435.59,590.75 L435.83,591.48 L436.07,592.24 L436.31,593.04 L436.54,593.87 L436.78,594.74 L437.02,595.65 L437.26,596.60 L437.50,597.59" fill="none" stroke="#fbbd00" stroke-width="1.6" clip-path="url(#clipd)"/>
<circle cx="281.10" cy="652.10" r="1.25" fill="#111"/>
<circle cx="288.50" cy="640.10" r="1.25" fill="#111"/>
<circle cx="296.00" cy="627.70" r="1.25" fill="#111"/>
<circle cx="303.20" cy="615.80" r="1.25" fill="#111"/>
<circle cx="310.40" cy="603.60" r="1.25" fill="#111"/>
<circle cx="317.90" cy="592.30" r="1.25" fill="#111"/>
<circle cx="324.20" cy="581.00" r="1.25" fill="#111"/>
<circle cx="331.00" cy="569.80" r="1.25" fill="#111"/>
<circle cx="337.70" cy="558.80" r="1.25" fill="#111"/>
<circle cx="344.60" cy="547.60" r="1.25" fill="#111"/>
<circle cx="351.60" cy="536.00" r="1.25" fill="#111"/>
<circle cx="358.90" cy="524.00" r="1.25" fill="#111"/>
<circle cx="365.10" cy="513.80" r="1.25" fill="#111"/>
<line x1="259.2" y1="637.5" x2="259.2" y2="656" stroke="#fccf3c" stroke-width="1.3" stroke-opacity="0.8"/>
<line x1="256.7" y1="637.5" x2="261.7" y2="637.5" stroke="#fccf3c" stroke-width="1.5"/>
<line x1="256.7" y1="656" x2="261.7" y2="656" stroke="#fccf3c" stroke-width="1.5"/>
<line x1="285.6" y1="617.6" x2="285.6" y2="646.2" stroke="#fccf3c" stroke-width="1.3" stroke-opacity="0.8"/>
<line x1="283.1" y1="617.6" x2="288.1" y2="617.6" stroke="#fccf3c" stroke-width="1.5"/>
<line x1="283.1" y1="646.2" x2="288.1" y2="646.2" stroke="#fccf3c" stroke-width="1.5"/>
<line x1="311.8" y1="596.1" x2="311.8" y2="618.2" stroke="#fccf3c" stroke-width="1.3" stroke-opacity="0.8"/>
<line x1="309.3" y1="596.1" x2="314.3" y2="596.1" stroke="#fccf3c" stroke-width="1.5"/>
<line x1="309.3" y1="618.2" x2="314.3" y2="618.2" stroke="#fccf3c" stroke-width="1.5"/>
<line x1="338.9" y1="571.8" x2="338.9" y2="586.1" stroke="#fccf3c" stroke-width="1.3" stroke-opacity="0.8"/>
<line x1="336.4" y1="571.8" x2="341.4" y2="571.8" stroke="#fccf3c" stroke-width="1.5"/>
<line x1="336.4" y1="586.1" x2="341.4" y2="586.1" stroke="#fccf3c" stroke-width="1.5"/>
<line x1="363.9" y1="570.8" x2="363.9" y2="589.2" stroke="#fccf3c" stroke-width="1.3" stroke-opacity="0.8"/>
<line x1="361.4" y1="570.8" x2="366.4" y2="570.8" stroke="#fccf3c" stroke-width="1.5"/>
<line x1="361.4" y1="589.2" x2="366.4" y2="589.2" stroke="#fccf3c" stroke-width="1.5"/>
<line x1="390.5" y1="566.7" x2="390.5" y2="577.7" stroke="#fccf3c" stroke-width="1.3" stroke-opacity="0.8"/>
<line x1="388.0" y1="566.7" x2="393.0" y2="566.7" stroke="#fccf3c" stroke-width="1.5"/>
<line x1="388.0" y1="577.7" x2="393.0" y2="577.7" stroke="#fccf3c" stroke-width="1.5"/>
<line x1="416.7" y1="605.8" x2="416.7" y2="631.0" stroke="#fccf3c" stroke-width="1.3" stroke-opacity="0.8"/>
<line x1="414.2" y1="605.8" x2="419.2" y2="605.8" stroke="#fccf3c" stroke-width="1.5"/>
<line x1="414.2" y1="631.0" x2="419.2" y2="631.0" stroke="#fccf3c" stroke-width="1.5"/>
<rect x="281.6" y="623.7" width="8.0" height="8.0" fill="#fbbd00"/>
<rect x="307.8" y="601.1" width="8.0" height="8.0" fill="#fbbd00"/>
<rect x="334.9" y="573.7" width="8.0" height="8.0" fill="#fbbd00"/>
<rect x="359.9" y="574.2" width="8.0" height="8.0" fill="#fbbd00"/>
<rect x="386.5" y="567.8" width="8.0" height="8.0" fill="#fbbd00"/>
<rect x="412.7" y="627.8" width="8.0" height="8.0" fill="#fbbd00"/>
<rect x="255" y="651" width="8" height="5.3" fill="#fbbd00"/>
<text x="100.0" y="169.5" font-size="15" fill="#111">P<tspan font-size="11" dy="4">in</tspan><tspan dy="-4"> = 1 fW</tspan></text>
<line x1="130.6" y1="175" x2="130.6" y2="190" stroke="#000" stroke-width="1.5"/>
<path d="M127.8,187.8 L130.6,189.3 L133.4,187.8 L130.6,197 Z" fill="#000"/>
<text x="223.7" y="169.5" font-size="15" fill="#111">P<tspan font-size="11" dy="4">in</tspan><tspan dy="-4"> = 100 fW</tspan></text>
<line x1="285.8" y1="175" x2="285.8" y2="190" stroke="#000" stroke-width="1.5"/>
<path d="M283.0,187.8 L285.8,189.3 L288.6,187.8 L285.8,197 Z" fill="#000"/>
<text transform="translate(82.4,103.7) scale(1.0,1)" font-family="Liberation Serif" font-weight="bold" font-style="italic" font-size="18.6" fill="#2c1a55">E</text>
<rect x="100.0" y="95.64999999999999" width="11.200000000000003" height="1.9" fill="#2c1a55"/>
<rect x="100.0" y="99.64999999999999" width="11.200000000000003" height="1.9" fill="#2c1a55"/>
<text transform="translate(118.0,103.7) scale(1.14,1)" font-family="Liberation Serif" font-weight="bold" font-size="18.2" fill="#2c1a55">0</text>
<text transform="translate(74.3,228.3) scale(1.0,1)" font-family="Liberation Serif" font-weight="bold" font-style="italic" font-size="18.6" fill="#680a8c">E</text>
<rect x="92.1" y="220.25" width="12.0" height="1.9" fill="#680a8c"/>
<rect x="92.1" y="224.05" width="12.0" height="1.9" fill="#680a8c"/>
<text transform="translate(111.0,228.3) scale(1.0,1)" font-family="Liberation Serif" font-weight="bold" font-style="italic" font-size="19" fill="#680a8c">&#295;</text>
<text transform="translate(122.0,228.3) scale(1.0,1)" font-family="Liberation Serif" font-weight="bold" font-style="italic" font-size="18.6" fill="#680a8c">&#969;</text>
<text transform="translate(135.5,231.9) scale(1.0,1)" font-family="Liberation Serif" font-weight="bold" font-style="italic" font-size="16.5" fill="#680a8c">r</text>
<text transform="translate(76.9,380.6) scale(1.0,1)" font-family="Liberation Serif" font-weight="bold" font-style="italic" font-size="18.6" fill="#e8704e">E</text>
<rect x="94.0" y="372.35" width="12.400000000000006" height="1.9" fill="#e8704e"/>
<rect x="94.0" y="376.25" width="12.400000000000006" height="1.9" fill="#e8704e"/>
<text transform="translate(112.4,380.6) scale(1.1,1)" font-family="Liberation Serif" font-weight="bold" font-size="18.2" fill="#e8704e">2</text>
<text transform="translate(123.7,380.6) scale(1.0,1)" font-family="Liberation Serif" font-weight="bold" font-style="italic" font-size="19" fill="#e8704e">&#295;</text>
<text transform="translate(135.1,380.6) scale(1.0,1)" font-family="Liberation Serif" font-weight="bold" font-style="italic" font-size="18.6" fill="#e8704e">&#969;</text>
<text transform="translate(148.1,384.20000000000005) scale(1.0,1)" font-family="Liberation Serif" font-weight="bold" font-style="italic" font-size="16.5" fill="#e8704e">r</text>
<text transform="translate(72.9,527.8) scale(1.0,1)" font-family="Liberation Serif" font-weight="bold" font-style="italic" font-size="18.6" fill="#e0a300">E</text>
<rect x="90.6" y="519.4499999999999" width="11.800000000000011" height="1.9" fill="#e0a300"/>
<rect x="90.6" y="523.4499999999999" width="11.800000000000011" height="1.9" fill="#e0a300"/>
<text transform="translate(109.0,527.8) scale(1.1,1)" font-family="Liberation Serif" font-weight="bold" font-size="18.2" fill="#e0a300">3</text>
<text transform="translate(121.0,527.8) scale(1.0,1)" font-family="Liberation Serif" font-weight="bold" font-style="italic" font-size="19" fill="#e0a300">&#295;</text>
<text transform="translate(132.1,527.8) scale(1.0,1)" font-family="Liberation Serif" font-weight="bold" font-style="italic" font-size="18.6" fill="#e0a300">&#969;</text>
<text transform="translate(145.6,531.4) scale(1.0,1)" font-family="Liberation Serif" font-weight="bold" font-style="italic" font-size="16.5" fill="#e0a300">r</text>
<rect x="84.8" y="272.0" width="13.3" height="22.30000000000001" fill="#ffd966" stroke="#ffc82a" stroke-width="0.9"/>
<rect x="142.70000000000002" y="272.0" width="14.0" height="22.30000000000001" fill="#ffd966" stroke="#ffc82a" stroke-width="0.9"/>
<line x1="102.5" y1="293.7" x2="118.4" y2="293.7" stroke="#000" stroke-width="1.5"/>
<line x1="122.80000000000001" y1="293.7" x2="138.3" y2="293.7" stroke="#000" stroke-width="1.5"/>
<rect x="98.5" y="247.1" width="3.6000000000000005" height="46.800000000000026" fill="#a3a3a3" stroke="#4a4a4a" stroke-width="0.8"/>
<rect x="118.80000000000001" y="247.1" width="3.6000000000000005" height="46.800000000000026" fill="#a3a3a3" stroke="#4a4a4a" stroke-width="0.8"/>
<rect x="138.70000000000002" y="247.1" width="3.6000000000000005" height="46.800000000000026" fill="#a3a3a3" stroke="#4a4a4a" stroke-width="0.8"/>
<line x1="104.9" y1="276.1" x2="110.7" y2="276.1" stroke="#000" stroke-width="1.6"/>
<line x1="132.0" y1="267.1" x2="136.2" y2="267.1" stroke="#000" stroke-width="1.6"/>
<path d="M110.7,276.1 L114.2,276.1 C120.55000000000001,276.1 117.55000000000001,267.40000000000003 126.9,267.40000000000003" fill="none" stroke="#ff0000" stroke-width="1.7"/>
<path d="M132.3,267.1 L126.4,264.1 L126.4,270.1 Z" fill="#ff0000"/>
<path d="M92.80,251.70 L92.85,251.74 L92.90,251.77 L92.95,251.81 L93.00,251.84 L93.05,251.88 L93.09,251.92 L93.14,251.95 L93.19,251.99 L93.24,252.03 L93.29,252.06 L93.34,252.10 L93.39,252.13 L93.44,252.17 L93.49,252.21 L93.54,252.24 L93.58,252.28 L93.63,252.31 L93.68,252.35 L93.73,252.39 L93.78,252.42 L93.83,252.46 L93.88,252.50 L93.93,252.53 L93.98,252.57 L94.03,252.60 L94.08,252.64 L94.12,252.68 L94.17,252.71 L94.22,252.75 L94.27,252.79 L94.32,252.82 L94.37,252.86 L94.42,252.89 L94.47,252.93 L94.52,252.97 L94.57,253.00 L94.62,253.04 L94.66,253.07 L94.71,253.11 L94.76,253.15 L94.81,253.18 L94.86,253.22 L94.91,253.26 L94.96,253.29 L95.01,253.33 L95.06,253.36 L95.11,253.40 L95.15,253.44 L95.20,253.47 L95.25,253.51 L95.30,253.54 L95.35,253.58 L95.40,253.62 L95.45,253.65 L95.50,253.69 L95.55,253.73 L95.60,253.76 L95.65,253.80 L95.69,253.83 L95.74,253.87 L95.79,253.91 L95.84,253.94 L95.89,253.98 L95.94,254.02 L95.99,254.05 L96.04,254.09 L96.09,254.12 L96.14,254.16 L96.19,254.20 L96.23,254.23 L96.28,254.27 L96.33,254.30 L96.38,254.34 L96.43,254.38 L96.48,254.41 L96.53,254.45 L96.58,254.49 L96.63,254.52 L96.68,254.56 L96.72,254.59 L96.77,254.63 L96.82,254.67 L96.87,254.70 L96.92,254.74 L96.97,254.77 L97.02,254.81 L97.07,254.85 L97.12,254.88 L97.17,254.92 L97.22,254.96 L97.26,254.99 L97.31,255.03 L97.36,255.06 L97.41,255.10 L97.46,255.14 L97.51,255.17 L97.56,255.21 L97.61,255.24 L97.66,255.28 L97.71,255.32 L97.76,255.35 L97.80,255.39 L97.85,255.43 L97.90,255.46 L97.95,255.50 L98.00,255.54 L97.99,255.65 L97.97,255.78 L97.93,255.94 L97.88,256.11 L97.82,256.29 L97.76,256.47 L97.70,256.66 L97.64,256.84 L97.59,257.02 L97.54,257.19 L97.49,257.35 L97.46,257.50 L97.44,257.64 L97.42,257.75 L97.43,257.85 L97.44,257.93 L97.47,257.99 L97.52,258.03 L97.58,258.05 L97.66,258.04 L97.76,258.02 L97.87,257.96 L98.00,257.89 L98.15,257.80 L98.31,257.69 L98.48,257.55 L98.67,257.40 L98.86,257.24 L99.07,257.06 L99.28,256.87 L99.51,256.68 L99.73,256.47 L99.96,256.27 L100.19,256.06 L100.41,255.86 L100.64,255.66 L100.85,255.47 L101.06,255.28 L101.26,255.12 L101.45,254.96 L101.63,254.83 L101.79,254.71 L101.93,254.62 L102.06,254.55 L102.17,254.50 L102.26,254.48 L102.33,254.49 L102.38,254.53 L102.40,254.60 L102.41,254.69 L102.39,254.81 L102.36,254.97 L102.30,255.14 L102.23,255.35 L102.14,255.57 L102.03,255.82 L101.90,256.09 L101.77,256.38 L101.62,256.69 L101.46,257.01 L101.29,257.33 L101.12,257.67 L100.95,258.01 L100.77,258.35 L100.60,258.69 L100.43,259.02 L100.27,259.34 L100.11,259.65 L99.97,259.95 L99.84,260.23 L99.72,260.49 L99.62,260.73 L99.54,260.94 L99.48,261.13 L99.44,261.29 L99.42,261.41 L99.43,261.51 L99.46,261.57 L99.51,261.60 L99.59,261.60 L99.69,261.56 L99.81,261.50 L99.96,261.40 L100.13,261.27 L100.33,261.11 L100.54,260.93 L100.77,260.72 L101.01,260.49 L101.27,260.24 L101.54,259.98 L101.82,259.70 L102.11,259.41 L102.41,259.11 L102.71,258.81 L103.00,258.51 L103.30,258.21 L103.59,257.92 L103.87,257.64 L104.14,257.37 L104.40,257.12 L104.65,256.89 L104.88,256.69 L105.09,256.50 L105.28,256.35 L105.44,256.22 L105.59,256.13 L105.71,256.07 L105.81,256.04 L105.88,256.04 L105.92,256.09 L105.94,256.16 L105.94,256.27 L105.91,256.42 L105.85,256.59 L105.78,256.80 L105.68,257.04 L105.56,257.31 L105.42,257.60 L105.26,257.91 L105.09,258.24 L104.91,258.59 L104.72,258.96 L104.52,259.33 L104.31,259.71 L104.11,260.09 L103.90,260.48 L103.70,260.86 L103.50,261.23 L103.31,261.59 L103.13,261.93 L102.96,262.26 L102.81,262.57 L102.67,262.86 L102.56,263.12 L102.46,263.35 L102.39,263.55 L102.34,263.72 L102.31,263.86 L102.31,263.96 L102.34,264.03 L102.39,264.06 L102.47,264.06 L102.57,264.03 L102.70,263.96 L102.85,263.86 L103.02,263.72 L103.21,263.56 L103.43,263.38 L103.66,263.16 L103.91,262.93 L104.17,262.67 L104.45,262.40 L104.73,262.12 L105.02,261.83 L105.32,261.53 L105.61,261.23 L105.91,260.93 L106.20,260.64 L106.49,260.35 L106.77,260.07 L107.04,259.81 L107.30,259.56 L107.54,259.34 L107.77,259.13 L107.97,258.96 L108.16,258.81 L108.33,258.68 L108.47,258.59 L108.59,258.53 L108.69,258.50 L108.76,258.51 L108.81,258.54 L108.83,258.61 L108.83,258.72 L108.81,258.85 L108.76,259.01 L108.70,259.20 L108.61,259.42 L108.51,259.66 L108.39,259.93 L108.26,260.21 L108.11,260.51 L107.95,260.83 L107.79,261.16 L107.62,261.49 L107.45,261.83 L107.27,262.17 L107.10,262.51 L106.93,262.84 L106.76,263.17 L106.61,263.48 L106.46,263.78 L106.32,264.07 L106.20,264.33 L106.10,264.58 L106.01,264.80 L105.94,265.00 L105.89,265.17 L105.86,265.32 L105.85,265.43 L105.86,265.52 L105.89,265.58 L105.94,265.61 L106.02,265.62 L106.11,265.59 L106.22,265.54 L106.35,265.47 L106.50,265.37 L106.67,265.25 L106.84,265.11 L107.04,264.95 L107.24,264.78 L107.45,264.60 L107.67,264.40 L107.89,264.20 L108.12,264.00 L108.35,263.79 L108.57,263.59 L108.80,263.38 L109.02,263.19 L109.23,263.00 L109.44,262.83 L109.63,262.67 L109.81,262.52 L109.98,262.39 L110.14,262.28 L110.28,262.19 L110.41,262.13 L110.52,262.08 L110.61,262.06 L110.69,262.06 L110.75,262.08 L110.79,262.12 L110.82,262.18 L110.83,262.27 L110.83,262.37 L110.82,262.50 L110.79,262.63 L110.75,262.78 L110.71,262.95 L110.66,263.12 L110.60,263.30 L110.54,263.48 L110.48,263.67 L110.42,263.85 L110.37,264.03 L110.32,264.20 L110.28,264.35 L110.26,264.48 L110.27,264.58 L110.31,264.61 L110.36,264.65 L110.41,264.69 L110.46,264.72 L110.51,264.76 L110.56,264.79 L110.61,264.83 L110.66,264.87 L110.71,264.90 L110.76,264.94 L110.81,264.98 L110.85,265.01 L110.90,265.05 L110.95,265.08 L111.00,265.12 L111.05,265.16 L111.10,265.19 L111.15,265.23 L111.20,265.26 L111.25,265.30 L111.30,265.34 L111.35,265.37 L111.39,265.41 L111.44,265.45 L111.49,265.48 L111.54,265.52 L111.59,265.55 L111.64,265.59 L111.69,265.63 L111.74,265.66 L111.79,265.70 L111.84,265.73 L111.88,265.77 L111.93,265.81 L111.98,265.84 L112.03,265.88 L112.08,265.92 L112.13,265.95 L112.18,265.99 L112.23,266.02 L112.28,266.06 L112.33,266.10 L112.38,266.13" fill="none" stroke="#d030d0" stroke-width="1.25" stroke-linejoin="round"/>
<path d="M116.40,269.10 L110.89,268.15 L113.02,266.61 L113.86,264.12 Z" fill="#d030d0"/>
<rect x="85.7" y="454.6" width="13.3" height="23.099999999999966" fill="#ffd966" stroke="#ffc82a" stroke-width="0.9"/>
<rect x="143.6" y="454.6" width="14.0" height="23.099999999999966" fill="#ffd966" stroke="#ffc82a" stroke-width="0.9"/>
<line x1="103.4" y1="477.09999999999997" x2="119.3" y2="477.09999999999997" stroke="#000" stroke-width="1.5"/>
<line x1="123.7" y1="477.09999999999997" x2="139.2" y2="477.09999999999997" stroke="#000" stroke-width="1.5"/>
<rect x="99.4" y="430.5" width="3.6000000000000005" height="46.79999999999997" fill="#a3a3a3" stroke="#4a4a4a" stroke-width="0.8"/>
<rect x="119.7" y="430.5" width="3.6000000000000005" height="46.79999999999997" fill="#a3a3a3" stroke="#4a4a4a" stroke-width="0.8"/>
<rect x="139.6" y="430.5" width="3.6000000000000005" height="46.79999999999997" fill="#a3a3a3" stroke="#4a4a4a" stroke-width="0.8"/>
<line x1="105.3" y1="462.4" x2="111.1" y2="462.4" stroke="#000" stroke-width="1.6"/>
<line x1="133.20000000000002" y1="445.2" x2="137.4" y2="445.2" stroke="#000" stroke-width="1.6"/>
<path d="M111.1,462.4 L114.6,462.4 C121.35000000000001,462.4 118.35000000000001,445.5 128.10000000000002,445.5" fill="none" stroke="#ff0000" stroke-width="1.7"/>
<path d="M133.50000000000003,445.2 L127.60000000000002,442.2 L127.60000000000002,448.2 Z" fill="#ff0000"/>
<path d="M85.10,437.30 L85.15,437.34 L85.20,437.37 L85.25,437.41 L85.30,437.44 L85.35,437.48 L85.40,437.51 L85.45,437.55 L85.50,437.58 L85.55,437.62 L85.59,437.65 L85.64,437.69 L85.69,437.72 L85.74,437.76 L85.79,437.79 L85.84,437.83 L85.89,437.87 L85.94,437.90 L85.99,437.94 L86.04,437.97 L86.09,438.01 L86.14,438.04 L86.19,438.08 L86.24,438.11 L86.29,438.15 L86.34,438.18 L86.39,438.22 L86.44,438.25 L86.48,438.29 L86.53,438.32 L86.58,438.36 L86.63,438.40 L86.68,438.43 L86.73,438.47 L86.78,438.50 L86.83,438.54 L86.88,438.57 L86.93,438.61 L86.98,438.64 L87.03,438.68 L87.08,438.71 L87.13,438.75 L87.18,438.78 L87.23,438.82 L87.28,438.85 L87.33,438.89 L87.37,438.92 L87.42,438.96 L87.47,439.00 L87.52,439.03 L87.57,439.07 L87.62,439.10 L87.67,439.14 L87.72,439.17 L87.77,439.21 L87.82,439.24 L87.87,439.28 L87.92,439.31 L87.97,439.35 L88.02,439.38 L88.07,439.42 L88.12,439.45 L88.17,439.49 L88.22,439.53 L88.26,439.56 L88.31,439.60 L88.36,439.63 L88.41,439.67 L88.46,439.70 L88.51,439.74 L88.56,439.77 L88.61,439.81 L88.66,439.84 L88.71,439.88 L88.76,439.91 L88.81,439.95 L88.86,439.98 L88.91,440.02 L88.96,440.06 L89.01,440.09 L89.06,440.13 L89.11,440.16 L89.16,440.20 L89.20,440.23 L89.25,440.27 L89.30,440.30 L89.35,440.34 L89.40,440.37 L89.45,440.41 L89.50,440.44 L89.55,440.48 L89.60,440.51 L89.65,440.55 L89.70,440.59 L89.75,440.62 L89.80,440.66 L89.85,440.69 L89.90,440.73 L89.95,440.76 L90.00,440.80 L90.05,440.83 L90.09,440.87 L90.14,440.90 L90.19,440.94 L90.24,440.97 L90.29,441.01 L90.34,441.05 L90.34,441.15 L90.32,441.29 L90.28,441.45 L90.23,441.62 L90.18,441.79 L90.12,441.98 L90.06,442.16 L90.01,442.35 L89.95,442.53 L89.91,442.70 L89.87,442.86 L89.83,443.01 L89.81,443.15 L89.80,443.27 L89.80,443.37 L89.82,443.45 L89.85,443.51 L89.90,443.55 L89.96,443.57 L90.04,443.56 L90.13,443.53 L90.24,443.48 L90.37,443.41 L90.51,443.31 L90.67,443.20 L90.84,443.06 L91.02,442.91 L91.22,442.75 L91.42,442.57 L91.63,442.38 L91.85,442.18 L92.07,441.97 L92.29,441.76 L92.52,441.55 L92.74,441.35 L92.96,441.14 L93.18,440.95 L93.38,440.76 L93.58,440.59 L93.77,440.43 L93.94,440.29 L94.10,440.17 L94.25,440.07 L94.37,440.00 L94.48,439.95 L94.57,439.93 L94.64,439.93 L94.69,439.97 L94.72,440.03 L94.73,440.12 L94.72,440.25 L94.69,440.39 L94.64,440.57 L94.57,440.77 L94.48,441.00 L94.38,441.25 L94.26,441.52 L94.13,441.81 L93.98,442.11 L93.83,442.43 L93.67,442.76 L93.51,443.10 L93.34,443.44 L93.17,443.78 L93.00,444.12 L92.83,444.46 L92.67,444.79 L92.52,445.10 L92.38,445.40 L92.25,445.69 L92.14,445.95 L92.04,446.19 L91.96,446.41 L91.90,446.60 L91.86,446.76 L91.85,446.88 L91.85,446.98 L91.88,447.05 L91.93,447.08 L92.00,447.08 L92.10,447.05 L92.23,446.98 L92.37,446.88 L92.54,446.75 L92.72,446.60 L92.93,446.41 L93.15,446.20 L93.39,445.97 L93.65,445.72 L93.91,445.45 L94.19,445.17 L94.47,444.88 L94.76,444.58 L95.06,444.27 L95.35,443.97 L95.64,443.67 L95.92,443.37 L96.20,443.08 L96.47,442.81 L96.73,442.56 L96.97,442.32 L97.20,442.11 L97.41,441.92 L97.60,441.76 L97.77,441.63 L97.91,441.53 L98.04,441.46 L98.14,441.42 L98.21,441.43 L98.26,441.46 L98.28,441.53 L98.28,441.64 L98.25,441.78 L98.20,441.96 L98.13,442.16 L98.04,442.40 L97.93,442.66 L97.79,442.95 L97.64,443.26 L97.48,443.60 L97.31,443.95 L97.12,444.31 L96.93,444.69 L96.73,445.07 L96.53,445.46 L96.33,445.84 L96.13,446.22 L95.93,446.60 L95.75,446.96 L95.57,447.32 L95.41,447.65 L95.26,447.96 L95.13,448.25 L95.01,448.52 L94.92,448.75 L94.84,448.96 L94.79,449.13 L94.77,449.28 L94.77,449.38 L94.79,449.46 L94.84,449.49 L94.91,449.50 L95.01,449.46 L95.13,449.40 L95.28,449.30 L95.44,449.17 L95.63,449.01 L95.84,448.82 L96.07,448.60 L96.31,448.37 L96.57,448.11 L96.84,447.84 L97.12,447.56 L97.40,447.26 L97.69,446.96 L97.98,446.66 L98.28,446.35 L98.57,446.05 L98.85,445.76 L99.13,445.47 L99.39,445.20 L99.65,444.95 L99.89,444.72 L100.11,444.51 L100.32,444.33 L100.51,444.17 L100.67,444.04 L100.82,443.94 L100.94,443.87 L101.04,443.84 L101.12,443.84 L101.17,443.87 L101.20,443.94 L101.20,444.03 L101.18,444.16 L101.15,444.32 L101.09,444.51 L101.01,444.72 L100.91,444.96 L100.80,445.23 L100.67,445.51 L100.53,445.81 L100.38,446.13 L100.22,446.45 L100.05,446.79 L99.89,447.13 L99.72,447.47 L99.55,447.81 L99.38,448.15 L99.22,448.48 L99.07,448.80 L98.92,449.10 L98.79,449.39 L98.67,449.67 L98.57,449.92 L98.48,450.14 L98.41,450.35 L98.36,450.52 L98.33,450.67 L98.32,450.79 L98.32,450.89 L98.35,450.95 L98.40,450.98 L98.47,450.99 L98.56,450.97 L98.67,450.92 L98.80,450.85 L98.94,450.75 L99.10,450.63 L99.28,450.49 L99.46,450.34 L99.66,450.16 L99.87,449.98 L100.08,449.78 L100.30,449.58 L100.53,449.37 L100.75,449.16 L100.97,448.95 L101.20,448.75 L101.41,448.55 L101.62,448.36 L101.83,448.18 L102.02,448.01 L102.20,447.86 L102.37,447.72 L102.53,447.61 L102.67,447.51 L102.80,447.44 L102.91,447.39 L103.01,447.36 L103.09,447.35 L103.15,447.37 L103.20,447.41 L103.23,447.47 L103.24,447.55 L103.25,447.65 L103.24,447.77 L103.22,447.91 L103.18,448.05 L103.14,448.22 L103.09,448.39 L103.04,448.57 L102.98,448.75 L102.93,448.94 L102.87,449.12 L102.82,449.30 L102.77,449.47 L102.73,449.63 L102.71,449.77 L102.71,449.87 L102.75,449.91 L102.80,449.95 L102.85,449.98 L102.90,450.02 L102.95,450.05 L103.00,450.09 L103.05,450.12 L103.10,450.16 L103.15,450.19 L103.20,450.23 L103.25,450.26 L103.30,450.30 L103.35,450.33 L103.40,450.37 L103.45,450.40 L103.50,450.44 L103.55,450.48 L103.60,450.51 L103.64,450.55 L103.69,450.58 L103.74,450.62 L103.79,450.65 L103.84,450.69 L103.89,450.72 L103.94,450.76 L103.99,450.79 L104.04,450.83 L104.09,450.86 L104.14,450.90 L104.19,450.93 L104.24,450.97 L104.29,451.01 L104.34,451.04 L104.39,451.08 L104.44,451.11 L104.49,451.15 L104.53,451.18 L104.58,451.22 L104.63,451.25 L104.68,451.29 L104.73,451.32 L104.78,451.36 L104.83,451.39" fill="none" stroke="#d030d0" stroke-width="1.25" stroke-linejoin="round"/>
<path d="M108.90,454.30 L103.38,453.43 L105.48,451.86 L106.28,449.36 Z" fill="#d030d0"/>
<path d="M97.20,429.00 L97.25,429.03 L97.30,429.07 L97.35,429.10 L97.39,429.13 L97.44,429.17 L97.49,429.20 L97.54,429.23 L97.59,429.27 L97.64,429.30 L97.68,429.33 L97.73,429.37 L97.78,429.40 L97.83,429.44 L97.88,429.47 L97.93,429.50 L97.97,429.54 L98.02,429.57 L98.07,429.60 L98.12,429.64 L98.17,429.67 L98.22,429.70 L98.26,429.74 L98.31,429.77 L98.36,429.80 L98.41,429.84 L98.46,429.87 L98.51,429.90 L98.55,429.94 L98.60,429.97 L98.65,430.00 L98.70,430.04 L98.75,430.07 L98.80,430.10 L98.84,430.14 L98.89,430.17 L98.94,430.20 L98.99,430.24 L99.04,430.27 L99.09,430.31 L99.13,430.34 L99.18,430.37 L99.23,430.41 L99.28,430.44 L99.33,430.47 L99.38,430.51 L99.42,430.54 L99.47,430.57 L99.52,430.61 L99.57,430.64 L99.62,430.67 L99.67,430.71 L99.71,430.74 L99.76,430.77 L99.81,430.81 L99.86,430.84 L99.91,430.87 L99.96,430.91 L100.00,430.94 L100.05,430.97 L100.10,431.01 L100.15,431.04 L100.20,431.08 L100.25,431.11 L100.29,431.14 L100.34,431.18 L100.39,431.21 L100.44,431.24 L100.49,431.28 L100.54,431.31 L100.58,431.34 L100.63,431.38 L100.68,431.41 L100.73,431.44 L100.78,431.48 L100.83,431.51 L100.87,431.54 L100.92,431.58 L100.97,431.61 L101.02,431.64 L101.07,431.68 L101.12,431.71 L101.16,431.74 L101.21,431.78 L101.26,431.81 L101.31,431.84 L101.36,431.88 L101.41,431.91 L101.45,431.95 L101.50,431.98 L101.55,432.01 L101.60,432.05 L101.65,432.08 L101.70,432.11 L101.74,432.15 L101.79,432.18 L101.84,432.21 L101.89,432.25 L101.94,432.28 L101.99,432.31 L102.03,432.35 L102.08,432.38 L102.13,432.41 L102.18,432.45 L102.23,432.48 L102.28,432.51 L102.32,432.55 L102.36,432.61 L102.35,432.72 L102.32,432.87 L102.28,433.03 L102.23,433.20 L102.18,433.38 L102.12,433.57 L102.06,433.75 L102.01,433.93 L101.96,434.11 L101.92,434.27 L101.88,434.43 L101.85,434.58 L101.83,434.71 L101.83,434.82 L101.83,434.91 L101.85,434.99 L101.89,435.04 L101.94,435.07 L102.00,435.08 L102.08,435.06 L102.18,435.03 L102.29,434.97 L102.42,434.89 L102.56,434.78 L102.72,434.66 L102.89,434.52 L103.07,434.36 L103.26,434.19 L103.46,434.01 L103.67,433.81 L103.88,433.61 L104.10,433.40 L104.31,433.18 L104.53,432.97 L104.75,432.76 L104.96,432.56 L105.17,432.36 L105.37,432.17 L105.56,432.00 L105.75,431.84 L105.91,431.70 L106.07,431.58 L106.21,431.49 L106.33,431.41 L106.43,431.37 L106.52,431.35 L106.58,431.35 L106.63,431.39 L106.66,431.45 L106.66,431.55 L106.65,431.67 L106.62,431.82 L106.57,432.00 L106.50,432.20 L106.41,432.43 L106.31,432.68 L106.19,432.95 L106.06,433.24 L105.92,433.55 L105.78,433.86 L105.62,434.19 L105.46,434.53 L105.29,434.87 L105.13,435.21 L104.96,435.55 L104.80,435.89 L104.65,436.21 L104.50,436.53 L104.37,436.83 L104.24,437.11 L104.13,437.38 L104.04,437.62 L103.96,437.83 L103.90,438.02 L103.86,438.18 L103.84,438.31 L103.85,438.41 L103.87,438.47 L103.92,438.51 L103.99,438.51 L104.09,438.47 L104.20,438.41 L104.34,438.31 L104.50,438.18 L104.68,438.02 L104.88,437.84 L105.10,437.63 L105.33,437.40 L105.58,437.14 L105.84,436.87 L106.10,436.59 L106.38,436.30 L106.66,435.99 L106.95,435.68 L107.23,435.38 L107.52,435.07 L107.79,434.77 L108.07,434.48 L108.33,434.20 L108.58,433.94 L108.82,433.70 L109.05,433.47 L109.26,433.28 L109.44,433.11 L109.61,432.97 L109.76,432.86 L109.89,432.78 L109.99,432.74 L110.06,432.73 L110.12,432.76 L110.15,432.82 L110.15,432.91 L110.13,433.04 L110.09,433.21 L110.03,433.41 L109.94,433.63 L109.84,433.89 L109.71,434.17 L109.57,434.48 L109.42,434.80 L109.25,435.15 L109.07,435.51 L108.89,435.88 L108.69,436.26 L108.50,436.65 L108.30,437.03 L108.11,437.42 L107.92,437.79 L107.73,438.16 L107.56,438.52 L107.40,438.86 L107.25,439.18 L107.11,439.48 L106.99,439.75 L106.89,440.00 L106.81,440.21 L106.76,440.40 L106.72,440.55 L106.71,440.67 L106.72,440.76 L106.76,440.81 L106.82,440.82 L106.91,440.80 L107.02,440.75 L107.15,440.66 L107.30,440.54 L107.48,440.39 L107.67,440.21 L107.89,440.01 L108.12,439.78 L108.36,439.53 L108.62,439.26 L108.88,438.98 L109.16,438.69 L109.44,438.38 L109.72,438.08 L110.01,437.77 L110.29,437.46 L110.57,437.16 L110.85,436.87 L111.11,436.59 L111.37,436.32 L111.61,436.08 L111.84,435.85 L112.05,435.65 L112.24,435.47 L112.41,435.33 L112.57,435.21 L112.70,435.12 L112.81,435.07 L112.90,435.04 L112.96,435.05 L113.00,435.10 L113.02,435.17 L113.02,435.28 L112.99,435.42 L112.95,435.59 L112.88,435.79 L112.80,436.01 L112.70,436.26 L112.58,436.53 L112.46,436.82 L112.32,437.12 L112.17,437.44 L112.01,437.77 L111.85,438.11 L111.68,438.45 L111.52,438.79 L111.35,439.13 L111.19,439.47 L111.04,439.79 L110.89,440.11 L110.76,440.41 L110.63,440.69 L110.52,440.96 L110.42,441.20 L110.34,441.42 L110.28,441.61 L110.23,441.78 L110.21,441.92 L110.20,442.04 L110.21,442.12 L110.25,442.18 L110.30,442.20 L110.37,442.20 L110.46,442.17 L110.57,442.12 L110.70,442.04 L110.85,441.93 L111.00,441.81 L111.18,441.66 L111.36,441.50 L111.55,441.32 L111.76,441.13 L111.97,440.93 L112.18,440.72 L112.40,440.51 L112.62,440.30 L112.84,440.09 L113.05,439.88 L113.27,439.68 L113.47,439.48 L113.67,439.30 L113.85,439.14 L114.03,438.98 L114.20,438.85 L114.35,438.73 L114.49,438.64 L114.61,438.56 L114.72,438.51 L114.81,438.48 L114.88,438.47 L114.94,438.49 L114.99,438.53 L115.02,438.59 L115.04,438.67 L115.04,438.77 L115.03,438.89 L115.01,439.02 L114.97,439.17 L114.93,439.33 L114.89,439.50 L114.84,439.68 L114.78,439.86 L114.73,440.05 L114.67,440.23 L114.62,440.41 L114.57,440.58 L114.54,440.73 L114.51,440.87 L114.51,440.98 L114.56,441.02 L114.60,441.05 L114.65,441.08 L114.70,441.12 L114.75,441.15 L114.80,441.18 L114.85,441.22 L114.89,441.25 L114.94,441.28 L114.99,441.32 L115.04,441.35 L115.09,441.38 L115.14,441.42 L115.18,441.45 L115.23,441.48 L115.28,441.52 L115.33,441.55 L115.38,441.58 L115.43,441.62 L115.47,441.65 L115.52,441.68 L115.57,441.72 L115.62,441.75 L115.67,441.78 L115.72,441.82 L115.76,441.85 L115.81,441.89 L115.86,441.92 L115.91,441.95 L115.96,441.99 L116.01,442.02 L116.05,442.05 L116.10,442.09 L116.15,442.12 L116.20,442.15 L116.25,442.19 L116.30,442.22 L116.34,442.25 L116.39,442.29 L116.44,442.32 L116.49,442.35" fill="none" stroke="#d030d0" stroke-width="1.25" stroke-linejoin="round"/>
<path d="M120.60,445.20 L115.07,444.41 L117.15,442.81 L117.91,440.30 Z" fill="#d030d0"/>
<rect x="90.8" y="608.6" width="13.3" height="22.699999999999932" fill="#ffd966" stroke="#ffc82a" stroke-width="0.9"/>
<rect x="148.6" y="608.6" width="14.0" height="22.699999999999932" fill="#ffd966" stroke="#ffc82a" stroke-width="0.9"/>
<line x1="108.5" y1="630.6999999999999" x2="124.2" y2="630.6999999999999" stroke="#000" stroke-width="1.5"/>
<line x1="128.6" y1="630.6999999999999" x2="144.2" y2="630.6999999999999" stroke="#000" stroke-width="1.5"/>
<rect x="104.5" y="583.6999999999999" width="3.6000000000000005" height="47.2" fill="#a3a3a3" stroke="#4a4a4a" stroke-width="0.8"/>
<rect x="124.60000000000001" y="583.6999999999999" width="3.6000000000000005" height="47.2" fill="#a3a3a3" stroke="#4a4a4a" stroke-width="0.8"/>
<rect x="144.6" y="583.6999999999999" width="3.6000000000000005" height="47.2" fill="#a3a3a3" stroke="#4a4a4a" stroke-width="0.8"/>
<line x1="109.9" y1="620.1" x2="115.7" y2="620.1" stroke="#000" stroke-width="1.6"/>
<line x1="138.20000000000002" y1="595.2" x2="142.4" y2="595.2" stroke="#000" stroke-width="1.6"/>
<path d="M115.7,620.1 L119.2,620.1 C126.15,620.1 123.15,595.5 133.10000000000002,595.5" fill="none" stroke="#ff0000" stroke-width="1.7"/>
<path d="M138.50000000000003,595.2 L132.60000000000002,592.2 L132.60000000000002,598.2 Z" fill="#ff0000"/>
<path d="M75.00,574.10 L75.05,574.14 L75.10,574.17 L75.15,574.21 L75.20,574.24 L75.24,574.28 L75.29,574.31 L75.34,574.35 L75.39,574.38 L75.44,574.42 L75.49,574.45 L75.54,574.49 L75.59,574.53 L75.63,574.56 L75.68,574.60 L75.73,574.63 L75.78,574.67 L75.83,574.70 L75.88,574.74 L75.93,574.77 L75.98,574.81 L76.02,574.85 L76.07,574.88 L76.12,574.92 L76.17,574.95 L76.22,574.99 L76.27,575.02 L76.32,575.06 L76.37,575.09 L76.41,575.13 L76.46,575.16 L76.51,575.20 L76.56,575.24 L76.61,575.27 L76.66,575.31 L76.71,575.34 L76.76,575.38 L76.80,575.41 L76.85,575.45 L76.90,575.48 L76.95,575.52 L77.00,575.55 L77.05,575.59 L77.10,575.63 L77.15,575.66 L77.19,575.70 L77.24,575.73 L77.29,575.77 L77.34,575.80 L77.39,575.84 L77.44,575.87 L77.49,575.91 L77.54,575.95 L77.58,575.98 L77.63,576.02 L77.68,576.05 L77.73,576.09 L77.78,576.12 L77.83,576.16 L77.88,576.19 L77.93,576.23 L77.97,576.26 L78.02,576.30 L78.07,576.34 L78.12,576.37 L78.17,576.41 L78.22,576.44 L78.27,576.48 L78.32,576.51 L78.36,576.55 L78.41,576.58 L78.46,576.62 L78.51,576.65 L78.56,576.69 L78.61,576.73 L78.66,576.76 L78.71,576.80 L78.75,576.83 L78.80,576.87 L78.85,576.90 L78.90,576.94 L78.95,576.97 L79.00,577.01 L79.05,577.05 L79.10,577.08 L79.14,577.12 L79.19,577.15 L79.24,577.19 L79.29,577.22 L79.34,577.26 L79.39,577.29 L79.44,577.33 L79.49,577.36 L79.54,577.40 L79.58,577.44 L79.63,577.47 L79.68,577.51 L79.73,577.54 L79.78,577.58 L79.83,577.61 L79.88,577.65 L79.93,577.68 L79.97,577.72 L80.02,577.75 L80.07,577.79 L80.12,577.83 L80.17,577.86 L80.18,577.96 L80.15,578.09 L80.12,578.24 L80.07,578.41 L80.01,578.59 L79.96,578.77 L79.90,578.95 L79.84,579.14 L79.78,579.32 L79.73,579.49 L79.69,579.65 L79.65,579.80 L79.63,579.94 L79.61,580.06 L79.61,580.17 L79.62,580.25 L79.65,580.32 L79.69,580.36 L79.75,580.38 L79.83,580.38 L79.92,580.35 L80.03,580.31 L80.16,580.24 L80.29,580.15 L80.45,580.04 L80.62,579.91 L80.80,579.76 L80.99,579.60 L81.19,579.43 L81.40,579.24 L81.62,579.04 L81.84,578.84 L82.07,578.63 L82.29,578.42 L82.52,578.22 L82.74,578.02 L82.96,577.82 L83.17,577.63 L83.37,577.46 L83.56,577.30 L83.74,577.16 L83.90,577.04 L84.05,576.94 L84.18,576.86 L84.29,576.81 L84.39,576.78 L84.46,576.78 L84.51,576.81 L84.55,576.87 L84.56,576.95 L84.55,577.07 L84.52,577.21 L84.47,577.38 L84.41,577.57 L84.32,577.80 L84.22,578.04 L84.10,578.30 L83.97,578.59 L83.82,578.89 L83.67,579.20 L83.51,579.53 L83.34,579.86 L83.17,580.20 L82.99,580.54 L82.82,580.88 L82.65,581.21 L82.49,581.54 L82.33,581.86 L82.19,582.16 L82.05,582.45 L81.93,582.71 L81.83,582.96 L81.75,583.18 L81.68,583.37 L81.63,583.54 L81.61,583.67 L81.61,583.78 L81.63,583.85 L81.67,583.89 L81.74,583.90 L81.83,583.88 L81.95,583.82 L82.09,583.73 L82.25,583.61 L82.43,583.46 L82.64,583.29 L82.86,583.09 L83.09,582.86 L83.35,582.62 L83.61,582.36 L83.89,582.08 L84.17,581.79 L84.46,581.50 L84.76,581.19 L85.05,580.89 L85.34,580.59 L85.63,580.30 L85.91,580.01 L86.19,579.74 L86.45,579.48 L86.70,579.24 L86.93,579.02 L87.15,578.83 L87.34,578.66 L87.52,578.52 L87.67,578.41 L87.80,578.34 L87.91,578.30 L87.99,578.29 L88.04,578.32 L88.07,578.38 L88.08,578.47 L88.06,578.60 L88.01,578.77 L87.94,578.96 L87.85,579.19 L87.74,579.44 L87.61,579.72 L87.47,580.03 L87.31,580.35 L87.13,580.70 L86.94,581.06 L86.75,581.43 L86.55,581.80 L86.34,582.19 L86.14,582.57 L85.94,582.95 L85.74,583.33 L85.55,583.69 L85.36,584.05 L85.19,584.38 L85.04,584.70 L84.90,585.00 L84.77,585.27 L84.67,585.51 L84.59,585.73 L84.53,585.91 L84.49,586.06 L84.48,586.18 L84.50,586.27 L84.53,586.31 L84.60,586.33 L84.69,586.31 L84.80,586.25 L84.94,586.17 L85.10,586.05 L85.29,585.90 L85.49,585.72 L85.71,585.52 L85.95,585.29 L86.20,585.04 L86.47,584.78 L86.75,584.50 L87.03,584.21 L87.33,583.91 L87.62,583.61 L87.91,583.31 L88.21,583.01 L88.49,582.72 L88.78,582.43 L89.05,582.16 L89.31,581.91 L89.56,581.67 L89.79,581.45 L90.00,581.26 L90.20,581.09 L90.37,580.96 L90.53,580.85 L90.66,580.77 L90.76,580.73 L90.85,580.71 L90.91,580.73 L90.94,580.79 L90.96,580.87 L90.95,580.99 L90.91,581.14 L90.86,581.31 L90.79,581.52 L90.69,581.75 L90.58,582.00 L90.46,582.27 L90.32,582.57 L90.17,582.88 L90.01,583.20 L89.84,583.53 L89.67,583.86 L89.50,584.20 L89.33,584.54 L89.16,584.88 L88.99,585.21 L88.83,585.53 L88.68,585.84 L88.54,586.14 L88.42,586.41 L88.30,586.67 L88.21,586.90 L88.13,587.12 L88.07,587.30 L88.03,587.46 L88.00,587.59 L88.00,587.70 L88.02,587.77 L88.06,587.82 L88.12,587.84 L88.21,587.83 L88.31,587.79 L88.43,587.73 L88.56,587.64 L88.72,587.54 L88.89,587.41 L89.07,587.26 L89.26,587.09 L89.47,586.91 L89.68,586.72 L89.90,586.53 L90.12,586.32 L90.35,586.11 L90.57,585.91 L90.80,585.70 L91.02,585.50 L91.23,585.31 L91.44,585.12 L91.64,584.95 L91.83,584.80 L92.01,584.66 L92.17,584.53 L92.32,584.43 L92.45,584.35 L92.57,584.29 L92.67,584.25 L92.76,584.24 L92.83,584.24 L92.88,584.27 L92.92,584.32 L92.94,584.39 L92.95,584.49 L92.94,584.60 L92.93,584.72 L92.90,584.87 L92.86,585.02 L92.81,585.19 L92.76,585.36 L92.70,585.55 L92.64,585.73 L92.58,585.91 L92.53,586.09 L92.47,586.27 L92.43,586.43 L92.40,586.58 L92.38,586.70 L92.41,586.77 L92.46,586.80 L92.51,586.84 L92.56,586.87 L92.60,586.91 L92.65,586.95 L92.70,586.98 L92.75,587.02 L92.80,587.05 L92.85,587.09 L92.90,587.12 L92.95,587.16 L92.99,587.19 L93.04,587.23 L93.09,587.26 L93.14,587.30 L93.19,587.34 L93.24,587.37 L93.29,587.41 L93.34,587.44 L93.38,587.48 L93.43,587.51 L93.48,587.55 L93.53,587.58 L93.58,587.62 L93.63,587.65 L93.68,587.69 L93.73,587.73 L93.77,587.76 L93.82,587.80 L93.87,587.83 L93.92,587.87 L93.97,587.90 L94.02,587.94 L94.07,587.97 L94.12,588.01 L94.16,588.05 L94.21,588.08 L94.26,588.12 L94.31,588.15 L94.36,588.19 L94.41,588.22 L94.46,588.26" fill="none" stroke="#d030d0" stroke-width="1.25" stroke-linejoin="round"/>
<path d="M98.50,591.20 L92.99,590.28 L95.10,588.73 L95.93,586.24 Z" fill="#d030d0"/>
<path d="M88.60,593.00 L88.65,593.04 L88.70,593.07 L88.75,593.11 L88.80,593.14 L88.84,593.18 L88.89,593.21 L88.94,593.25 L88.99,593.29 L89.04,593.32 L89.09,593.36 L89.14,593.39 L89.19,593.43 L89.23,593.46 L89.28,593.50 L89.33,593.54 L89.38,593.57 L89.43,593.61 L89.48,593.64 L89.53,593.68 L89.58,593.71 L89.62,593.75 L89.67,593.79 L89.72,593.82 L89.77,593.86 L89.82,593.89 L89.87,593.93 L89.92,593.96 L89.97,594.00 L90.01,594.04 L90.06,594.07 L90.11,594.11 L90.16,594.14 L90.21,594.18 L90.26,594.21 L90.31,594.25 L90.36,594.29 L90.41,594.32 L90.45,594.36 L90.50,594.39 L90.55,594.43 L90.60,594.46 L90.65,594.50 L90.70,594.54 L90.75,594.57 L90.80,594.61 L90.84,594.64 L90.89,594.68 L90.94,594.71 L90.99,594.75 L91.04,594.79 L91.09,594.82 L91.14,594.86 L91.19,594.89 L91.23,594.93 L91.28,594.96 L91.33,595.00 L91.38,595.04 L91.43,595.07 L91.48,595.11 L91.53,595.14 L91.58,595.18 L91.62,595.21 L91.67,595.25 L91.72,595.29 L91.77,595.32 L91.82,595.36 L91.87,595.39 L91.92,595.43 L91.97,595.46 L92.01,595.50 L92.06,595.54 L92.11,595.57 L92.16,595.61 L92.21,595.64 L92.26,595.68 L92.31,595.71 L92.36,595.75 L92.41,595.79 L92.45,595.82 L92.50,595.86 L92.55,595.89 L92.60,595.93 L92.65,595.96 L92.70,596.00 L92.75,596.04 L92.80,596.07 L92.84,596.11 L92.89,596.14 L92.94,596.18 L92.99,596.21 L93.04,596.25 L93.09,596.29 L93.14,596.32 L93.19,596.36 L93.23,596.39 L93.28,596.43 L93.33,596.46 L93.38,596.50 L93.43,596.53 L93.48,596.57 L93.53,596.61 L93.58,596.64 L93.62,596.68 L93.67,596.71 L93.72,596.75 L93.77,596.79 L93.77,596.88 L93.75,597.02 L93.71,597.17 L93.66,597.34 L93.61,597.52 L93.55,597.70 L93.49,597.89 L93.43,598.07 L93.38,598.25 L93.32,598.42 L93.28,598.58 L93.24,598.73 L93.22,598.87 L93.21,598.99 L93.21,599.09 L93.22,599.18 L93.25,599.24 L93.29,599.28 L93.35,599.30 L93.43,599.30 L93.52,599.27 L93.63,599.23 L93.76,599.16 L93.90,599.07 L94.05,598.96 L94.22,598.83 L94.41,598.68 L94.60,598.52 L94.80,598.34 L95.02,598.16 L95.23,597.96 L95.46,597.76 L95.68,597.55 L95.91,597.34 L96.14,597.14 L96.36,596.94 L96.58,596.74 L96.79,596.56 L96.99,596.38 L97.18,596.23 L97.35,596.09 L97.52,595.97 L97.66,595.87 L97.79,595.79 L97.91,595.74 L98.00,595.72 L98.07,595.72 L98.12,595.75 L98.16,595.81 L98.17,595.90 L98.16,596.01 L98.13,596.16 L98.08,596.33 L98.01,596.53 L97.92,596.75 L97.81,596.99 L97.69,597.26 L97.56,597.54 L97.42,597.84 L97.26,598.16 L97.10,598.49 L96.93,598.82 L96.76,599.16 L96.58,599.50 L96.41,599.84 L96.24,600.17 L96.07,600.50 L95.92,600.81 L95.77,601.11 L95.64,601.40 L95.52,601.66 L95.42,601.91 L95.33,602.13 L95.27,602.32 L95.22,602.48 L95.20,602.62 L95.20,602.72 L95.22,602.79 L95.27,602.83 L95.34,602.83 L95.43,602.81 L95.55,602.75 L95.69,602.66 L95.86,602.53 L96.04,602.38 L96.25,602.21 L96.47,602.00 L96.71,601.78 L96.96,601.53 L97.23,601.27 L97.51,600.99 L97.79,600.71 L98.08,600.41 L98.38,600.11 L98.68,599.81 L98.97,599.51 L99.26,599.22 L99.54,598.93 L99.82,598.66 L100.08,598.40 L100.33,598.17 L100.56,597.95 L100.77,597.76 L100.97,597.60 L101.14,597.46 L101.29,597.36 L101.42,597.28 L101.53,597.25 L101.60,597.24 L101.66,597.27 L101.68,597.34 L101.69,597.44 L101.66,597.57 L101.62,597.74 L101.55,597.93 L101.45,598.16 L101.34,598.42 L101.21,598.70 L101.06,599.01 L100.89,599.34 L100.72,599.68 L100.53,600.04 L100.33,600.41 L100.13,600.79 L99.92,601.17 L99.72,601.56 L99.52,601.94 L99.32,602.31 L99.12,602.68 L98.94,603.03 L98.77,603.36 L98.62,603.68 L98.48,603.97 L98.35,604.24 L98.25,604.48 L98.17,604.69 L98.11,604.87 L98.08,605.02 L98.07,605.14 L98.09,605.22 L98.13,605.26 L98.20,605.27 L98.29,605.25 L98.41,605.19 L98.55,605.10 L98.71,604.98 L98.90,604.83 L99.11,604.65 L99.33,604.44 L99.57,604.21 L99.83,603.97 L100.10,603.70 L100.38,603.42 L100.66,603.13 L100.96,602.83 L101.25,602.53 L101.55,602.23 L101.84,601.93 L102.13,601.64 L102.41,601.36 L102.68,601.09 L102.94,600.84 L103.19,600.60 L103.42,600.39 L103.63,600.20 L103.83,600.04 L104.00,599.91 L104.15,599.80 L104.28,599.73 L104.38,599.69 L104.46,599.68 L104.52,599.70 L104.56,599.76 L104.57,599.85 L104.55,599.97 L104.52,600.12 L104.46,600.30 L104.38,600.51 L104.29,600.74 L104.17,601.00 L104.05,601.27 L103.91,601.57 L103.75,601.88 L103.59,602.20 L103.43,602.53 L103.25,602.87 L103.08,603.21 L102.91,603.55 L102.74,603.88 L102.57,604.21 L102.41,604.53 L102.26,604.84 L102.12,605.13 L102.00,605.40 L101.89,605.66 L101.79,605.89 L101.71,606.10 L101.65,606.28 L101.61,606.44 L101.60,606.57 L101.60,606.67 L101.62,606.74 L101.66,606.78 L101.73,606.80 L101.81,606.79 L101.91,606.75 L102.04,606.68 L102.18,606.59 L102.33,606.48 L102.50,606.35 L102.69,606.20 L102.89,606.03 L103.09,605.85 L103.31,605.66 L103.53,605.46 L103.75,605.26 L103.98,605.05 L104.20,604.84 L104.43,604.64 L104.65,604.44 L104.86,604.25 L105.07,604.07 L105.27,603.90 L105.46,603.75 L105.63,603.61 L105.79,603.49 L105.94,603.39 L106.07,603.31 L106.19,603.26 L106.29,603.22 L106.38,603.21 L106.44,603.22 L106.49,603.25 L106.53,603.31 L106.55,603.38 L106.56,603.48 L106.55,603.59 L106.53,603.72 L106.50,603.86 L106.46,604.02 L106.41,604.19 L106.35,604.36 L106.30,604.55 L106.24,604.73 L106.18,604.91 L106.12,605.09 L106.07,605.27 L106.02,605.43 L105.99,605.57 L105.98,605.69 L106.02,605.75 L106.07,605.78 L106.11,605.82 L106.16,605.85 L106.21,605.89 L106.26,605.93 L106.31,605.96 L106.36,606.00 L106.41,606.03 L106.46,606.07 L106.50,606.10 L106.55,606.14 L106.60,606.18 L106.65,606.21 L106.70,606.25 L106.75,606.28 L106.80,606.32 L106.85,606.35 L106.89,606.39 L106.94,606.43 L106.99,606.46 L107.04,606.50 L107.09,606.53 L107.14,606.57 L107.19,606.60 L107.24,606.64 L107.28,606.68 L107.33,606.71 L107.38,606.75 L107.43,606.78 L107.48,606.82 L107.53,606.85 L107.58,606.89 L107.63,606.93 L107.67,606.96 L107.72,607.00 L107.77,607.03 L107.82,607.07 L107.87,607.10 L107.92,607.14 L107.97,607.18 L108.02,607.21 L108.07,607.25" fill="none" stroke="#d030d0" stroke-width="1.25" stroke-linejoin="round"/>
<path d="M112.10,610.20 L106.59,609.26 L108.71,607.72 L109.54,605.23 Z" fill="#d030d0"/>
<path d="M102.10,584.90 L102.15,584.94 L102.19,584.97 L102.24,585.01 L102.28,585.04 L102.33,585.08 L102.38,585.11 L102.42,585.15 L102.47,585.18 L102.51,585.22 L102.56,585.25 L102.61,585.29 L102.65,585.33 L102.70,585.36 L102.74,585.40 L102.79,585.43 L102.84,585.47 L102.88,585.50 L102.93,585.54 L102.97,585.57 L103.02,585.61 L103.07,585.64 L103.11,585.68 L103.16,585.72 L103.20,585.75 L103.25,585.79 L103.30,585.82 L103.34,585.86 L103.39,585.89 L103.43,585.93 L103.48,585.96 L103.52,586.00 L103.57,586.03 L103.62,586.07 L103.66,586.11 L103.71,586.14 L103.75,586.18 L103.80,586.21 L103.85,586.25 L103.89,586.28 L103.94,586.32 L103.98,586.35 L104.03,586.39 L104.08,586.42 L104.12,586.46 L104.17,586.50 L104.21,586.53 L104.26,586.57 L104.31,586.60 L104.35,586.64 L104.40,586.67 L104.44,586.71 L104.49,586.74 L104.54,586.78 L104.58,586.81 L104.63,586.85 L104.67,586.89 L104.72,586.92 L104.77,586.96 L104.81,586.99 L104.86,587.03 L104.90,587.06 L104.95,587.10 L105.00,587.13 L105.04,587.17 L105.09,587.20 L105.13,587.24 L105.18,587.28 L105.23,587.31 L105.27,587.35 L105.32,587.38 L105.36,587.42 L105.41,587.45 L105.46,587.49 L105.50,587.52 L105.55,587.56 L105.59,587.59 L105.64,587.63 L105.69,587.67 L105.73,587.70 L105.78,587.74 L105.82,587.77 L105.87,587.81 L105.92,587.84 L105.96,587.88 L106.01,587.91 L106.05,587.95 L106.10,587.98 L106.15,588.02 L106.19,588.06 L106.24,588.09 L106.28,588.13 L106.33,588.16 L106.37,588.20 L106.42,588.23 L106.47,588.27 L106.51,588.30 L106.56,588.34 L106.60,588.37 L106.65,588.41 L106.70,588.45 L106.74,588.48 L106.79,588.52 L106.83,588.55 L106.88,588.59 L106.93,588.62 L106.97,588.66 L107.01,588.70 L107.00,588.81 L106.97,588.95 L106.92,589.10 L106.87,589.27 L106.81,589.45 L106.74,589.62 L106.67,589.80 L106.61,589.98 L106.55,590.16 L106.49,590.32 L106.45,590.48 L106.41,590.63 L106.38,590.76 L106.36,590.87 L106.36,590.97 L106.37,591.05 L106.40,591.11 L106.44,591.15 L106.50,591.17 L106.58,591.16 L106.67,591.14 L106.78,591.09 L106.91,591.02 L107.05,590.93 L107.21,590.82 L107.38,590.70 L107.56,590.55 L107.76,590.40 L107.96,590.23 L108.18,590.04 L108.40,589.85 L108.62,589.66 L108.85,589.46 L109.08,589.25 L109.31,589.05 L109.53,588.86 L109.75,588.67 L109.96,588.49 L110.16,588.32 L110.36,588.17 L110.53,588.03 L110.70,587.92 L110.85,587.82 L110.98,587.74 L111.09,587.69 L111.18,587.67 L111.25,587.67 L111.31,587.70 L111.34,587.75 L111.35,587.84 L111.33,587.95 L111.30,588.09 L111.25,588.25 L111.17,588.44 L111.08,588.65 L110.97,588.89 L110.85,589.15 L110.71,589.42 L110.56,589.71 L110.40,590.02 L110.23,590.33 L110.05,590.66 L109.87,590.99 L109.69,591.32 L109.50,591.65 L109.32,591.98 L109.15,592.30 L108.98,592.61 L108.83,592.91 L108.68,593.19 L108.55,593.45 L108.44,593.70 L108.34,593.92 L108.26,594.11 L108.21,594.28 L108.17,594.42 L108.16,594.53 L108.17,594.61 L108.21,594.66 L108.27,594.67 L108.36,594.66 L108.46,594.61 L108.60,594.53 L108.75,594.43 L108.93,594.29 L109.13,594.13 L109.35,593.94 L109.59,593.73 L109.84,593.50 L110.10,593.25 L110.38,592.99 L110.67,592.71 L110.96,592.43 L111.26,592.13 L111.56,591.84 L111.85,591.55 L112.15,591.26 L112.44,590.98 L112.72,590.71 L112.99,590.45 L113.25,590.22 L113.49,590.00 L113.72,589.80 L113.92,589.63 L114.11,589.48 L114.27,589.36 L114.41,589.28 L114.53,589.22 L114.62,589.20 L114.68,589.22 L114.72,589.26 L114.73,589.34 L114.72,589.45 L114.68,589.60 L114.62,589.78 L114.53,589.98 L114.42,590.22 L114.29,590.48 L114.14,590.77 L113.98,591.07 L113.80,591.40 L113.61,591.74 L113.41,592.10 L113.20,592.46 L112.99,592.83 L112.77,593.21 L112.56,593.58 L112.35,593.95 L112.14,594.31 L111.94,594.67 L111.75,595.00 L111.58,595.33 L111.42,595.63 L111.28,595.91 L111.16,596.16 L111.05,596.39 L110.97,596.59 L110.92,596.76 L110.88,596.89 L110.88,597.00 L110.90,597.07 L110.94,597.10 L111.01,597.11 L111.11,597.08 L111.23,597.01 L111.38,596.92 L111.55,596.79 L111.74,596.64 L111.95,596.46 L112.18,596.26 L112.43,596.03 L112.69,595.79 L112.96,595.53 L113.25,595.26 L113.54,594.97 L113.84,594.68 L114.13,594.39 L114.43,594.10 L114.73,593.81 L115.02,593.52 L115.31,593.25 L115.58,592.99 L115.84,592.75 L116.09,592.52 L116.32,592.32 L116.53,592.14 L116.73,591.98 L116.90,591.85 L117.05,591.75 L117.18,591.68 L117.28,591.65 L117.36,591.64 L117.41,591.66 L117.44,591.72 L117.45,591.81 L117.43,591.93 L117.39,592.07 L117.33,592.25 L117.24,592.45 L117.14,592.68 L117.02,592.93 L116.89,593.20 L116.74,593.48 L116.58,593.79 L116.41,594.10 L116.24,594.42 L116.06,594.75 L115.87,595.08 L115.69,595.42 L115.51,595.74 L115.33,596.07 L115.17,596.38 L115.01,596.68 L114.86,596.97 L114.72,597.24 L114.60,597.49 L114.50,597.72 L114.41,597.93 L114.34,598.11 L114.30,598.27 L114.27,598.40 L114.26,598.50 L114.28,598.58 L114.31,598.63 L114.37,598.65 L114.45,598.64 L114.55,598.61 L114.67,598.55 L114.80,598.47 L114.95,598.37 L115.12,598.24 L115.30,598.10 L115.50,597.94 L115.70,597.77 L115.92,597.59 L116.14,597.40 L116.36,597.20 L116.59,597.00 L116.82,596.80 L117.05,596.60 L117.27,596.41 L117.49,596.22 L117.70,596.04 L117.90,595.87 L118.10,595.72 L118.28,595.58 L118.44,595.46 L118.60,595.35 L118.74,595.27 L118.86,595.21 L118.96,595.16 L119.05,595.14 L119.12,595.15 L119.18,595.17 L119.22,595.21 L119.24,595.28 L119.25,595.37 L119.24,595.47 L119.22,595.59 L119.19,595.72 L119.15,595.87 L119.10,596.03 L119.04,596.20 L118.98,596.38 L118.92,596.56 L118.85,596.74 L118.79,596.92 L118.72,597.09 L118.67,597.25 L118.63,597.40 L118.60,597.53 L118.60,597.63 L118.65,597.66 L118.69,597.70 L118.74,597.73 L118.79,597.77 L118.83,597.81 L118.88,597.84 L118.92,597.88 L118.97,597.91 L119.02,597.95 L119.06,597.98 L119.11,598.02 L119.15,598.05 L119.20,598.09 L119.25,598.12 L119.29,598.16 L119.34,598.20 L119.38,598.23 L119.43,598.27 L119.48,598.30 L119.52,598.34 L119.57,598.37 L119.61,598.41 L119.66,598.44 L119.71,598.48 L119.75,598.51 L119.80,598.55 L119.84,598.59 L119.89,598.62 L119.94,598.66 L119.98,598.69 L120.03,598.73 L120.07,598.76 L120.12,598.80 L120.17,598.83 L120.21,598.87 L120.26,598.90 L120.30,598.94 L120.35,598.98 L120.39,599.01 L120.44,599.05" fill="none" stroke="#d030d0" stroke-width="1.25" stroke-linejoin="round"/>
<path d="M124.40,602.10 L118.91,601.03 L121.07,599.53 L121.97,597.07 Z" fill="#d030d0"/>
</svg></body></html>
